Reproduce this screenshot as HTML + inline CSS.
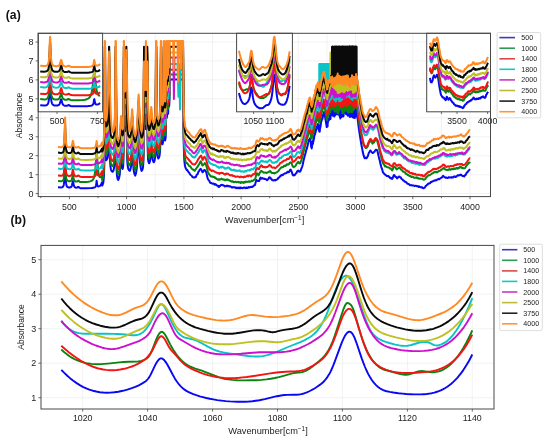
<!DOCTYPE html>
<html lang="en"><head><meta charset="utf-8"><title>Absorbance spectra</title>
<style>html,body{margin:0;padding:0;background:#fff}svg{display:block}</style></head>
<body>
<svg width="550" height="445" viewBox="0 0 550 445" font-family="'Liberation Sans', Arial, sans-serif">
<rect width="550" height="445" fill="#fff"/>
<defs>
<clipPath id="ca"><rect x="38.2" y="33.3" width="452.3" height="163.3"/></clipPath>
<clipPath id="ci1"><rect x="38.2" y="33.3" width="64.4" height="78.5"/></clipPath>
<clipPath id="ci2"><rect x="236.6" y="33.3" width="55.8" height="78.5"/></clipPath>
<clipPath id="ci3"><rect x="426.7" y="33.3" width="63.8" height="78.5"/></clipPath>
<clipPath id="cb"><rect x="41" y="245.4" width="453" height="163.6"/></clipPath>
</defs>
<path d="M40.8 33.3V196.6M69.4 33.3V196.6M98 33.3V196.6M126.6 33.3V196.6M155.2 33.3V196.6M183.9 33.3V196.6M212.5 33.3V196.6M241.1 33.3V196.6M269.7 33.3V196.6M298.3 33.3V196.6M326.9 33.3V196.6M355.6 33.3V196.6M384.2 33.3V196.6M412.8 33.3V196.6M441.4 33.3V196.6M470 33.3V196.6M38.2 193.6H490.5M38.2 174.7H490.5M38.2 155.7H490.5M38.2 136.8H490.5M38.2 117.8H490.5M38.2 98.8H490.5M38.2 79.9H490.5M38.2 60.9H490.5M38.2 42H490.5" stroke="#ececec" stroke-width="0.7" fill="none"/>
<g clip-path="url(#ca)" fill="none" stroke-linejoin="round" stroke-linecap="butt">
<polyline points="58,187.2 60.9,187.5 61.4,187.4 62.2,187.2 62.8,186.8 63.2,186.3 63.6,185.5 63.8,184.7 64.1,182.3 64.5,176.8 65.1,157.6 65.5,173.6 65.9,181 66.1,183.4 66.4,185.2 66.9,186.3 67.5,187 68.4,187.4 69.5,187.5 70.5,187.3 71.2,186.9 71.7,186.2 72,185.3 72.7,181.7 72.9,181.1 73.2,181.7 73.7,184.9 74.2,186.3 74.6,186.9 74.9,187.2 75.5,187.5 76,187.7 77.1,187.6 78.1,186.9 78.3,186.9 78.6,187 79.4,187.7 79.8,187.9 80.7,188.2 81.6,188.2 85.9,188.2 91.4,188.1 92.3,188 94.2,187.6 94.8,187.3 95.3,187 95.6,186.6 95.8,186.1 96.2,184.5 96.6,180.8 97.2,184.9 97.6,186 97.9,186.3 98.2,186.4 98.7,186.4 99.7,186.1 100.4,185.3 101.1,184.3 102,182.4 102.1,185.6 102.7,184.7 103.3,182.8 103.7,179 104,175.2 104.2,168 104.5,138 104.8,79.5 105,79.5 105.1,81.8 105.2,131.5 105.3,146.8 105.5,153 105.7,157.7 105.9,159.4 106.1,160.2 106.8,159.6 107.4,158.5 107.7,157.1 108,155.3 108.3,149.9 108.7,132.8 109,79.5 109.2,79.5 109.6,134.3 109.8,152 110,160.2 110.4,165.8 110.8,168.9 111.2,170.1 111.5,170.8 112,171.4 112.6,171.8 113,171.3 113.5,170.4 114,168.1 114.4,165.2 114.7,159.4 115,151.4 115.2,134.6 115.5,79.5 115.9,79.5 116,87.9 116.2,145.1 116.4,163.5 116.7,171 117,175.8 117.5,178.4 117.8,179.4 118.2,180 118.6,179.1 119.1,177.8 119.4,176.3 119.8,174 120.2,168.8 120.9,157.2 121.1,155.7 121.3,156.5 121.7,164.5 122.1,167.3 122.3,168.2 122.6,169 123,167.6 123.2,165.5 123.4,159.6 123.5,152 123.8,79.5 124,79.5 124.2,117.6 124.3,123.6 124.6,128.3 124.8,130 125.1,131.1 125.5,130.4 125.7,129.2 125.9,125 126.1,118 126.3,79.5 126.4,79.5 126.9,142.8 127.2,158.6 127.4,163 127.7,165.6 128.1,168.2 128.5,169.3 128.9,170.1 129.4,170.5 129.8,170.9 130.4,169.4 130.9,167.1 131.2,163.8 131.9,150.9 132.1,148.7 132.4,150.3 133,162.7 133.6,169.5 134,171.8 134.3,173.4 134.8,174.7 135.2,175.6 135.8,174 136.2,172.1 136.7,169 137,165.5 137.6,155.9 138.4,135.9 138.6,133.9 138.9,136.2 139.8,158.3 140.1,163.1 140.5,166.2 140.9,168.7 141.6,170.9 142.2,170.2 142.5,169.4 142.9,168 143.1,166.2 143.5,159.8 143.7,147.8 144,79.5 144.1,79.5 144.4,120.7 144.6,127.3 144.8,128.7 145.1,129.2 145.3,128 145.5,124.1 145.9,79.5 146.1,120.3 146.2,125.7 146.3,127.7 146.5,129.2 146.8,128.6 147,126.4 147.1,122.6 147.2,107.2 147.3,79.5 147.5,87.7 147.6,125.2 147.8,151 147.9,155.4 148.1,159.5 148.5,161.9 148.9,163 149.2,163.3 149.6,162.3 150,161.1 150.2,159.7 150.6,156.2 151,148.3 151.2,146.2 151.5,147.6 152.3,157.4 152.6,159.5 153,160.8 153.3,161.7 153.8,162.3 154.1,161.8 154.7,160.2 155.1,156.9 155.5,150.3 155.7,139.2 156,79.5 156.4,79.5 156.7,134.9 157,147.9 157.2,153 157.4,155.4 157.8,157.2 158,157.9 158.3,158.5 158.8,157.9 159.1,157.1 159.5,155.8 159.7,154.4 160.1,150.3 160.3,144.5 160.6,119.9 160.9,79.5 161.2,79.5 161.3,108.8 161.5,134.5 161.7,138.4 161.9,141.8 162.1,143.3 162.5,144.3 162.9,142.9 163.1,141.2 163.4,137.2 163.5,132.8 163.8,79.5 164.1,79.5 164.3,128.6 164.5,136.8 164.7,139.2 165.1,140.5 165.4,139.2 165.7,136.8 165.9,128.6 166.1,79.5 166.2,79.5 166.5,112.3 166.6,115.9 166.8,117.8 167,115.9 167.1,112.3 167.4,79.5 167.6,108.7 167.7,112.2 168,114 168.2,112.2 168.3,108.7 168.5,79.5 168.8,101.4 168.9,104.7 169.1,106.4 169.3,104.7 169.4,101.4 169.7,79.5 183.1,79.5 183.5,132 183.9,149.9 184.1,155.9 184.4,161.3 184.9,165.1 185.3,167.1 185.9,168.5 186.7,170 187,170.2 187.3,170 188.1,171.6 189.2,172.7 190.2,174.5 190.6,175 191.5,175.5 192.4,177 193.1,177.2 193.7,177.6 194.4,177.4 194.8,177.4 195.3,177 195.5,176.9 195.8,177 196,176.8 196.7,174.6 196.9,174.4 197.3,174.4 197.5,174.3 198.5,171.7 198.7,171.3 199.1,171.1 199.7,169.7 199.9,169.4 200.3,169.3 200.8,168.9 201,169.1 201.8,170.6 202.4,172.1 202.6,172.3 203,172 204.2,170.1 204.5,169.9 204.6,169.9 204.9,170.2 206,171.6 206.6,173.8 207.4,177.6 208,179.2 208.4,179.8 209.3,180.9 210.2,182.8 210.5,182.9 211.4,182.9 212,183.5 212.4,183.5 212.9,183.8 213.4,183.6 213.6,183.6 214.4,184.3 214.8,184.8 215,184.7 215.3,184.2 215.6,184.1 216.5,185.1 217.1,185.4 217.4,185.8 217.6,185.9 218,185.8 218.1,185.9 218.5,186.8 218.8,187 218.9,187 219.1,186.8 219.7,185.8 219.9,185.7 220.1,185.9 220.4,185.9 220.9,184.9 221.2,184.9 221.6,185 222.1,184.8 222.9,185.3 223.8,185.3 224.6,186.4 224.8,186.4 225.3,186.1 226.3,186.2 227,185.6 227.7,186.2 228.5,185.8 228.7,185.9 229.2,186.5 230.3,186.3 230.9,186.8 231.4,186.9 231.9,187.5 232.4,187.3 232.8,187.4 233.4,187.1 234.5,187.6 235,187.2 235.9,188.2 236.2,188.2 236.7,187.5 237.3,188.1 237.9,187.7 238.5,188.1 239,187.6 239.3,187.7 239.9,188.4 240.2,188.2 240.5,187.5 240.7,187.4 241.2,188 241.9,187.9 242.8,188.2 243.7,187.5 244.2,187.5 244.6,187.7 245.3,188.2 245.6,188.2 246.2,187.4 246.5,187.5 247,188.1 247.4,187.9 247.8,187.9 248.1,187.8 248.5,187.1 248.8,187 249.3,187.4 249.6,187.4 250.2,187.2 250.8,187.1 251.3,186.7 251.7,186.9 252.4,187 252.7,186.8 253.1,186.2 254.1,185.4 254.8,185.2 255.1,184.8 255.7,182.1 256.4,180.1 256.7,180.1 257.2,180.6 257.8,180.9 258.8,181.1 259.1,181.1 259.3,180.7 260,178.7 260.5,177.6 260.8,177.7 261.3,178.7 261.6,178.6 261.9,178.3 262.7,178.1 263.4,178.8 264,178.6 264.4,178.9 264.9,178.9 266,179.3 266.8,180.1 267.1,180.2 267.6,179.4 267.8,179.3 268.1,179.4 268.3,179.2 269,177.6 269.2,177.3 269.5,177.3 270.4,177.7 271,178.9 271.2,179 271.5,178.9 272.1,180 272.3,180.2 272.8,180.2 273.8,180.4 274.7,180 275.3,180.4 275.4,180.4 275.9,179.7 276.5,179.8 276.9,179.4 277.4,179.3 277.6,179.2 278.4,177.7 278.6,177.5 279,177.5 279.2,177.4 279.7,176.8 280.2,176.3 280.9,175.2 281.6,175.5 282.2,174.8 282.6,175.1 282.8,175.1 283.4,174.2 284.2,173.8 284.6,173.5 285.6,173.2 286.4,173 286.6,172.9 287.4,171.7 287.7,171.7 288.2,172.2 288.5,172.3 288.7,172.2 289.2,171.7 290.1,169.9 290.4,169.5 290.7,169.7 291.7,171.7 292.3,173.6 292.6,174.5 292.9,175.1 293.3,175.4 293.5,175.4 294,174.9 294.2,174.9 294.5,175.3 294.8,175.1 295.6,173.7 295.8,173.5 296.1,173.4 296.4,173.1 297.1,171.5 297.3,171.3 297.6,171.2 298.1,170.6 298.3,170.7 298.8,171.5 298.9,171.5 299.4,171.2 299.9,171.8 300.7,170.6 301.3,168.7 301.9,167.6 302.1,166.9 302.8,164.2 303.5,160.7 304.7,156 305.6,153 306,151.2 306.1,151.1 306.2,150.2 306.6,149.2 306.7,149.3 306.9,148.6 307.1,147.2 307.2,147.3 307.5,146 307.6,146.1 307.7,145.7 307.8,144.3 307.9,144.3 308.2,142.9 308.3,143.2 308.5,141 308.6,140.9 308.7,140.1 308.9,140.9 309,140.3 309.1,140.7 309.2,140.6 309.3,140.8 309.4,140.5 309.5,140.5 309.7,139.7 309.8,139.6 309.9,138.5 310,138.3 310.1,139 310.2,139 310.5,141.2 310.7,141.8 310.8,141.6 311,146 311.1,145 311.3,147.5 311.5,145.8 311.7,148.5 311.8,147.1 311.9,147.5 312.1,145.3 312.3,143.9 312.4,144.8 312.5,143.4 312.6,144.5 312.7,141.3 312.9,140.8 313,143.8 313.2,140 313.3,141.3 313.4,141.5 313.5,141.1 313.7,137.9 313.8,140 314,136 314.1,138.4 314.2,135.5 314.3,136.1 314.6,135.1 314.7,135.2 314.8,132.9 315.1,134.2 315.4,129.8 315.5,129.8 315.6,132.5 315.8,130.2 315.9,130 316.1,130.7 316.4,127.2 316.5,126.9 316.7,126.6 316.9,128.9 317.1,127.5 317.2,127.7 317.3,127 317.4,126.9 317.5,126.9 317.7,128 317.8,124.6 317.9,124.1 318.1,126.4 318.4,124.4 318.5,126.1 318.7,126.8 318.8,126.3 319,130.6 319.3,128.1 319.4,131.3 319.5,131.7 319.6,131.7 319.7,131.5 319.8,130.9 320,128.2 320.1,128.4 320.2,127.3 320.4,127.3 320.5,124.9 320.6,126.5 321.1,121.5 321.2,121.6 321.3,120.9 321.4,121.7 321.7,118.9 321.8,120.1 321.9,118.5 322,119 322.2,117.8 322.4,119.1 322.6,118 322.7,116.2 322.9,114.8 323,116.3 323.2,115.6 323.3,116 323.4,113.9 323.6,114.9 323.7,115 323.8,112.3 324,114.2 324.1,112.3 324.2,115 324.3,115.6 324.4,113.9 324.5,113.3 324.6,116.5 324.8,114.2 324.9,115.6 325,114.9 325.1,115.3 325.2,117.8 325.3,116.4 325.4,119.8 325.6,119.3 325.8,121.3 326,120.7 326.1,123.9 326.2,123.2 326.4,123.9 326.5,125.9 326.6,125 326.7,127.1 326.8,126.4 326.9,126.6 327.2,125.1 327.3,124.8 327.5,126.5 327.6,126 327.7,123.3 328.1,121.1 328.2,121.5 328.3,119.8 328.4,120.3 328.5,120.1 328.7,119.2 328.8,119.7 329,118.2 329.1,120 329.2,118.3 329.3,119.7 329.6,116.9 329.7,116.3 329.8,116.2 329.9,116.4 330.1,114.9 330.5,119.1 330.6,113.9 330.8,113.2 330.9,113.8 331.2,111.8 331.3,112.9 331.4,111.5 331.5,115.1 331.6,112 331.7,110.9 331.9,111.2 332.1,115.3 332.2,109.8 332.3,115.2 332.4,108.4 332.5,114.4 332.7,108.8 332.8,113 332.9,108.1 333,114.8 333.1,115.8 333.2,111.1 333.3,110.4 333.5,114.6 333.7,111.8 333.8,115.3 334,112.6 334.3,116.4 334.4,109 334.5,116.3 334.6,107.9 334.7,108.9 334.8,112.3 334.9,108 335.1,115.2 335.2,110.2 335.3,111.9 335.4,112.2 335.5,106.4 335.6,114.4 335.7,106.5 335.9,113.9 336,108.1 336.1,111.7 336.3,105.2 336.4,106.3 336.5,112.8 336.9,107.3 337,114.2 337.1,106.3 337.2,106.6 337.4,105.5 337.5,112.6 337.6,112.5 337.7,106.5 338,114.5 338.3,108.7 338.4,108.4 338.5,112.3 338.6,107.3 338.7,111.4 338.8,111.6 339,113.1 339.2,114 339.3,109.9 339.5,115.9 339.8,109.5 340,117.4 340.1,114.5 340.2,114.1 340.3,118.4 340.4,109.4 340.6,109.8 340.7,117.4 340.8,113.1 340.9,115.2 341,116 341.1,115.3 341.2,117.2 341.4,111 341.5,113.8 341.7,109 342,115 342.2,110.2 342.3,110.1 342.4,109.3 342.5,115.6 342.6,116.6 342.7,108.8 343,116.3 343.1,110.4 343.2,116.5 343.3,111 343.4,111.8 343.5,110.2 343.6,116 343.8,108.1 344,106.9 344.2,112.6 344.3,105.9 344.4,109 344.6,107.8 344.7,108.1 344.8,112.1 344.9,105.9 345.1,111.8 345.2,110.4 345.4,112.7 345.6,105 345.7,110.9 345.8,110.9 345.9,107.1 346,114 346.2,113.8 346.3,108 346.4,113.9 346.6,107.5 346.9,114.5 347,113.2 347.2,106.1 347.3,108.9 347.4,108.6 347.5,109.6 347.7,112.3 347.8,109.9 347.9,115.7 348.1,108.6 348.2,114.6 348.3,110.7 348.5,110.2 348.6,115.7 348.7,109.1 348.8,115 348.9,108.3 349,114.2 349.3,108.6 349.6,115.9 349.7,111.9 349.8,112.1 349.9,117 350.2,108.8 350.4,115.8 350.5,111.3 350.6,113 350.7,108.5 351,116.6 351.1,115.2 351.2,115.1 351.3,107.8 351.4,113.6 351.5,113.9 351.7,108.2 351.8,115.7 352,109.1 352.1,109.6 352.2,116.8 352.3,113.9 352.5,116.1 352.6,111.9 352.7,116.3 352.8,117.1 352.9,116.2 353,117.5 353.1,111.9 353.3,116 353.4,114.7 353.5,115.8 353.6,114.8 353.7,115.5 353.8,115.1 353.9,111.8 354.1,117 354.2,112.3 354.4,118 354.5,117.7 354.6,110.2 354.7,118.1 355,110.1 355.1,117.4 355.3,115.4 355.4,109.9 355.6,116.6 355.7,108.5 355.8,116.1 356,110 356.1,111.9 356.4,112.7 356.5,113.7 356.6,110.1 356.7,113.1 356.8,112.8 356.9,113.6 357,113.9 357.2,115.6 357.7,119.2 358.9,129.2 361.4,145 362.1,148.2 362.8,152.1 363.7,155.7 364.6,158.1 364.8,158.3 364.9,158.2 365.4,157.7 365.6,157.6 366.3,158.3 366.4,158.3 366.7,158.1 368,155.8 368.8,152.8 369.4,152 370.1,150.6 370.3,150.4 370.5,150.5 371,151.4 371.5,152.1 372.1,152.6 372.5,153 372.7,153.1 373.5,152.6 374.1,151.9 374.6,151.6 375.2,150.4 375.7,149.9 376,149.8 377,150 377.3,150.6 377.6,151.8 379.1,158.4 379.8,160.8 380.6,164.6 381.3,167.1 382.1,169.2 383,172.4 383.6,173 383.9,173.6 384.6,174 385.3,175 385.9,175 386.5,175.8 386.9,176.1 387.4,176.2 388.1,175.9 388.3,175.9 389,176.9 389.5,177 390.2,178.1 390.8,177.8 391,177.8 391.8,178.8 392.1,178.9 392.3,178.8 392.6,178.2 393.6,175.6 393.8,175.2 394,175 394.2,175.1 394.6,175.5 395.5,177 396.1,176.9 396.2,177 396.8,178.1 397.1,178.4 397.3,178.3 397.9,177.5 399,176.5 399.3,176.5 399.6,176.7 400.2,177.3 400.5,177.4 400.8,177.5 401.3,178.6 401.8,179.1 402.5,179.4 403.2,180.5 403.9,180.7 404.9,181.8 405.1,181.8 405.5,181.8 406,182.3 406.6,182.5 407.3,183.6 407.5,183.8 408.1,183.8 408.8,184.3 409.3,184.3 409.9,185.1 410.1,185.3 411.1,185.3 411.6,185.1 412.4,185.5 412.7,185.5 413.1,185.4 413.5,185.4 414,185.6 414.7,186.1 415.4,185.8 416.2,185.8 416.9,186.3 417.7,186.1 417.9,186.2 418.4,186.9 419.1,186.3 419.9,187 420.4,187.1 421,187.4 421.3,187.4 421.7,187.2 422.2,187.3 422.6,187.7 423.1,188.2 423.3,188.3 424.2,187.9 424.7,187.6 425.1,187 425.7,185.9 425.9,185.8 426.3,185.8 427,184.8 427.5,184.7 428.2,183.6 429.3,183.6 429.7,183.2 430.2,183.1 430.6,182.1 430.9,181.9 431.2,182 431.4,182 432,181.5 432.6,181.6 433.5,180.7 433.7,180.7 434.2,180.8 434.9,180.3 435.4,180.5 435.8,180.5 436,180.4 436.5,179.8 436.7,179.7 437,179.8 437.6,179.6 438.4,178.9 439,179.3 439.1,179.3 439.6,178.8 440.1,178.5 440.6,178.1 441.2,177.9 441.6,177.5 442.1,177.3 443.1,175.9 443.3,176 443.9,176.7 444.3,176.9 444.7,176.9 445.2,177.6 445.4,177.8 446.7,177.6 447.5,178.1 448,177.8 448.4,177.7 448.9,177.1 449.4,177.6 449.5,177.6 449.9,177.4 450.4,177.6 451,177.3 451.5,177.6 452,177.1 452.3,177.2 452.6,177.5 452.8,177.5 453.2,177.3 453.8,176.6 454,176.5 454.4,176.7 455.1,176.6 455.5,176.9 455.7,176.9 456.6,176.5 457.3,175.5 457.6,175.3 458.1,175.2 458.9,175.5 459.3,175.4 459.8,174.8 460.1,174.8 460.4,175 461,174.6 461.1,174.7 461.5,175.4 462,175.5 462.6,176 463,176.1 463.6,176 464.2,176.5 464.4,176.2 464.9,175.2 465.2,175 465.5,175 465.8,174.7 466.6,172.8 466.9,172.5 467.5,172.3 468.3,170.9 468.9,170.3 469.4,170 470,169.2" stroke="#0808f4" stroke-width="2.0" />
<polyline points="58,180.9 60.9,181.2 61.4,181.2 62.2,180.9 62.8,180.6 63.2,180 63.6,179.3 63.8,178.4 64.1,176.1 64.5,170.6 65.1,151.4 65.5,167.3 65.9,174.8 66.1,177.1 66.4,178.9 66.9,180.1 67.5,180.7 68.4,181.2 69.5,181.3 70.5,181.1 71.2,180.7 71.7,180 72,179.1 72.7,175.5 72.9,174.9 73.2,175.5 73.6,178.2 74.1,179.9 74.4,180.6 74.8,181 75.2,181.3 75.7,181.5 76.4,181.5 77,181.5 77.4,181.3 78.1,180.8 78.3,180.7 78.6,180.8 79.6,181.7 80.7,182 82.9,182.1 86.1,182 88.3,181.8 90,181.4 91.3,181 92.3,180.4 93.1,179.4 93.8,178.1 94.4,176.2 94.8,173.8 95.4,168.8 96.3,155.4 96.5,153.3 96.6,153 96.8,153.3 97,155.3 98,169.5 98.4,172.2 98.8,174.7 99.2,175.8 99.5,176.6 99.7,177 100.1,177.2 100.5,177.2 101.1,176.8 101.6,176.3 102,175.4 102.1,179.9 102.7,179 103.3,177 103.7,173.3 104,169.4 104.2,162.3 104.5,132.2 104.8,74.6 105,74.6 105.1,76.1 105.2,125.7 105.3,141.1 105.5,147.3 105.7,152 105.9,153.7 106.1,154.5 106.8,153.9 107.4,152.8 107.7,151.4 108,149.7 108.3,144.2 108.7,127.1 109,74.6 109.2,74.6 109.6,128.6 109.8,146.4 110,154.5 110.4,160.1 110.8,163.3 111.2,164.4 111.5,165.1 112,165.7 112.6,166.2 113,165.6 113.5,164.7 114,162.5 114.4,159.6 114.7,153.8 115,145.8 115.2,129 115.5,74.6 115.9,74.6 116,82.3 116.2,139.5 116.4,157.9 116.7,165.4 117,170.2 117.5,172.9 117.8,173.8 118.2,174.4 118.6,173.6 119.1,172.3 119.4,170.7 119.8,168.4 120.2,163.3 120.9,151.7 121.1,150.2 121.3,151 121.7,159 122.1,161.8 122.3,162.7 122.6,163.5 123,162.1 123.2,160 123.4,154.1 123.5,146.5 123.8,74.6 124,74.6 124.2,112.1 124.3,118.1 124.6,122.8 124.8,124.5 125.1,125.6 125.5,124.9 125.7,123.7 125.9,119.5 126.1,112.5 126.3,74.6 126.4,74.6 126.9,137.4 127.2,153.1 127.4,157.5 127.7,160.1 128.1,162.8 128.5,163.8 128.9,164.6 129.4,165.1 129.8,165.4 130.4,164 130.9,161.7 131.2,158.4 131.9,145.6 132.1,143.3 132.4,144.9 133,157.3 133.6,164.1 134,166.4 134.3,168 134.8,169.4 135.2,170.2 135.8,168.7 136.2,166.7 136.7,163.7 137,160.2 137.6,150.5 138.4,130.6 138.6,128.6 138.9,130.9 139.8,153 140.1,157.8 140.5,160.9 140.9,163.4 141.6,165.6 142.2,164.9 142.5,164.2 142.9,162.7 143.1,160.9 143.5,154.6 143.7,142.5 144,74.6 144.1,74.6 144.4,115.4 144.5,120.2 144.7,123 145.1,123.9 145.3,122.8 145.5,118.9 145.9,74.6 146.1,115.1 146.2,120.5 146.3,122.5 146.5,124 146.8,123.3 146.9,122.7 147.1,117.4 147.3,74.6 147.5,82.5 147.6,120 147.8,145.8 147.9,150.2 148.1,154.3 148.5,156.7 148.9,157.8 149.2,158.1 149.6,157.2 150,155.9 150.2,154.5 150.6,151 151,143.2 151.2,141.1 151.5,142.4 152.3,152.2 152.6,154.4 153,155.7 153.3,156.5 153.8,157.2 154.1,156.7 154.7,155.1 155.1,151.8 155.5,145.2 155.7,134.1 156,74.6 156.4,74.6 156.7,129.8 157,142.8 157.2,147.9 157.4,150.3 157.8,152.2 158,152.8 158.3,153.5 158.8,152.9 159.1,152.1 159.5,150.8 159.7,149.3 160.1,145.2 160.3,139.4 160.6,114.8 160.9,74.6 161.2,74.6 161.3,103.8 161.5,129.5 161.7,133.3 161.9,136.8 162.1,138.3 162.5,139.3 162.9,137.9 163.1,136.2 163.4,132.1 163.5,127.8 163.8,74.6 164.1,74.6 164.3,123.6 164.5,131.8 164.7,134.2 165.1,135.6 165.4,134.2 165.7,131.8 165.9,123.7 166.1,74.6 166.2,74.6 166.5,107.4 166.6,110.9 166.8,112.8 167,110.9 167.1,107.4 167.4,74.6 167.6,103.7 167.7,107.2 168,109.1 168.2,107.2 168.3,103.7 168.5,74.6 168.8,96.5 168.9,99.7 169.1,101.5 169.3,99.8 169.4,96.5 169.7,74.6 183.1,74.6 183.5,125.8 183.9,143.6 184.1,149.7 184.4,155 184.9,158.6 185.6,161.5 185.9,162.3 186.3,162.7 186.6,163.1 187.3,163.3 187.5,163.9 188.2,164.4 189.1,166.1 189.5,166.2 190,166.2 190.3,166.3 191,167.6 191.4,168.1 191.8,168.6 192.2,169 192.7,169.5 193.2,169.6 194.5,170.7 194.7,170.7 195,170.5 195.6,169.1 195.8,168.9 196.2,168.8 196.9,167.4 197.6,166.9 198.4,165.2 199.1,164.3 199.7,163 200.7,161.2 200.8,161.2 201,161.7 202.2,165.1 202.4,165.5 202.6,165.5 203.3,164.7 204,164.4 204.6,163.2 204.8,163.1 204.9,163.1 205.7,164.4 206.1,165.1 207,168.2 207.9,172.3 208.5,173 209,174.2 210.2,175.5 210.6,176.3 210.9,176.5 211.4,176.3 212,176.7 212.9,176.6 213.6,177.1 214.2,176.9 214.8,177.8 215,177.9 215.3,177.6 215.5,177.7 215.9,178.4 216,178.5 216.5,178.5 216.9,179.1 217.1,179.2 217.5,179.3 218,179.8 218.2,179.8 218.9,179.1 219.1,179.2 219.6,179.8 220,179.5 220.6,179.6 221.2,178.8 221.5,178.6 221.9,178.8 222.4,179.4 223.1,179.3 223.6,179.7 224.3,179.5 225,180.3 225.3,180.2 225.9,179.6 226.1,179.6 226.6,179.9 227,179.8 227.4,179.5 227.6,179.4 228.2,180.2 228.3,180.2 228.7,180 229,180 229.9,180.7 230.4,180.9 230.9,181.3 231.4,181.2 231.9,181.8 232.2,181.7 232.5,181.3 232.8,181.2 233.9,182.2 234.3,182.1 234.9,182.1 235.5,181.7 235.8,181.8 236.4,182.2 236.7,182.3 237.5,182.1 238,181.7 238.1,181.7 238.6,182.4 238.7,182.4 239,182.1 239.3,182.1 239.9,182.4 240.5,183 240.7,182.9 241.2,182 241.4,181.9 242.1,182.4 242.6,182.2 242.8,182.2 243.4,183 243.6,182.8 244.1,182 244.2,181.9 244.3,182 244.6,182.5 244.9,182.6 245.4,181.8 245.7,181.6 246.1,181.7 246.6,181.7 247,182 247.6,181.7 248.1,181.7 249.1,181.3 249.3,181.3 249.7,181.8 249.9,181.8 250.5,181.5 251,181.4 251.7,180.6 252.2,181 253.1,180.6 254.1,179.6 254.7,179.8 255.1,179.2 255.6,177.5 256.4,174 256.7,173.4 256.8,173.3 257,173.3 257.5,173.6 258.4,175.3 258.6,175.4 258.8,175 259.3,173.8 260.1,172.3 260.8,171.3 261.3,170.9 261.6,170.9 262.3,171.8 263.1,171.9 263.4,172.5 263.8,172.7 264,172.7 264.3,172.4 264.6,172.4 265.1,172.6 265.9,172.7 266.5,173.1 266.7,173 267.3,172.4 267.9,172.3 268.3,171.9 268.8,172 269.4,171.4 270.2,171 270.4,171.2 271,172.3 271.4,172.5 271.9,173 272.8,173 273.5,172.9 273.8,173 274.2,173.4 274.4,173.4 275,173 275.8,172.7 276.8,172.4 277.5,171.6 278.3,171.3 278.9,170.3 279.7,169.1 280.2,168.6 281.2,167.4 281.4,167.3 281.8,167.5 282.5,166.9 283.2,167.1 283.4,166.9 283.9,165.9 284.1,165.7 284.4,165.7 284.8,165.9 285.3,165.6 285.7,165.9 285.8,165.9 286.5,164.6 286.9,164.3 287.1,164.3 287.6,164.6 288,164.2 288.6,164.5 288.8,164.3 289.4,163.2 289.5,163 290,162.9 290.4,162.3 291,162.7 291.3,162.7 291.6,163 292.6,166.3 292.8,166.6 293.3,166.7 293.9,167.2 294.4,166.6 295,166.3 295.6,165.7 296.6,163.6 297.4,163 298,162.1 298.2,161.8 298.4,161.9 299,163.2 299.5,163.1 299.9,163.4 300,163.4 300.4,162.8 301.5,159.6 302.8,155.5 303.7,151.2 304.3,149.5 305.8,143.5 306,142.9 306.4,140.8 306.7,140.2 306.9,139.1 307,137.9 307.1,138.1 307.4,137.2 307.5,138 307.7,136.3 307.8,136.6 307.9,136.3 308,135.3 308.2,135.5 308.3,134.1 308.5,133 308.6,133.8 308.7,133.5 308.9,131.9 309,131.8 309.1,130.7 309.3,130.4 309.4,132.3 309.5,130.7 309.7,130.5 309.8,130.7 309.9,131.8 310,131.3 310.1,131.2 310.2,132.4 310.3,131.5 310.6,134 310.7,133.5 310.8,135.1 310.9,134.3 311,137.6 311.1,135.1 311.4,138.3 311.5,138.2 311.6,136.7 311.7,136.4 311.8,138.4 311.9,136.7 312.1,137 312.3,135.1 312.5,136.6 312.6,136.3 312.7,133.3 312.9,134.3 313,132.5 313.1,132.1 313.2,132 313.3,133.7 313.4,130.1 313.5,131.8 313.7,129.2 313.8,132.3 313.9,128.9 314,127.9 314.1,127.5 314.2,127.7 314.3,125.9 314.5,128.4 314.6,127.2 314.7,127.6 314.8,125 314.9,125.5 315,124.1 315.1,126.3 315.4,125.4 315.5,122 315.7,124.2 315.8,123.8 315.9,120.8 316.1,122.5 316.2,120.2 316.3,121.6 316.4,118.6 316.5,120.4 316.6,118.5 316.9,120.9 317,120.1 317.1,117.5 317.2,118.9 317.3,117.4 317.4,119.1 317.9,115.4 318,117.4 318.2,118.2 318.4,116.8 318.5,117.4 318.6,119.5 318.9,122 319,120.3 319.2,120.8 319.3,122.5 319.4,121.7 319.5,122.7 319.6,122.3 319.7,120.9 319.8,122 320.2,118.2 320.3,119 320.4,118.7 320.5,119.8 320.6,117.5 320.8,117.4 320.9,116.2 321,116.4 321.1,113 321.2,115.3 321.3,113.2 321.4,115 321.7,110.4 321.9,112.8 322.1,109.1 322.2,111.7 322.4,109.1 322.5,110.8 322.6,107.8 322.7,108.2 322.9,106.3 323,106.7 323.2,106.1 323.3,107 323.4,107.1 323.5,104.4 323.6,106.6 323.7,104.3 324,107.7 324.1,105.7 324.2,105.3 324.3,108.2 324.4,104.8 324.5,107.7 324.6,107.6 324.8,107 325,109 325.1,107.6 325.2,111.3 325.3,109.5 325.4,112.6 325.6,110.1 325.9,113.3 326,113.5 326.1,113 326.2,116.7 326.4,116.7 326.5,117.2 326.7,119.3 326.8,118.9 326.9,119.7 327,118.7 327.2,119.2 327.3,117.4 327.4,117 327.5,117.6 327.6,115.8 327.7,116.6 327.9,116.5 328.1,113.4 328.2,114 328.3,112.5 328.4,113.7 328.5,112.2 328.7,112.4 328.8,112 329,113.7 329.1,113.9 329.3,113.2 329.5,111.6 329.6,111.6 329.8,109 329.9,110.9 330,111.2 330.1,109.5 330.3,109.7 330.4,112.3 330.5,107.3 330.6,109.6 330.9,103.9 331.1,108.1 331.4,101.7 331.5,103.2 331.6,101.9 331.7,109.2 331.9,103.9 332,106.5 332.1,103.4 332.2,103.2 332.3,105.6 332.4,101.2 332.5,101.8 332.7,109.2 332.8,101.6 332.9,103.2 333,102.5 333.1,108 333.2,107.4 333.3,104.4 333.5,103.5 333.6,109.1 333.7,105.5 333.8,108.3 333.9,107.5 334,107.4 334.1,108.3 334.3,103.6 334.4,104.1 334.5,111.6 334.7,111.2 334.9,109.6 335.1,109.6 335.3,107.4 335.4,104.1 335.5,105.3 335.6,109.9 335.7,104.9 335.9,106 336,111.6 336.1,103.6 336.2,110 336.3,107.3 336.4,107.2 336.5,111.6 336.7,110.8 336.8,110.7 336.9,103.7 337.1,104.5 337.2,110.8 337.5,108.5 337.6,113.3 337.7,112.6 337.8,109.4 337.9,112.9 338,109.5 338.2,108.8 338.3,113.4 338.4,106.2 338.5,109.6 338.8,104.2 339,110.7 339.1,110.2 339.3,102.8 339.4,108.7 339.5,105.9 339.6,109.5 339.8,109.4 339.9,100.3 340,101.5 340.1,101.8 340.2,107.6 340.3,101.3 340.4,101.1 340.6,104.8 340.8,99 340.9,106.4 341,108.7 341.2,103.2 341.4,101.4 341.5,101.4 341.7,105.6 341.8,110 341.9,109.6 342,111.2 342.2,108.2 342.3,113.2 342.4,107 342.5,108.7 342.6,107.5 342.8,108.8 343,112 343.1,106.1 343.2,107.1 343.3,112.9 343.4,111.5 343.5,112.5 343.6,106.8 343.9,110.7 344,106.1 344.1,111.7 344.2,103.3 344.3,103.5 344.4,111.4 344.6,105.8 344.7,106.1 344.8,108.8 344.9,108.2 345,102.1 345.1,110.3 345.2,102.5 345.4,106.4 345.5,105.9 345.6,106.3 345.7,103.6 345.8,109.1 345.9,108.7 346,109.8 346.2,106.6 346.3,110.4 346.4,101.7 346.5,106.8 346.6,107.7 346.7,102.4 346.9,103.2 347,109.5 347.1,111 347.2,105.2 347.3,108.8 347.4,104.5 347.5,108.9 347.7,109.8 347.8,108.5 347.9,112.6 348,111.6 348.1,112.1 348.2,106.9 348.3,110.9 348.5,105.9 348.6,104.5 348.9,112.6 349,103.4 349.1,111.3 349.3,105.2 349.4,111.9 349.5,103.3 349.6,106.6 349.7,105.5 349.8,105.8 350.1,110.4 350.2,103.7 350.3,106.3 350.4,106.2 350.5,110.5 350.6,102.7 351,111.5 351.2,103 351.3,105.2 351.4,112.3 351.5,105.6 351.7,104.6 351.8,110.5 351.9,105.1 352,103.9 352.2,112.1 352.5,104.3 352.7,109.5 352.9,103.8 353.1,110 353.3,107.8 353.4,107.8 353.5,103 353.7,109.1 353.8,109.5 354.1,104.1 354.2,103.9 354.3,105.6 354.4,105.3 354.6,107.8 354.9,103.1 355,106.6 355.1,100.9 355.3,108 355.4,105.1 355.6,107.7 355.7,108 355.8,108 356,106.6 356.1,100.2 356.2,107.2 356.5,103.7 356.6,106.9 356.7,106 357,106.4 357.6,110.3 358.6,119.4 359.9,126.2 360.8,132.8 363.1,143.2 363.8,145.4 364,145.7 364.7,146.4 365.6,148 365.9,148.1 366.5,147.9 367.3,147.1 367.6,146.8 369.2,142.1 369.7,140.7 370,140.4 370.2,140.5 370.8,141.1 371.3,142 371.9,142.5 372.5,143.6 372.7,143.5 373.2,142.9 374.1,142.4 374.9,140.9 375.5,140.2 375.7,140.1 377,140.6 377.3,141.3 378.1,144.1 379.4,149.4 380.3,153.8 381.1,156.5 381.6,158.9 383.2,163.6 384.1,164.6 384.9,166.4 385.1,166.5 385.5,166.1 385.8,166.1 386.6,166.9 387,167.1 387.5,167.3 388.1,167.3 388.7,167.6 389.3,167.8 390,168.5 390.6,168.6 391.3,169.1 392.1,170.4 392.3,170.4 392.5,170 393.8,166.8 394,166.5 394.2,166.5 395.7,167.8 396.3,169 396.6,169.4 397.2,169.2 398.1,168.2 398.6,168.3 399.2,167.4 399.4,167.3 400,167.9 400.5,169 400.9,169.5 401.2,169.8 401.8,169.9 402.8,171.4 403.5,171.8 404.1,171.9 404.5,172.3 405,172.3 405.2,172.6 405.7,173.8 405.8,173.8 406.1,173.7 406.4,173.8 406.7,174.1 407.1,174.2 407.6,175.1 407.9,175.1 408.3,175 408.5,175.1 409.2,175.9 409.5,175.9 409.9,175.7 410.1,175.8 410.7,176.6 411.3,177.1 411.5,177.1 411.9,176.6 412.1,176.5 413,177 413.6,177.2 414.2,177.9 414.7,177.7 415.5,177.7 416.2,177.2 416.4,177.4 417,178.2 417.2,178.2 417.7,177.6 417.9,177.8 418.4,178.6 418.7,178.5 419.3,178.7 419.8,178.5 420.4,178.8 420.9,178.7 421.4,178.8 421.9,178.7 422.7,178.9 423.2,179.5 423.5,179.7 424.5,179.5 425.3,179.1 426.1,177.7 426.9,176.9 427.4,176.1 428,175.9 428.6,175.2 428.8,175.1 429.4,175.3 429.7,175.3 431.4,174 431.9,173.5 432.4,173.4 432.9,172.9 433.3,173 433.4,172.9 434,172.2 434.3,171.9 434.5,171.9 434.9,172.2 435.2,172.3 436.2,171.8 436.8,172.4 437.2,172.4 438.1,171.5 439.2,171 440.4,170.6 441.2,169.7 441.7,169.8 442.4,168.7 443.1,168.8 443.8,167.8 443.9,167.8 444,167.9 444.6,169.1 445.1,169.3 445.5,169.6 446.1,169.7 447.1,170.1 447.8,169.7 448.5,169.9 449.1,169.3 449.4,169.1 449.6,169.2 450.2,169.8 450.4,169.8 450.7,169.7 451.4,169 452.3,169.1 453.1,169.4 453.9,168.4 454.1,168.5 454.6,169 455,169.1 455.2,168.9 455.8,168.2 456.3,168.4 456.8,168 457.3,168.6 457.5,168.7 458.1,167.7 458.3,167.8 458.7,168 458.9,168.1 459.7,167.1 459.9,167.1 460.4,167.4 461,166.8 461.1,166.8 461.7,167.8 462,168.1 462.2,168.2 462.8,168 463.3,168.2 463.7,168.1 464.5,168.3 465.1,168 465.4,167.6 466.6,165.6 467.7,164.4 468.1,163.8 469,162.7 469.1,162.6 469.6,162.6 470,161.8" stroke="#0a8410" stroke-width="2.0" />
<polyline points="58,175.5 60.9,175.8 61.4,175.8 62.2,175.6 62.8,175.2 63.2,174.7 63.6,173.9 63.8,173.1 64.1,170.7 64.5,165.2 65.1,146 65.5,162 65.9,169.5 66.1,171.8 66.4,173.6 66.9,174.8 67.5,175.4 68.4,175.9 69.5,176 70.5,175.8 71.2,175.4 71.7,174.7 72,173.8 72.7,170.2 72.9,169.6 73.2,170.2 73.7,173.4 74.2,174.9 74.6,175.4 74.9,175.8 75.5,176.1 76,176.3 77.1,176.2 78.1,175.5 78.3,175.5 78.6,175.6 79.4,176.3 79.8,176.6 80.7,176.8 81.6,176.9 85.9,177 91.4,176.9 92.3,176.9 94.2,176.4 94.8,176.2 95.3,175.9 95.6,175.5 95.8,175 96.2,173.4 96.6,169.7 97.2,173.9 97.6,174.9 97.9,175.2 98.2,175.4 98.7,175.4 99.7,175.1 100.4,174.3 101.1,173.3 102,171.4 102.1,174.6 102.7,173.7 103.3,171.8 103.7,168 104,164.2 104.2,157 104.5,127 104.8,69.7 105,69.7 105.1,70.9 105.2,120.5 105.3,135.9 105.5,142.1 105.7,146.8 105.9,148.5 106.1,149.3 106.8,148.7 107.4,147.6 107.7,146.1 108,144.4 108.3,139 108.7,121.9 109,69.7 109.2,69.7 109.6,123.4 109.8,141.1 110,149.3 110.4,154.9 110.8,158.1 111.2,159.2 111.5,159.9 112,160.5 112.6,161 113,160.4 113.5,159.5 114,157.3 114.4,154.4 114.7,148.6 115,140.6 115.2,123.8 115.5,69.7 115.9,69.7 116,77.1 116.2,134.3 116.4,152.7 116.7,160.2 117,165.1 117.5,167.7 117.8,168.6 118.2,169.2 118.6,168.4 119.1,167.1 119.4,165.6 119.8,163.2 120.2,158.1 120.9,146.5 121.1,145 121.7,153.8 122.1,156.6 122.3,157.5 122.6,158.3 123,157 123.2,154.8 123.4,148.9 123.5,141.3 123.8,69.7 124,69.7 124.2,106.9 124.3,113 124.6,117.6 124.8,119.4 125.1,120.4 125.5,119.8 125.7,118.5 125.9,114.3 126.1,107.4 126.3,69.7 126.4,69.7 126.9,132.2 127.2,147.9 127.4,152.4 127.7,155 128.1,157.6 128.5,158.7 128.9,159.5 129.4,160 129.8,160.3 130.4,158.9 130.9,156.5 131.2,153.3 131.9,140.4 132.1,138.2 132.4,139.7 133,152.2 133.6,159 134,161.3 134.3,162.9 134.8,164.2 135.2,165.1 135.8,163.6 136.2,161.6 136.7,158.5 137,155 137.6,145.4 138.4,125.5 138.6,123.5 138.9,125.8 139.8,147.9 140.1,152.7 140.5,155.8 140.9,158.3 141.6,160.5 142.2,159.8 142.5,159.1 142.9,157.6 143.1,155.8 143.5,149.5 143.7,137.4 144,69.7 144.1,69.7 144.4,110.3 144.5,115.1 144.7,117.9 145.1,118.8 145.3,117.7 145.5,113.8 145.9,69.7 146.1,110 146.2,115.4 146.3,117.4 146.5,118.9 146.8,118.3 146.9,117.6 147.1,112.3 147.3,69.7 147.5,77.4 147.6,114.9 147.8,140.8 147.9,145.1 148.1,149.3 148.5,151.6 148.9,152.7 149.2,153 149.6,152.1 150,150.8 150.2,149.4 150.6,145.9 151,138.1 151.2,136 151.5,137.4 152.3,147.2 152.6,149.3 153,150.6 153.3,151.5 153.8,152.1 154.1,151.7 154.7,150 155.1,146.8 155.5,140.1 155.7,129 156,69.7 156.4,69.7 156.7,124.8 157,137.7 157.2,142.8 157.4,145.3 157.8,147.1 158,147.8 158.3,148.4 158.8,147.8 159.1,147 159.5,145.7 159.7,144.3 160.1,140.2 160.3,134.4 160.6,109.8 160.9,69.7 161.2,69.7 161.3,98.8 161.5,124.5 161.7,128.3 161.9,131.8 162.1,133.3 162.5,134.3 162.9,132.9 163.1,131.2 163.4,127.1 163.5,122.7 163.8,69.7 164.1,69.7 164.3,118.6 164.5,126.8 164.7,129.2 165.1,130.5 165.4,129.2 165.7,126.8 165.9,118.6 166.1,69.7 166.2,69.7 166.5,102.3 166.6,105.9 166.8,107.8 167,105.9 167.1,102.3 167.4,69.7 167.6,98.7 167.7,102.2 168,104 168.2,102.2 168.3,98.7 168.5,69.7 168.8,91.5 168.9,94.7 169.1,96.5 169.3,94.7 169.4,91.5 169.7,69.7 183.1,69.7 183.2,75.6 183.5,120.3 183.9,138.1 184.1,144.2 184.4,149.5 184.9,153.1 185.5,155.5 185.8,156.3 186.1,156.9 186.7,157.5 187.3,157.9 187.4,158.3 188.8,159.7 189.8,161.1 190.3,161.3 190.8,162.3 191.4,162.8 192.1,163.8 193,164.2 193.6,164.2 194.3,164.6 194.7,164.5 195,164.4 196.8,162 198.3,159 199,158.3 199.5,157.1 199.8,156.8 200.1,156.8 200.3,156.6 200.9,155.6 201.1,155.6 201.4,156 202.4,159.5 202.6,159.9 202.9,159.8 203.1,159.4 204.2,157 204.5,156.8 204.6,156.8 205.1,157.9 205.6,158.1 205.8,158.5 207.1,163 207.9,166.4 208.1,166.9 208.8,167.9 209.6,169.8 209.8,169.8 210.2,169.4 210.4,169.5 211,170.5 211.7,171.1 211.9,171.1 212.2,170.6 212.5,170.5 212.9,170.8 213.4,170.7 214.1,171.4 214.4,171.5 214.9,171.9 215.9,172.2 216.6,172.8 217.3,172.7 218,173.2 218.5,173 219.2,173.9 219.5,173.8 219.9,173.1 220.6,173.2 221.3,172.8 222.1,172.9 222.7,173.2 223.2,173.3 224.3,174.3 225.1,174.7 225.3,174.6 225.4,174.5 226,173.6 226.6,173.9 227,173.7 227.4,173.8 227.9,173.6 228.6,174.3 229.3,174.6 229.9,175.3 230.6,175.3 231.1,175.5 231.4,175.4 231.8,175.1 232,175.1 232.3,175.2 232.8,175.9 233.4,175.8 233.9,176.1 234.8,176.3 235.4,176.8 235.6,176.9 236.1,176.7 236.5,176.7 237.1,176.4 237.4,176.4 238.9,176.7 239.6,177.2 239.8,177.2 240.1,177.1 240.5,176.7 240.7,176.6 241.2,176.8 241.7,176.8 242,177.1 242.6,177 243.3,177.4 243.7,177.1 244.3,176.5 244.5,176.5 244.9,177 245.1,177.1 245.8,176.5 246.4,176.3 246.9,176.2 247.4,175.6 247.6,175.7 248,176.2 248.2,176.4 248.9,175.5 249.1,175.4 250.1,175.5 250.7,176.3 250.9,176.4 252.3,175.1 252.9,174.3 253.2,174.2 253.7,174.4 254.3,174 254.7,173.9 255.1,173.2 256.3,168.8 256.7,168.1 256.9,167.9 257,167.9 257.9,168.8 258.5,169.1 258.9,169.2 259.3,168.5 259.7,167 260,166.8 260.3,166.7 260.5,166.6 261.2,165.2 261.3,165.2 261.8,165.8 262.2,166 262.7,167.1 263,167.1 263.4,166.8 264,167.3 264.2,167.3 264.6,167 265,167 265.7,167.5 266.3,167 267.1,167.1 267.6,166.9 269.5,164.9 269.9,165.3 270.5,165.6 270.8,165.8 271.5,167 271.9,167.4 272.9,167.7 273.6,167.4 273.8,167.4 274.5,167.7 275,168.1 275.3,168.2 277.1,166.8 277.8,165.7 278.4,165.6 279.3,164.6 279.9,163.5 280.1,163.2 281.8,162.3 282.5,161.4 283.1,161.5 283.6,160.9 283.9,160.7 284.4,160.5 284.8,160.5 285.2,160.4 286.3,159.8 287.2,158.7 287.6,158.7 288.4,159 288.6,159 289.3,158.4 290,156.8 290.7,156.2 290.9,156.2 291,156.4 291.6,157.6 292.5,161.2 292.7,161.8 292.9,161.9 293.7,161.7 295.1,160.4 295.6,160.2 295.8,159.9 296.4,158.5 296.8,158.2 297.4,157.6 298.5,157 298.8,157.2 299.4,157.9 299.6,158 299.8,158 300.6,157.2 301.1,156.2 301.4,155.2 303.8,145.4 304.8,142.2 305.3,140.1 305.9,138.3 306.8,134.4 306.9,134.4 307,133.7 307.1,133.9 307.2,132.9 307.4,133 307.5,132.4 307.6,130.9 307.7,130.9 307.8,131.4 307.9,130.4 308,130.4 308.2,129.1 308.3,129.6 308.4,129 308.5,127.6 308.6,128.1 309,126.3 309.1,126.4 309.2,126.4 309.3,125 309.4,126 309.5,126 309.7,126.6 309.8,125.6 310.1,126.4 310.2,125.4 310.5,127.5 310.6,126.7 310.9,130 311,132.5 311.3,131 311.6,132.6 311.7,132.5 311.8,131.6 311.9,133.5 312.3,129.6 312.4,130.4 312.5,128.5 312.7,130.5 312.9,126.6 313,126.1 313.1,125.8 313.2,129 313.3,125.5 313.4,124.6 313.5,127.8 313.8,124.7 313.9,125.4 314.2,122.1 314.3,122.8 314.5,120.4 314.7,122.3 314.8,119.3 314.9,121.6 315,120.6 315.1,121 315.3,119.4 315.4,118.9 315.6,119.1 315.7,117 315.8,117.3 315.9,114.2 316.1,114.1 316.3,116.3 316.4,115.1 316.5,116.1 316.6,112.4 316.7,114.9 316.9,112.8 317,112.8 317.1,111.8 317.2,112.6 317.3,112.2 317.4,112.1 317.5,112.1 317.7,112.4 317.8,111.8 317.9,113.9 318,111.8 318.2,112.9 318.4,113.1 318.5,111.9 318.6,112 318.9,116.2 319,115 319.2,116.8 319.3,115.5 319.4,117.6 319.5,118.2 319.6,115.7 319.7,117.3 319.8,114.6 320,116.2 320.1,115.9 320.2,113.9 320.4,115 320.8,110.3 320.9,110.8 321,109.5 321.1,110.2 321.2,108.4 321.3,107.9 321.4,109.1 321.6,108.2 321.7,108.5 321.8,105 321.9,106.7 322,105 322.1,107.5 322.2,103.9 322.5,106.2 322.6,105.7 322.7,103 322.8,104.3 322.9,104.6 323,103.1 323.2,103 323.3,103.3 323.4,100.1 323.5,99.8 323.6,100.5 323.7,102.8 323.8,99.6 324.1,102.7 324.2,102.9 324.4,101.5 324.5,103.1 324.8,103.6 324.9,105.4 325,102.4 325.1,105.8 325.2,105.6 325.3,106.8 325.6,105 325.7,105.3 325.8,108.6 326,109.7 326.1,108.4 326.4,110.2 326.5,112.8 326.6,111.3 326.7,114.9 326.8,113.8 326.9,115 327.3,111.8 327.4,113.9 327.5,113 327.6,113.4 327.7,110.8 327.9,112.7 328.1,108.8 328.2,109.4 328.3,109.6 328.5,106.6 328.7,107.5 328.8,105.2 329,108.3 329.1,105.9 329.3,104.3 329.5,104.7 329.6,104.4 329.7,107 329.9,105 330,105 330.1,106.7 330.3,103.8 330.4,103.5 330.5,105.8 330.7,101.9 330.8,105.1 330.9,101 331.1,104.8 331.2,99.3 331.3,99.5 331.4,106.4 331.5,100.9 331.6,100 331.7,105.3 331.9,102.1 332,103.1 332.1,95.7 332.2,105.4 332.3,101.4 332.4,101.4 332.5,102.2 332.7,96.7 332.8,104.1 332.9,102.2 333,102.1 333.1,96.4 333.2,102.2 333.3,97 333.5,97.2 333.6,96.6 333.7,99.2 333.8,96.7 334,105.3 334.1,104.9 334.4,100.9 334.5,106.4 334.6,98.7 334.7,101.6 334.8,99.9 334.9,100 335.2,105.6 335.3,102.9 335.4,105 335.5,105.4 335.6,105 335.7,99.4 335.9,98.6 336.1,105.2 336.2,97.7 336.3,100.9 336.4,100.7 336.5,102.7 336.7,99.8 336.8,101.4 337,96.6 337.1,103.8 337.2,99.2 337.4,99.2 337.5,97.6 337.6,102.5 337.7,100.8 337.8,101.2 337.9,98.1 338,100 338.2,98.7 338.3,99.6 338.4,97.8 338.6,100.6 338.7,100.4 338.8,100.9 339,103.7 339.1,97.4 339.2,104.2 339.3,101.7 339.5,105.4 339.6,98.7 339.8,102.5 340,98.6 340.1,106.2 340.3,99.5 340.4,103.5 340.6,102.2 340.7,97.6 340.8,102.6 340.9,98.9 341,106.9 341.1,98.1 341.2,100.8 341.4,101.3 341.5,101.3 341.6,102.9 341.7,106.9 341.9,101.2 342,102.5 342.2,101.1 342.3,101.2 342.4,102.9 342.5,101.8 342.6,104.1 342.7,100.8 342.8,101.8 343,105.9 343.1,100.8 343.2,101.8 343.3,100.8 343.4,105 343.5,101.8 343.6,104.2 343.8,104.4 344,105.6 344.1,97.4 344.2,100.3 344.3,98.1 344.4,102.6 344.6,101 344.7,105.1 344.8,102.6 344.9,103.5 345,98.9 345.1,98.6 345.2,97.4 345.4,105.1 345.5,100.2 345.6,99.2 345.7,105.7 345.8,97.8 345.9,102.4 346,96.7 346.2,103.7 346.3,100 346.4,99.9 346.5,103.6 346.6,103.3 346.7,99.7 346.9,101.6 347,98.5 347.1,99 347.2,106 347.3,99.6 347.5,98.3 347.9,105 348,97.2 348.1,97.7 348.2,100.9 348.3,96.7 348.5,103.8 348.6,95.7 348.7,98.6 348.8,98.2 348.9,94.5 349,95 349.1,101.7 349.3,95.6 349.4,101.7 349.5,97.8 349.6,99.5 349.7,99.4 349.9,96.4 350.1,100.3 350.2,95.4 350.3,103.2 350.4,102.5 350.5,96 350.6,97.9 350.7,95.2 351,102.3 351.1,99.6 351.2,103.9 351.3,95 351.4,95.3 351.5,103.9 351.7,100.2 351.8,101.9 351.9,100.3 352,101.5 352.1,97.1 352.2,102.4 352.3,103.8 352.5,96.7 352.6,103.3 352.7,99.7 352.8,101.8 352.9,100.1 353,102.1 353.1,100 353.3,106.4 353.4,99.2 353.5,105.7 353.6,99.5 353.7,107.8 353.8,102.7 354.1,106.4 354.2,100.3 354.3,100.7 354.4,100.6 354.5,102.6 354.6,101.9 354.7,102.3 354.9,104.1 355.1,99 355.2,99.2 355.3,106.2 355.4,99.4 355.6,102.2 355.7,100.1 355.9,104 356,97.6 356.1,98 356.4,103.5 356.5,103.7 356.6,100.3 356.7,100.3 356.8,102.5 356.9,101.8 357,101.8 358.9,117.6 360.5,126.9 362,136.3 362.9,140.6 363.9,144.5 364.5,145.8 364.8,146.3 365.3,146.4 365.9,146.9 366.1,146.8 366.4,146.4 367.1,145.9 367.5,145.2 368,143.4 369.1,141.1 369.6,140.4 370.2,139.2 370.4,138.9 370.7,138.9 371,139.2 372,140.8 372.5,140.9 372.9,141.2 373.2,141.1 373.6,140.6 374,140.4 374.2,140.2 374.8,139.1 375.5,138.2 375.8,138.1 376.6,138.7 377,139.1 378,141.1 378.3,142.1 379.1,145.4 379.9,149.7 380.5,152.1 380.7,152.9 381.4,154.5 382.8,159.8 383.4,160.4 383.8,161.2 385.4,163.1 385.9,163.2 386.6,163.1 387.4,163.7 387.8,163.6 388.1,163.6 388.6,164.2 389.1,163.9 389.2,164 390.1,165.3 390.3,165.4 390.8,165.4 391.3,165.9 391.7,166 392.2,166.8 392.4,166.8 392.6,166.3 393.4,163.8 393.7,163.4 393.9,163.3 394.4,163.5 394.8,163.2 395,163.5 395.5,164.4 396.1,165 396.5,165.6 396.8,165.8 397.3,165.8 398,165 398.5,165 399,164.6 400.2,164.9 401,165.7 402.4,168.1 402.5,168.1 402.9,167.8 403.2,167.8 403.7,168.4 404.3,168.8 405,169 405.7,170.2 406.5,170.7 406.9,170.4 407.1,170.5 407.5,171.2 408.2,171.7 408.4,171.7 408.8,171.3 409,171.6 409.3,172.6 409.6,172.8 409.9,172.9 410.4,173.1 410.9,173 411.5,173.4 412.1,173 412.7,173.9 412.9,174 413.4,173.6 413.6,173.6 414.3,174.5 415.2,173.8 415.4,173.8 416.2,174.8 416.6,174.9 417.8,174.6 418.6,175 419.1,174.7 419.4,174.7 420,175 420.4,175.5 420.9,175.3 421.4,175.3 421.9,174.9 422.2,175.1 422.6,176 422.9,176.2 423.3,176.2 423.9,175.6 424.1,175.7 424.5,176.2 424.6,176.3 424.9,175.7 425.5,174.2 425.7,174.1 426.1,174.3 426.2,174.3 426.7,173.3 427.4,173.1 428.6,171.7 428.8,171.7 429.3,171.9 429.7,171.6 430.3,171.4 430.8,170.9 431.7,170.5 432.5,169.5 432.9,169.3 433.5,168.7 434.1,169.3 434.3,169.2 434.8,168.7 435,168.8 435.3,169.2 435.6,169.2 435.9,169 436.4,169.1 437,168.8 437.6,168.3 438.3,168.4 439.4,167.3 439.7,167.3 440,167.6 440.1,167.6 440.7,166.6 440.9,166.5 441.7,166.3 443,164.7 443.2,164.5 443.8,165 444.3,164.7 444.4,164.7 444.6,165 445.2,166.4 445.4,166.6 445.7,166.6 446.2,167 447,166.6 447.6,166.3 448,166.6 448.5,166.3 448.6,166.3 448.9,166.8 449.2,166.9 449.5,166.5 449.9,166.4 450.4,165.9 450.9,166.1 451.4,166 451.9,166.3 452.6,166 453.3,166.1 453.5,166 454,165.4 454.4,165.3 455,164.8 455.7,164.8 456.2,165.1 456.4,165.1 457.1,164.2 457.3,164.1 457.9,164.5 458.3,164.3 459.1,164.1 459.7,164.5 460.3,163.9 460.4,163.9 460.7,164.3 461,164.4 461.3,164.3 461.8,163.9 461.9,163.9 462.1,164.2 462.5,164.9 462.7,165.2 463.7,165.1 464.5,164.7 465.5,164 466.1,163 466.3,162.7 466.7,162.6 466.9,162.4 467.6,161 469.3,158.5 469.6,158.3 470,158.7" stroke="#f41414" stroke-width="2.0" />
<polyline points="58,168.6 60.9,168.9 61.4,168.9 62.2,168.7 62.8,168.4 63.2,167.8 63.6,167.1 63.8,166.2 64.1,163.9 64.5,158.4 65.1,139.2 65.5,155.2 65.9,162.7 66.1,165 66.4,166.8 66.9,168 67.5,168.6 68.4,169.1 69.5,169.2 70.5,169.1 71.2,168.7 71.7,168 72,167 72.7,163.5 72.9,162.9 73.2,163.5 73.7,166.7 74.2,168.1 74.6,168.7 74.9,169.1 75.5,169.4 76,169.6 77.1,169.5 78.1,168.9 78.3,168.8 78.6,168.9 79.4,169.7 79.8,169.9 80.7,170.2 81.6,170.3 85.9,170.4 91.4,170.4 92.3,170.3 94.2,170 94.8,169.7 95.3,169.4 95.6,169 95.8,168.5 96.2,166.9 96.6,163.3 97.2,167.4 97.6,168.4 97.9,168.8 98.2,168.9 98.7,168.9 99.7,168.6 100.4,167.9 101.1,166.9 102,165 102.1,168.2 102.7,167.3 103.3,165.4 103.7,161.7 104,157.8 104.2,150.7 104.5,120.6 104.8,64 105,64 105.1,64.5 105.2,114.1 105.3,129.5 105.5,135.7 105.7,140.4 105.9,142.1 106.1,143 106.8,142.4 107.4,141.2 107.7,139.8 108,138.1 108.3,132.7 108.7,115.5 109,64 109.2,64 109.6,117.1 109.8,134.8 110,143 110.4,148.6 110.8,151.8 111.2,152.9 111.5,153.6 112,154.2 112.6,154.7 113,154.1 113.5,153.3 114,151 114.4,148.2 114.7,142.3 115,134.3 115.2,117.6 115.5,64 115.9,64 116,70.9 116.2,128.1 116.4,146.5 116.7,154 117,158.8 117.5,161.4 117.8,162.4 118.2,163 118.6,162.2 119.1,160.9 119.4,159.3 119.8,157 120.2,151.9 120.9,140.3 121.1,138.8 121.7,147.6 122.1,150.4 122.3,151.3 122.6,152.1 123,150.8 123.2,148.6 123.4,142.8 123.5,135.1 123.8,64 124,64 124.2,100.8 124.3,106.8 124.6,111.5 124.8,113.2 125.1,114.3 125.5,113.6 125.7,112.4 125.9,108.2 126.1,101.2 126.3,64 126.4,64 126.9,126.1 127.2,141.8 127.4,146.3 127.7,148.8 128.1,151.5 128.5,152.6 128.9,153.4 129.4,153.9 129.8,154.2 130.4,152.8 130.9,150.5 131.2,147.2 131.9,134.4 132.1,132.1 132.4,133.7 133,146.1 133.6,152.9 134,155.3 134.3,156.8 134.8,158.2 135.2,159.1 135.8,157.5 136.2,155.6 136.7,152.5 137,149 137.6,139.4 138.4,119.5 138.6,117.5 138.9,119.8 139.8,142 140.1,146.7 140.5,149.8 140.9,152.4 141.6,154.5 142.2,153.9 142.5,153.1 142.9,151.7 143.1,149.9 143.5,143.5 143.7,131.5 144,64 144.1,64 144.4,104.4 144.5,109.2 144.7,111.9 145.1,112.9 145.3,111.8 145.5,107.9 145.9,64 146.1,104.1 146.2,109.5 146.3,111.5 146.5,113 146.8,112.4 146.9,111.7 147.1,106.4 147.3,64 147.5,71.5 147.6,109 147.8,134.9 147.9,139.2 148.1,143.4 148.5,145.7 148.9,146.9 149.2,147.2 149.6,146.2 150,145 150.2,143.6 150.6,140.1 151,132.2 151.2,130.2 151.5,131.5 152.3,141.3 152.6,143.5 153,144.8 153.3,145.6 153.8,146.3 154.1,145.8 154.4,145.1 154.7,144.2 155.1,141 155.5,134.4 155.7,123.2 156,64 156.4,64 156.7,119 157,132 157.2,137 157.4,139.5 157.8,141.4 158,142 158.3,142.7 158.8,142.1 159.1,141.3 159.5,140 159.7,138.5 160.1,134.4 160.3,128.7 160.6,104.1 160.9,64 161.2,64 161.3,93 161.5,118.7 161.7,122.6 161.9,126.1 162.1,127.5 162.5,128.6 162.9,127.2 163.1,125.4 163.4,121.4 163.5,117 163.8,64 164.1,64 164.3,112.9 164.5,121.1 164.7,123.5 165.1,124.8 165.4,123.5 165.7,121.1 165.9,113 166.1,64 166.2,64 166.5,96.7 166.6,100.2 166.8,102.1 167,100.2 167.1,96.7 167.4,64 167.6,93.1 167.7,96.5 168,98.4 168.2,96.5 168.3,93.1 168.5,64 168.8,85.8 168.9,89.1 169.1,90.8 169.3,89.1 169.4,85.8 169.7,64 177.6,64 178.4,96.7 179.2,64 180,109.6 180.8,64 183.1,64 183.2,69.2 183.5,113.9 183.9,131.7 184.1,137.7 184.4,142.9 184.9,146.6 185.3,148.6 185.7,149.3 186.3,150.2 187.3,151.2 187.4,151.6 188,151.9 188.9,153.2 190.3,154.1 191.3,155.2 191.9,156.3 192.7,157.1 193.4,157 193.9,157.5 194.6,157.4 195,157.2 195.5,156.4 196.3,155 197,154.5 197.6,153.2 197.8,153 198.2,152.9 198.4,152.7 198.7,152 199.5,149.9 199.9,149.4 200.3,148.9 200.8,148.1 201,148.2 201.3,148.7 202.2,151.9 202.5,152.7 202.9,152.7 203.1,152.6 204,150.3 204.2,150 204.3,150.1 204.8,150.6 205.3,150.6 205.5,151 206.4,153.6 207.6,158.6 208.1,159.8 208.7,161.5 209.2,162.3 209.4,162.5 209.8,162.5 210.5,163.7 211.6,163.8 212.4,164.7 213,164.4 213.6,164.9 214.1,164.8 214.8,165.2 215.6,165.3 216.9,166.6 217.3,166.7 217.6,166.6 217.9,166.6 218.4,167.3 219.2,168 220,167.4 220.6,166.8 220.8,166.8 221.5,167.5 221.7,167.3 222.1,166.7 222.3,166.6 223.5,167.5 223.9,167.4 224,167.4 224.5,168.4 224.7,168.6 225.2,168.3 225.4,168.3 225.9,168.6 226.1,168.7 226.8,167.9 227.2,168 227.8,167.5 228.2,167.7 228.8,167.6 229.1,167.7 229.9,169.1 230.1,169.1 230.4,168.8 230.6,168.9 231,169.9 231.2,170.2 232.2,169.9 232.5,170 233,170.2 233.5,169.7 233.8,169.6 234.1,169.8 234.7,170.8 234.8,170.8 235.3,170.3 235.8,170.7 236.3,170.5 236.5,170.5 237.3,171.2 237.5,171.1 238,170.6 238.8,170.7 239.5,170.3 239.7,170.4 240.3,171.3 240.5,171.5 241.5,171.5 242,171.2 242.2,171.2 243.6,172 244.3,171.3 244.5,171.2 244.9,171.4 245.4,171 246,171.5 246.1,171.5 246.9,170.6 247.5,170.5 248,170.2 248.3,170.2 249.3,170.5 249.7,170.3 250.1,169.5 250.4,169.5 250.7,169.8 250.9,169.9 251.5,169.1 251.7,169 252.2,169.3 253.2,169.5 253.5,169.2 253.9,168.2 254.1,167.9 254.7,167.8 255.2,168.1 255.3,168.1 255.5,167.4 256.1,164.2 256.4,163.5 257,163 257.6,162.8 258.8,164.1 258.9,164.1 259.5,163 260,162.5 260.8,161.2 261.8,160.6 261.9,160.6 262.4,161.4 262.5,161.4 263.1,161.1 263.8,161.8 264.8,161.8 265.2,161.4 265.8,161.7 266.3,161.5 266.4,161.5 266.8,162.2 267.1,162.4 268,161.6 268.6,160.8 268.9,160.6 269.5,160 269.7,159.9 270.7,160.5 271.4,161.3 272.1,162.5 272.5,162.6 272.9,162.8 273.5,162.6 273.9,162.8 274.5,162.6 275.1,162.7 275.8,161.8 276,161.9 276.5,162.3 276.7,162.2 277.1,161.6 277.8,160.2 277.9,160.2 278.3,160.5 278.4,160.5 278.6,160.1 279.2,158.5 279.5,158 279.7,157.9 280.1,158 281.2,158 282,156.5 282.6,156.5 283.7,155.5 284.7,154.9 285.3,155 285.8,154.9 286.2,155 287.1,154.3 287.9,154.5 288.7,153.4 289.2,153.2 289.4,153 290.5,151.5 290.9,151.5 291.2,152 292.8,156.4 293.1,156.8 293.5,157.1 294.1,157 294.5,156.3 295.1,156.3 297.3,152.2 298.2,152.2 298.5,152.4 299,152.3 299.2,152.5 299.6,153 299.7,153 299.9,152.8 300.3,152.3 300.8,150.7 301.4,149.7 301.8,148.6 302.7,144.7 303.4,142.6 304.8,136.4 305.5,134.5 306.1,132.5 306.3,131.1 306.6,130.8 307.2,127.7 307.4,127.3 307.5,127.9 307.9,125.3 308,125.8 308.2,124 308.3,125.1 308.6,122.4 309.1,120.9 309.2,120.7 309.3,121.6 309.5,119.9 309.7,121.3 309.8,119.6 309.9,119.5 310,120.6 310.1,119 310.2,119.5 310.6,122.6 310.7,123.1 310.8,123 310.9,125.1 311,125.5 311.4,129 311.5,129.3 311.6,126.8 311.7,127 311.9,128.4 312.2,124.1 312.3,126.9 312.4,124.5 312.5,125.4 312.6,125.1 312.9,121.1 313.1,123.2 313.2,121.2 313.3,122 313.4,121.7 313.5,118.8 313.7,118.8 313.8,119.2 313.9,119.1 314,119.8 314.1,118.6 314.2,119 314.6,117.2 314.7,113.9 314.8,114.9 314.9,114.9 315,115.9 315.4,112.1 315.5,113.8 315.7,109.6 315.9,110 316.1,111.4 316.2,107.6 316.3,107.5 316.4,106.9 316.5,110.1 316.7,107.3 316.9,109.4 317,107.7 317.1,109 317.2,107.1 317.3,108.9 317.4,106 317.5,108.2 317.7,105 317.8,104.9 317.9,105.9 318,105.4 318.2,108.1 318.4,107.6 318.5,109.3 318.6,108.1 318.7,107.8 318.8,109.7 318.9,109.2 319,111.6 319.2,111.3 319.3,64 319.7,64 319.8,109.8 320,64 320.2,64 320.3,109.1 320.4,64 321,64 321.1,103.2 321.2,64 321.6,64 321.7,102.7 321.8,64 321.9,98.4 322,64 322.1,99 322.2,98.3 322.4,64 322.5,64 322.6,96 322.7,64 322.8,64 322.9,97.2 323,64 323.2,64 323.3,95.5 323.4,64 323.8,64 324,93.5 324.1,64 324.9,64 325,95.9 325.1,96 325.2,64 326,64 326.1,102.1 326.2,64 326.4,104.1 326.5,64 326.7,64 326.8,109.3 326.9,64 327.7,64 327.9,106.1 328,64 328.1,103.5 328.2,64 328.5,64 328.7,102 328.8,64 329,64 329.1,99.1 329.2,64 329.3,102 329.5,99.3 329.6,64 329.7,100.9 329.8,64 330.4,64 330.5,97.7 330.6,64 330.7,96.1 330.8,64 330.9,93 331.2,96 331.3,91.1 331.4,98.9 331.5,90.5 331.7,97.7 331.9,89.3 332,88.7 332.2,95 332.3,95.9 332.4,90.9 332.5,91.5 332.7,91.4 332.8,97.2 332.9,93.3 333,95.1 333.2,92.5 333.3,95.9 333.5,90.3 333.6,95.3 333.7,92.8 333.9,92.5 334,99.4 334.3,95.6 334.4,100 334.5,96 334.6,96.7 334.7,96.6 334.8,99.6 335.1,94 335.2,93.6 335.3,97.6 335.4,98.8 335.6,92.6 335.9,101.6 336,96.2 336.1,96 336.2,99 336.4,92.4 336.7,99.5 336.9,97.4 337,93.8 337.1,94.1 337.2,93.8 337.5,91.2 337.7,95.2 337.9,93.4 338,99.1 338.3,94.3 338.4,93.9 338.5,98.7 338.7,95.2 338.8,96.1 339,92 339.2,101.2 339.4,96.4 339.5,96.8 339.6,99.3 339.8,93.1 339.9,92.9 340,92.2 340.1,92.3 340.2,98.6 340.3,94.9 340.4,96.5 340.6,93.6 340.7,101 340.8,101.1 340.9,99.8 341.1,95 341.2,96 341.4,94.4 341.5,95 341.6,99 341.7,99.1 341.8,94.7 341.9,99.8 342,93.6 342.2,98.7 342.4,90.6 342.5,92.3 342.6,92.1 342.7,89 342.8,92.4 343,89.5 343.1,92.2 343.2,89.4 343.4,94.4 343.5,94.6 343.6,88.5 343.8,89.3 343.9,88.7 344.1,96.3 344.3,92.7 344.4,96.1 344.6,90.4 344.7,97.9 344.8,90.6 344.9,94.3 345,92.9 345.1,93.1 345.2,94.9 345.4,91 345.5,96.7 345.7,90.4 345.8,97.4 346.2,94 346.3,91.5 346.4,91.2 346.5,93.6 346.6,88.6 346.7,93 346.9,91.1 347,96.4 347.1,93.7 347.2,96.2 347.3,91.5 347.5,95.8 347.7,88.1 347.8,94.3 347.9,95.6 348,92.5 348.1,92.5 348.3,93.6 348.5,90 348.6,89 348.7,95.1 348.8,96.8 348.9,96.6 349.1,89.6 349.3,88.8 349.4,89.8 349.5,93.4 349.6,93.9 349.7,90.7 350.1,96.8 350.2,96.4 350.5,98.4 350.6,92.3 350.7,90.6 350.9,98.4 351,94.5 351.1,98.1 351.3,90.9 351.4,95.9 351.5,93 351.7,93 351.8,90.7 352,99.4 352.1,94.3 352.2,98.5 352.3,98.6 352.5,99.9 352.7,91.7 352.8,98.8 353,92.3 353.3,96.1 353.4,93 353.5,94.4 353.6,93.6 353.7,94.9 353.9,90 354.1,94.6 354.2,92.5 354.3,92.9 354.4,97.2 354.5,91.2 354.6,94.2 354.7,89.8 354.9,90 355.1,97.1 355.2,97.5 355.3,91.4 355.4,91.7 355.6,98.2 355.8,90.5 355.9,95.3 356,94.5 356.2,94 356.4,97.3 356.5,92.5 356.8,95.2 356.9,95 357,94.4 358.8,107.6 361,121.5 362.5,128.6 363.6,132.4 364.5,134.6 364.9,135.3 365.2,135.4 366.1,135.1 366.5,134.8 366.9,134.7 367.1,134.5 368.4,131.5 369.2,129.3 370.2,127 370.3,126.9 370.5,127.1 371.2,128.6 371.8,128.9 372.4,129.5 372.8,129.8 373.1,129.7 374,128.8 374.7,127.9 375.2,127.3 375.8,126.4 376.2,126.3 376.4,126.4 377.3,127.6 378.3,130.7 379.9,138.7 381.4,143.7 382.1,146.4 382.8,148.1 383.5,148.9 384.2,150.8 385.9,152.3 386.5,152.2 387,152.7 387.3,152.5 387.6,152 387.8,152.1 388.4,153.1 388.5,153.2 389.1,153.1 389.8,153.5 390.8,154.6 391.4,155.5 391.8,155.2 392.3,155.1 392.5,154.9 393.4,152.8 393.9,152.1 394.5,152.6 395,152.8 395.5,153.3 395.8,153.7 396.4,154.8 396.6,154.9 396.9,154.8 397.6,154.2 398.1,154.2 398.6,153.8 399,154.1 399.3,154.1 399.8,153.3 400.1,153.2 400.3,153.5 400.8,154.4 401.3,154.9 401.8,155.9 401.9,156 402.2,155.9 402.5,156 402.9,157 403.5,157.4 404.1,158.4 404.3,158.5 404.9,158.1 405.1,158.2 406.3,159.3 406.7,159.7 407.2,160.3 407.6,160.3 407.9,160.5 408.2,161.1 408.4,161.3 409.5,161.6 409.8,161.5 410.3,161.1 410.6,161.1 410.9,161.5 411.6,162.7 412,163 412.4,162.9 412.9,163 413.4,162.8 413.9,163.5 414.5,163.4 415.1,163.7 415.8,163.8 416.4,163.5 417.2,163.7 418.3,164.1 418.8,164.7 419.6,164.9 420.2,164.6 420.9,164.7 421.7,164.4 423.1,165 423.5,164.9 424.1,165.1 425.1,164.9 426.1,163.7 426.6,162.8 427.2,162.6 427.5,162.3 428,162.3 429.4,160.9 429.8,160.7 430.5,160.6 431.7,159.4 432.8,158.9 433.3,158.5 433.8,158.4 434.1,158.4 434.5,158.7 435,158.6 435.4,158.7 436.1,158.3 437.2,158.2 437.7,157.8 438.3,157.8 439.2,156.8 439.9,156.6 440.4,156.6 440.5,156.6 441.1,155.5 441.2,155.4 441.5,155.5 441.7,155.4 442.2,154.7 442.4,154.5 442.9,154.6 443.2,154.6 443.7,154.9 444.3,154.6 444.9,155.7 445.7,156.3 446,156.3 446.4,156.2 447.1,156.7 447.3,156.6 447.9,155.9 448.4,155.6 449.1,156.3 449.9,156.4 450.3,156.3 450.9,155.8 451.5,156.1 451.9,156.1 452.8,155.6 453.5,155.6 454,155.3 454.3,155.3 454.9,155 455.5,155.4 455.7,155.2 456.2,154.6 456.8,155 457.1,155 457.9,154.2 458.7,154 459.3,153.7 460.5,154.1 460.7,154 461.2,153.2 461.4,153.2 461.8,153.8 462.2,154.3 464.1,154.6 464.6,154.2 465.1,154.2 465.2,154.1 465.9,152.6 466.5,152.4 467.1,151.4 467.7,151.1 468.4,149.9 469,149.5 469.7,148.5 470,148.4" stroke="#08c4c8" stroke-width="2.0" />
<polyline points="58,163.5 60.9,163.8 61.4,163.8 62.2,163.6 62.8,163.2 63.2,162.7 63.6,161.9 63.8,161.1 64.1,158.7 64.5,153.2 65.1,134 65.5,150 65.9,157.5 66.1,159.8 66.4,161.6 66.9,162.8 67.5,163.4 68.4,163.8 69.5,164 70.5,163.8 71.2,163.4 71.7,162.7 72,161.8 72.7,158.2 72.9,157.6 73.2,158.2 73.7,161.4 74.2,162.8 74.6,163.4 74.9,163.8 75.5,164.1 76,164.3 77.1,164.2 78.1,163.5 78.3,163.5 78.6,163.6 79.4,164.3 79.8,164.6 80.7,164.8 81.6,164.9 85.9,165 91.4,164.9 92.3,164.8 94.2,164.4 94.8,164.2 95.3,163.9 95.6,163.5 95.8,163 96.2,161.4 96.6,157.7 97.2,161.8 97.6,162.8 97.9,163.2 98.2,163.3 98.7,163.3 99.7,163 100.4,162.2 101.1,161.3 102,159.4 102.1,162.6 102.7,161.7 103.3,159.7 103.7,156 104,152.2 104.2,145 104.5,115 104.8,57.5 105,57.5 105.1,58.8 105.2,108.5 105.3,123.9 105.5,130 105.7,134.7 105.9,136.5 106.1,137.3 106.8,136.7 107.4,135.5 107.7,134.1 108,132.4 108.3,127 108.7,109.8 109,57.5 109.2,57.5 109.6,111.4 109.8,129.1 110,137.2 110.4,142.9 110.8,146 111.2,147.2 111.5,147.9 112,148.5 112.6,148.9 113,148.4 113.5,147.5 114,145.2 114.4,142.4 114.7,136.6 115,128.5 115.2,111.8 115.5,57.5 115.9,57.5 116,65.1 116.2,122.3 116.4,140.7 116.7,148.2 117,153 117.5,155.6 117.8,156.6 118.2,157.2 118.6,156.3 119.1,155 119.4,153.5 119.8,151.2 120.2,146 120.9,134.5 121.1,132.9 121.7,141.7 122.1,144.5 122.3,145.5 122.6,146.2 123,144.9 123.2,142.7 123.4,136.9 123.5,129.2 123.8,57.5 124,57.5 124.2,94.8 124.3,100.9 124.6,105.6 124.8,107.3 125.1,108.4 125.5,107.7 125.7,106.5 125.9,102.3 126.1,95.3 126.3,57.5 126.4,57.5 126.9,120.1 127.2,135.9 127.4,140.3 127.7,142.9 128.1,145.6 128.5,146.6 128.9,147.4 129.4,147.9 129.8,148.2 130.4,146.8 130.9,144.5 131.2,141.2 131.9,128.3 132.1,126.1 132.4,127.7 133,140.1 133.6,146.9 134,149.2 134.3,150.8 134.8,152.2 135.2,153 135.8,151.5 136.2,149.5 136.7,146.5 137,143 137.6,133.3 138.4,113.4 138.6,111.4 138.9,113.7 139.8,135.9 140.1,140.6 140.5,143.7 140.9,146.3 141.6,148.4 142.2,147.8 142.5,147 142.9,145.6 143.1,143.7 143.5,137.4 143.7,125.3 144,57.5 144.1,57.5 144.4,98.2 144.5,103 144.7,105.8 145.1,106.8 145.3,105.6 145.5,101.7 145.9,57.5 146.1,97.9 146.2,103.3 146.3,105.3 146.5,106.8 146.8,106.2 146.9,105.5 147.1,100.2 147.3,57.5 147.5,65.3 147.6,102.8 147.8,128.7 147.9,133 148.1,137.2 148.5,139.5 148.9,140.7 149.2,140.9 149.6,140 150,138.7 150.2,137.4 150.6,133.9 151,126 151.2,123.9 151.5,125.3 152.3,135.1 152.6,137.2 153,138.5 153.3,139.4 153.8,140.1 154.1,139.6 154.7,138 155.1,134.7 155.5,128.1 155.7,116.9 156,57.5 156.4,57.5 156.7,112.7 157,125.6 157.2,130.7 157.4,133.2 157.8,135 158,135.7 158.3,136.3 158.8,135.7 159.1,134.9 159.5,133.6 159.7,132.2 160.1,128.1 160.3,122.3 160.6,97.7 160.9,57.5 161.2,57.5 161.3,86.7 161.5,112.4 161.7,116.2 161.9,119.7 162.1,121.2 162.5,122.2 162.9,120.8 163.1,119.1 163.4,115 163.5,110.6 163.8,57.5 164.1,57.5 164.3,106.5 164.5,114.7 164.7,117.1 165.1,118.4 165.4,117.1 165.7,114.7 165.9,106.6 166.1,57.5 166.2,57.5 166.5,90.2 166.6,93.8 166.8,95.7 167,93.8 167.1,90.2 167.4,57.5 167.6,86.6 167.7,90.1 168,91.9 168.2,90.1 168.3,86.6 168.5,57.5 168.8,79.4 168.9,82.6 169.1,84.4 169.3,82.6 169.4,79.4 169.7,57.5 173.4,57.5 173.9,99 174.4,57.5 183.1,57.5 183.5,108.5 183.9,126.3 184.1,132.3 184.4,137.6 184.9,141.3 185.5,143.6 186,144.9 186.8,146 187.3,146.4 187.5,147 187.8,147.2 188.2,147.2 188.4,147.3 190.3,150.1 190.5,150.2 190.7,150.1 191,150.2 191.8,150.9 192.2,151.8 193.1,152.8 193.6,153.2 193.9,153.3 194.5,153.2 195.1,152.3 195.5,152.2 196.2,151.1 196.8,150.4 198.3,147.6 198.7,146.9 199.3,146.3 200,144.5 200.3,144 200.7,143.9 201.3,144.5 202.1,147 202.6,148.1 202.9,148.2 203.1,147.9 204,145.7 204.3,145.6 204.9,145.9 205.8,146.9 206.2,147.6 207.1,151.5 208.1,155 208.9,156.7 209.5,158.3 209.6,158.3 210.1,158 210.6,159 210.8,159.1 211.2,159.1 212.4,160 212.6,160 213.2,159.6 213.5,159.6 214.3,160.3 215.8,161.1 216.4,161.8 216.8,161.7 217.4,162.2 218,162 218.3,162 218.9,162.6 219.1,162.6 219.7,162.3 220.1,162.3 220.7,162.1 221.3,161.8 222.2,161.6 222.4,161.8 222.9,162.5 223.1,162.7 224.1,162.6 225.1,163.1 225.9,163.2 226.6,162.6 226.9,162.7 227.4,163.1 227.6,163.2 228,162.9 228.4,162.9 228.6,163 229.4,163.7 230,163.4 230.1,163.5 230.7,164.3 231.1,164.4 231.6,164.7 232.2,164.6 232.6,164.6 233.1,164.4 233.7,164.9 234,165 234.6,165.2 234.8,165.2 235.1,164.9 235.8,165.1 236.3,164.8 237,164.7 238.7,165.6 239.6,165.3 239.8,165.3 240.4,166.1 240.9,166.3 241.1,166.3 241.7,166 242.2,166.1 242.8,165.9 243.4,166.3 243.6,166.3 244.2,166 244.8,166 245.2,165.8 245.8,165.7 246.4,165.4 246.9,165.6 247.5,165.2 248.2,165.2 248.6,164.8 249.2,165.1 249.9,164.9 250.5,164.5 251.2,165.1 251.4,164.9 251.8,164.3 252.3,164.1 252.8,163.6 253.8,163.5 254.4,162.9 254.6,162.9 254.9,163.2 255.1,163.2 255.2,163 256.2,158.6 256.5,157.6 256.8,157.3 257.6,157.1 257.8,157.3 258.4,158.3 258.6,158.4 259.3,158.2 259.5,158 260.2,156.3 260.8,155.5 261.1,155.2 261.3,155.2 261.8,155.7 262.2,155.9 262.6,156 263.1,155.9 263.5,156.2 264.1,156 264.8,156.7 265.6,156.8 266.7,156.7 267.5,155.8 268.1,156.1 268.7,155.3 268.9,155.1 269.9,155 270.5,155.5 270.8,155.4 271.1,155.5 271.8,157 272.5,157.4 272.8,157.5 273.8,157.4 274.5,156.8 274.6,156.8 275.1,157.6 275.3,157.8 276,156.6 276.6,156.7 277.1,156.1 277.6,155.9 277.8,155.8 278.6,154.5 279.5,153.4 280.1,152.4 281.6,151.9 282.2,151.5 282.8,151.2 283.2,150.8 284,150.7 284.6,150 285.3,149.5 285.5,149.6 285.8,150 286.1,150.2 286.3,150 286.8,149.4 287.3,148.9 287.6,148.8 287.9,149.1 288.1,149 288.6,148.5 289.2,148 290.4,146.5 290.7,146.6 291.2,147.2 291.5,147.6 292.6,150.9 292.9,151.4 293.6,151 294,151.1 294.2,151.1 294.8,150.5 295.2,150.6 295.5,150.5 295.9,149.7 296.5,148.5 297.1,147.9 298.1,146.4 298.3,146.5 299.5,148.2 299.7,148.4 299.8,148.3 301.3,144.9 302.2,141.8 303,138.9 304.2,133.8 305.9,128.2 306.1,126.9 306.2,126.8 306.3,126.3 306.4,125.4 306.6,125.3 306.7,124.5 306.8,124.5 307.2,122.2 307.4,122.3 307.5,122.1 307.7,120.2 307.8,119.8 307.9,120 308.2,119.2 308.3,117.9 308.4,118.1 308.5,117.1 308.6,118.2 308.7,118 309,115.7 309.1,116.1 309.2,115.4 309.3,117.1 309.7,116.3 309.8,116.4 309.9,115 310,115 310.5,117.8 310.6,118.2 310.7,118.1 310.9,120.2 311,119.8 311.4,123.9 311.5,121.5 311.6,121.8 311.7,124 311.8,122.3 312.1,120.8 312.2,122.2 312.4,118.4 312.5,119.3 312.6,117.6 312.7,119.3 313.1,116.1 313.2,116.7 313.3,114.2 313.7,115.7 313.8,114.7 313.9,114.6 314,112.7 314.2,114 314.5,109.7 314.6,110 314.8,108.6 315,110.7 315.4,106.2 315.6,107.8 315.7,105.7 315.8,107.3 315.9,107.4 316.1,107 316.2,103.7 316.3,105.9 316.4,105.7 316.6,101.7 316.7,102.7 316.9,101.4 317,103.9 317.1,103.6 317.2,102.1 317.5,101.2 317.7,102.8 317.8,99.6 317.9,99.7 318,101.4 318.4,103.1 318.5,102 318.6,104.8 318.7,104.3 318.8,105.4 318.9,103 319,103.2 319.3,106.4 319.4,106.6 319.5,105.4 319.6,107.4 319.7,105.8 319.8,106.1 320,104.2 320.1,104.3 320.2,102.7 320.3,104.4 320.4,101.8 320.6,103.3 320.8,100.7 320.9,100.5 321.2,98.7 321.3,96 321.4,98.4 321.6,95.5 321.7,96.4 321.9,94.1 322,96.9 322.2,93.1 322.4,93.2 322.5,92.1 322.6,94 322.7,91.4 322.8,90.8 322.9,91.9 323,90.8 323.2,92.7 323.3,91.4 323.4,91.9 323.5,89 323.6,91.2 323.7,89.3 323.8,90.6 324.1,89.2 324.2,89.8 324.3,89.2 324.4,89.5 324.5,92.4 324.6,92.8 324.8,91.7 324.9,91.7 325.1,92.6 325.2,92.3 325.3,94.3 325.4,94.1 325.7,95.7 325.8,98.5 326,97.3 326.1,100.9 326.2,101.5 326.4,101.4 326.5,103.2 326.8,105.7 326.9,103.3 327,105.7 327.2,105.4 327.3,103.1 327.4,103 327.5,104.8 327.7,99.7 327.9,99.9 328,99 328.1,99.3 328.2,98.8 328.3,99.5 328.4,97.9 328.5,99.3 328.7,96 328.8,97.8 328.9,96.5 329,98.2 329.3,94.1 329.5,93.9 329.6,94 329.7,96.1 329.8,96.2 329.9,93.7 330,96.9 330.1,93.2 330.3,92.5 330.4,93.2 330.6,91.7 330.7,93.8 330.8,94.4 330.9,89.4 331.1,94 331.3,91.4 331.4,93.2 331.5,87.3 331.6,85.5 331.7,90.1 331.9,90.7 332,86.7 332.1,90.6 332.3,93.1 332.4,88 332.5,88.3 332.7,86.2 332.8,91.7 332.9,86.1 333,87.9 333.1,94.4 333.2,94.4 333.3,91.9 333.5,86.6 333.6,93.3 333.7,90.4 333.8,93.7 333.9,90.3 334,93.4 334.1,88.9 334.3,96.7 334.4,97.4 334.5,94 334.6,93.1 334.7,88.2 334.8,96.8 334.9,90.7 335.1,96.8 335.4,93.6 335.5,96.5 335.7,94 335.9,89 336,94 336.1,91.5 336.3,96.4 336.4,91.3 336.5,90.9 336.7,88.3 336.8,94.4 336.9,89.6 337,88.4 337.1,95.9 337.2,96.9 337.4,95.4 337.5,96.3 337.6,92.1 337.7,92.5 337.8,96.1 338,96.6 338.2,95.9 338.3,95.9 338.4,90.3 338.5,94 338.6,89.5 338.7,92.7 338.8,89.6 339,94 339.1,89.9 339.2,89.2 339.3,94.4 339.5,92.3 339.6,92.1 339.8,88.8 339.9,95.6 340,96.5 340.1,90 340.3,91.7 340.4,93.8 340.6,93.8 340.7,95.9 340.8,95 340.9,89.5 341,94.9 341.2,88.9 341.4,92.6 341.6,94.3 341.7,91.4 341.9,97.8 342.3,92.9 342.4,89.2 342.5,95.9 342.6,95.3 342.7,88.5 343.1,94.7 343.2,94.2 343.4,98 343.8,94.7 343.9,97.6 344,91.6 344.2,98.6 344.3,91.7 344.4,92 344.6,98.4 344.8,96.3 344.9,91.7 345,98.4 345.2,92.8 345.4,95.8 345.5,91.1 345.6,90.2 345.7,94.4 345.8,91.1 345.9,93.8 346.2,88.9 346.3,90.9 346.4,90.4 346.5,94.9 346.6,93.1 346.7,95.6 347,87.6 347.1,93 347.2,92.2 347.3,86.9 347.4,87.4 347.5,93.1 347.7,86.8 347.8,85.6 347.9,88.5 348,87.7 348.1,87.8 348.2,94.3 348.3,91.1 348.5,91 348.6,85.8 348.7,85.7 348.8,91.2 348.9,90 349,85.4 349.1,86.1 349.3,91.3 349.4,87.7 349.5,86 349.6,86 349.7,92 349.8,87.6 349.9,88 350.1,84.7 350.3,93.8 350.4,89.9 350.5,89.6 350.7,95.5 350.9,89.9 351,93.9 351.1,94.1 351.2,89.5 351.4,96.9 351.5,91.9 351.7,96 351.8,96.1 351.9,89 352,89.4 352.2,96.7 352.3,92.7 352.5,95.2 352.7,89.4 352.8,89 352.9,93.4 353,94.5 353.1,91.4 353.3,94.9 353.4,95.9 353.6,90.5 353.7,90.6 353.9,88.1 354.1,94.9 354.2,88.1 354.3,96.1 354.4,90.6 354.5,91.4 354.6,95.1 354.7,96 354.9,93 355,96.4 355.1,90.1 355.2,95.7 355.3,89.2 355.6,94.2 355.7,87.4 355.8,92.3 355.9,93.4 356,88 356.1,87.2 356.4,90.8 356.5,91.3 356.6,88.8 356.7,92.9 356.8,90.7 357,92.5 357.3,93.1 358.9,106.4 359.6,109.3 360.8,116.9 361.5,120.4 362.3,125.6 362.6,126.9 363.2,127.9 364.2,130.9 364.6,131.4 365.3,131.8 365.9,132.4 366.2,132.3 366.8,131.5 367.3,131.1 367.9,129.8 368.5,129 369.6,125.8 369.9,125.2 370.1,125 370.3,125.2 370.8,126.2 371,126.5 371.2,126.6 371.8,126.2 372.5,127.4 372.9,127.4 373.3,127.5 373.6,127.4 374.2,126.5 374.8,126.1 375.5,125.4 376,124.6 376.3,124.7 376.7,125.1 377.3,125.5 377.6,126.1 378,127.3 379.1,132.3 380.4,139.1 381.6,142.7 382.3,145 383.6,148.2 383.9,148.7 384.5,149.2 385,150.3 385.3,150.8 385.5,150.8 386.5,150.6 386.7,150.7 387,151.2 387.3,151.3 387.9,151 388.5,151.1 390,152.7 390.6,153 391,154.1 391.3,154.3 391.7,154.1 392.1,154.3 392.2,154.3 392.9,152.3 393.4,151.7 393.8,151.1 394,150.9 394.2,150.9 394.7,151.2 395.3,151.3 395.8,152.5 396.8,153.6 397.4,153.6 398,152.9 398.5,152.8 398.9,152.1 399.2,152 399.7,153 400.5,153.2 401.8,154.1 403.1,155.7 403.5,156.1 404.2,157.1 404.4,157.1 404.9,156.6 405.1,156.6 405.3,156.9 405.8,158.1 406,158.3 406.4,158 406.5,158 407.2,159.5 407.3,159.5 407.6,159.3 407.9,159.3 408.3,159.9 408.9,160.1 409.5,160.5 409.9,160.6 410.4,160.5 410.8,160.7 411.6,161.5 412.3,161.1 412.6,161.2 413.1,161.6 413.5,161.5 414.4,161.5 414.8,161.9 415.3,162.1 415.9,162.6 416.1,162.4 416.4,162 416.7,162 416.9,162.1 417.4,162.9 417.6,163.1 418.2,162.5 418.3,162.5 418.8,162.9 419.5,163 420.1,162.7 421,163.2 421.5,163.6 421.9,163.7 422.6,164.1 423,164 423.5,163.7 423.8,163.8 424.1,164.1 424.2,164.1 424.8,163.3 425.4,162.9 426.1,162.1 426.5,161.9 427,161.1 427.2,161 427.5,161.2 428.1,160.4 428.6,160.3 428.9,160.1 429.6,159.1 429.8,159.1 430.4,159.5 430.9,159.5 431.4,159.2 432.2,158.3 433.4,158.1 434.2,157.6 434.6,157.2 434.9,157.1 435.2,157.3 435.4,157.4 436.7,156.5 437.2,156.5 437.6,156.3 438.3,156.3 439,155.5 439.7,155.6 440,155.5 440.8,154.5 441.2,154.4 441.6,154.7 441.9,154.6 442.7,153.1 443.2,153.3 443.6,153 443.8,153 444.6,153.9 444.8,154 445.3,153.9 445.7,154.2 446.1,154.3 446.7,155.2 446.9,155.4 447.5,154.6 447.7,154.6 448.7,154.9 449.4,154.6 450,154.2 450.2,154.1 450.4,154.1 451.1,154.7 451.4,154.7 451.9,154.2 453.1,154.2 453.9,153.9 454.7,154.2 455.1,154.7 455.8,153.6 456.8,153.8 457.1,153.7 457.5,153.2 458.8,153.3 459.8,152.9 460.1,152.9 460.5,153.3 460.7,153.3 461.2,152.8 461.9,152.4 462.2,152.5 462.9,154 463.1,154.1 463.8,153.8 464.5,153 465.1,152.7 465.5,152.9 465.8,152.8 466.6,151 467.5,150.1 468.4,148.5 469,148.3 469.6,147.2 469.8,147.2 470,147.5" stroke="#cc10cc" stroke-width="2.0" />
<polyline points="58,158.4 60.9,158.7 61.4,158.7 62.2,158.5 62.8,158.1 63.2,157.6 63.6,156.8 63.8,156 64.1,153.6 64.5,148.1 65.1,128.9 65.5,144.9 65.9,152.4 66.1,154.7 66.4,156.5 66.9,157.7 67.5,158.3 68.4,158.8 69.5,158.9 70.5,158.7 71.2,158.3 71.7,157.6 72,156.7 72.7,153.1 72.9,152.5 73.2,153.1 73.7,156.3 74.2,157.8 74.6,158.3 74.9,158.7 75.5,159 76,159.2 77.1,159.1 78.1,158.4 78.3,158.4 78.6,158.5 79.4,159.2 79.8,159.5 80.7,159.7 81.6,159.8 85.9,159.9 91.4,159.8 92.3,159.8 94.2,159.3 94.8,159.1 95.3,158.8 95.6,158.4 95.8,157.9 96.2,156.3 96.6,152.6 97.2,156.8 97.6,157.8 97.9,158.1 98.2,158.3 98.7,158.3 99.7,158 100.4,157.2 101.1,156.2 102,154.3 102.1,157.5 102.7,156.6 103.3,154.7 103.7,150.9 104,147.1 104.2,139.9 104.5,109.9 104.8,52.6 105,52.6 105.1,53.8 105.2,103.4 105.3,118.8 105.5,125 105.7,129.7 105.9,131.4 106.1,132.2 106.8,131.6 107.4,130.5 107.7,129 108,127.3 108.3,121.9 108.7,104.8 109,52.6 109.2,52.6 109.6,106.3 109.8,124 110,132.2 110.4,137.8 110.8,141 111.2,142.1 111.5,142.8 112,143.4 112.6,143.9 113,143.3 113.5,142.4 114,140.2 114.4,137.3 114.7,131.5 115,123.5 115.2,106.7 115.5,52.6 115.9,52.6 116,60 116.2,117.2 116.4,135.6 116.7,143.1 117,148 117.5,150.6 117.8,151.5 118.2,152.1 118.6,151.3 119.1,150 119.4,148.5 119.8,146.1 120.2,141 120.9,129.4 121.1,127.9 121.7,136.7 122.1,139.5 122.3,140.4 122.6,141.2 123,139.9 123.2,137.7 123.4,131.8 123.5,124.2 123.8,52.6 124,52.6 124.2,89.8 124.3,95.9 124.6,100.5 124.8,102.3 125.1,103.3 125.5,102.7 125.7,101.4 125.9,97.2 126.1,90.3 126.3,52.6 126.4,52.6 126.9,115.1 127.2,130.8 127.4,135.3 127.7,137.9 128.1,140.5 128.5,141.6 128.9,142.4 129.4,142.9 129.8,143.2 130.4,141.8 130.9,139.4 131.2,136.2 131.9,123.3 132.1,121.1 132.4,122.6 133,135.1 133.6,141.9 134,144.2 134.3,145.8 134.8,147.1 135.2,148 135.8,146.5 136.2,144.5 136.7,141.4 137,137.9 137.6,128.3 138.4,108.4 138.6,106.4 138.9,108.7 139.8,130.8 140.1,135.6 140.5,138.7 140.9,141.2 141.6,143.4 142.2,142.7 142.5,142 142.9,140.5 143.1,138.7 143.5,132.4 143.7,120.3 144,52.6 144.1,52.6 144.4,93.2 144.5,98 144.7,100.8 145.1,101.7 145.3,100.6 145.5,96.7 145.9,52.6 146.1,92.9 146.2,98.3 146.3,100.3 146.5,101.8 146.8,101.2 146.9,100.5 147.1,95.2 147.3,52.6 147.5,60.3 147.6,97.8 147.8,123.7 147.9,128 148.1,132.2 148.5,134.5 148.9,135.6 149.2,135.9 149.6,135 150,133.7 150.2,132.3 150.6,128.8 151,121 151.2,118.9 151.5,120.3 152.3,130.1 152.6,132.2 153,133.5 153.3,134.4 153.8,135 154.1,134.6 154.7,132.9 155.1,129.7 155.5,123 155.7,111.9 156,52.6 156.4,52.6 156.7,107.7 157,120.6 157.2,125.7 157.4,128.2 157.8,130 158,130.7 158.3,131.3 158.8,130.7 159.1,129.9 159.5,128.6 159.7,127.2 160.1,123.1 160.3,117.3 160.6,92.7 160.9,52.6 161.2,52.6 161.3,81.7 161.5,107.4 161.7,111.2 161.9,114.7 162.1,116.2 162.5,117.2 162.9,115.8 163.1,114.1 163.4,110 163.5,105.6 163.8,52.6 164.1,52.6 164.3,101.5 164.5,109.7 164.7,112.1 165.1,113.4 165.4,112.1 165.7,109.7 165.9,101.5 166.1,52.6 166.2,52.6 166.5,85.2 166.6,88.8 166.8,90.7 167,88.8 167.1,85.2 167.4,52.6 167.6,81.6 167.7,85.1 168,86.9 168.2,85.1 168.3,81.6 168.5,52.6 168.8,74.4 168.9,77.6 169.1,79.4 169.3,77.6 169.4,74.4 169.7,52.6 183.1,52.6 183.5,103.5 183.9,121.3 184.1,127.3 184.4,132.5 184.9,136.3 185.5,138.6 185.9,139.7 186.3,140.3 186.8,141 187.3,141.1 187.4,141.5 187.8,141.8 188.4,142.9 189.7,143.6 191,145.9 191.4,146.4 191.6,146.6 192.2,146.6 192.7,146.8 193.1,146.9 194,147.6 194.5,147.8 195,147.7 195.3,147.5 196,146.3 196.5,145.9 198.4,142.7 199.3,140.7 199.7,140.2 200.2,139.8 200.9,138.8 201,138.8 201.3,139.2 201.9,141.8 202.3,142.7 202.5,143.1 202.7,143 202.9,142.9 204.3,140.5 204.6,140.5 205,140.6 205.4,141.2 206.2,143.2 207.1,146.1 207.9,149.2 208.8,151 210.2,153.2 210.6,154.2 210.9,154.3 211.1,154.3 211.7,153.5 211.9,153.4 212.5,154.3 212.7,154.5 213.2,154.7 213.8,154.5 214.5,155.1 215.1,155.2 215.5,155.4 216.1,156.2 216.4,156.2 216.9,156.1 217.2,156.1 218,156.8 218.2,156.9 219.7,157 220,156.7 220.4,156 220.6,155.9 221.2,156.7 221.3,156.7 222.7,156.3 223.1,156.3 223.5,156.6 224.1,157.9 224.6,157.7 225.1,157.2 225.3,157.3 225.8,157.9 226,157.8 226.4,157.1 226.9,157.2 227.6,157 228.2,157 229,157.3 229.6,157.8 230.2,158 230.8,158.7 231,158.9 231.9,158.8 232.6,158.7 233,158.9 233.4,159.4 233.7,159.5 234.1,159.4 234.7,159 235.3,159.6 235.7,159.4 236.6,159.1 236.9,159.2 237.2,159.6 237.4,159.7 238,159.3 238.5,159.7 239,159.6 239.5,159.9 239.9,159.6 240.4,159.5 241.1,159.9 241.7,159.6 242.5,160.5 243.3,159.9 243.7,159.8 244.3,159.5 244.8,159.7 245.2,159.7 245.8,160.2 246.1,160.2 246.4,160.1 247,159 247.3,159.1 247.7,159.5 248.3,158.8 248.4,158.8 249,159.5 249.1,159.6 249.7,159.1 250.1,159 250.6,158.8 250.7,158.8 251.3,159.4 251.5,159.2 251.8,158.4 252.5,158 253.1,157.2 253.7,157.4 254.1,157.1 254.5,157.2 254.7,157 254.9,156.6 255.4,155 256.5,151.8 256.8,151.6 257,151.6 257.8,152.3 258.5,152.1 258.9,152.2 259.4,151.6 260.2,149.9 260.9,149.2 261.5,149.3 262,149.1 263,149.9 263.2,149.9 263.5,149.7 264,150.3 264.3,150.6 265.6,150.6 266.3,150.1 266.5,150.3 266.8,151 267.1,151.2 267.5,150.7 268,150.7 268.2,150.6 268.9,149 269.1,148.7 269.8,148.7 270.6,149.2 271.3,150.3 272.8,151.7 273.1,151.6 273.5,151 273.7,150.8 274.2,151.3 274.3,151.3 274.7,151.2 275.2,151.6 276,150.5 276.2,150.4 276.7,150.4 276.9,150.2 277.8,148.9 278.1,148.8 278.6,148.6 279.3,147.7 280.6,147 281.2,145.8 281.4,145.5 282.6,145.4 283.2,144.8 284.2,144.3 284.8,143.8 285.4,143.8 285.8,143.4 286.3,143.8 286.5,143.8 287,143.3 287.9,143 288.7,142.2 289.4,141.9 289.7,141.9 290,141.6 290.3,140.5 290.5,140.2 290.8,140.4 291.5,141.5 292.3,144 293.2,145 294.2,145.4 294.5,145.3 295,144.8 295.5,144.6 296.6,142.2 296.7,142.1 297.1,142.1 297.2,142 297.5,141 297.7,140.7 298.2,140.9 298.5,140.9 299.2,142 299.9,141.9 300.4,141 301.4,138.3 302.7,134.2 303.6,130.2 304.4,127.6 305.1,124.4 305.9,121.9 306,121.9 306.6,119.2 306.7,119.5 306.8,118.3 306.9,118.5 307,117.5 307.1,118 307.2,117 307.4,117 307.7,114.4 307.8,114.9 307.9,113.5 308,113.1 308.2,113.5 308.4,111.7 308.6,110.7 308.7,110.5 308.9,110.6 309,110.5 309.1,110.5 309.3,109.1 309.4,109.3 309.5,108.9 309.7,109.9 309.8,109.4 309.9,110.6 310,109.4 310.1,109.4 310.2,110.9 310.3,109.9 310.5,109.7 310.6,112.8 310.7,111.8 310.8,112.5 310.9,112.2 311.1,114.5 311.3,114.1 311.5,115.8 311.6,118.3 311.7,116.6 311.9,116.6 312.1,115.4 312.2,116.5 312.3,113.9 312.4,113.9 312.5,111.9 312.6,114.9 312.7,112.3 312.9,113.1 313,110.3 313.1,110.7 313.2,110.2 313.3,110.8 313.4,109.5 313.5,110.2 313.7,107.8 313.8,109.9 313.9,109.1 314,109.1 314.2,107.4 314.3,104.2 314.5,103.9 314.6,106.9 314.7,103.2 314.8,105.1 314.9,102.3 315,104.9 315.1,101.6 315.3,101.1 315.4,103 315.5,100.3 315.6,100.7 315.7,99.2 315.9,101.1 316.1,100.6 316.3,97.3 316.4,97.1 316.5,97.9 316.6,96.5 316.7,98.2 316.9,95.9 317.1,97.8 317.2,95.9 317.3,98.7 317.5,95.3 317.7,95.6 317.8,96.9 317.9,96.3 318,97.1 318.1,94 318.2,97.4 318.4,96 318.5,98 318.6,97.8 318.7,97.9 318.8,97.5 318.9,96.6 319,99.1 319.2,99 319.3,98.5 319.5,100.2 319.6,99.4 319.8,101.1 320.1,98.2 320.2,100 320.3,97.3 320.4,98 320.5,98 320.6,95.8 320.8,95.8 320.9,95.4 321,93.4 321.1,94.1 321.2,94 321.3,91.6 321.4,92.2 321.6,90.5 321.7,90.7 321.8,88.7 321.9,88.3 322,88.7 322.2,86.6 322.5,88.3 322.7,84.8 322.9,87.6 323,83.9 323.2,84.7 323.3,84.3 323.4,85.7 323.5,85.5 323.7,82.6 323.8,83 324,85.3 324.1,83.4 324.2,82.9 324.3,85.1 324.4,83.6 324.6,86.9 324.8,85 324.9,87.8 325.1,85.8 325.2,87.9 325.3,87 325.4,90.5 325.6,87.6 325.7,89.8 325.8,89.4 325.9,93.2 326,93.2 326.1,93.9 326.2,96 326.4,95 326.5,95.4 326.6,98 326.7,97.7 326.8,98.4 326.9,98.3 327,97.2 327.3,99.2 327.4,97.4 327.5,96.8 327.6,96.9 327.9,95.1 328,94.9 328.1,93.4 328.2,95.1 328.4,90.4 328.5,92.5 328.8,91.2 328.9,92.1 329,91.7 329.1,92.1 329.2,89.3 329.3,89.4 329.5,88.7 329.6,87 329.7,89 329.9,86.8 330.1,82.9 330.4,68.8 330.5,52.6 330.9,52.6 331.2,71.9 331.4,74.9 331.5,83 331.6,79.8 331.7,80.9 331.9,76.6 332,82.1 332.1,83.1 332.2,82.1 332.3,86.5 332.4,78.9 332.5,85.9 332.7,86.8 332.9,78.3 333.1,87.2 333.2,79.6 333.3,78.6 333.6,86.8 333.7,85 333.8,78.3 333.9,84.5 334,86.3 334.1,86.3 334.3,86.4 334.4,81.1 334.5,88.4 334.6,79.7 334.7,83.3 334.8,80.6 334.9,88 335.2,86.2 335.4,82.1 335.5,86.6 335.6,80.6 335.7,82.5 335.9,89.1 336,84.2 336.1,90.1 336.3,84.8 336.4,89.6 336.5,81.7 336.7,89 336.8,84.5 337,90.5 337.1,84.8 337.2,86.4 337.4,83.4 337.5,83.5 337.6,92.1 337.7,91.9 337.8,93 337.9,85.8 338,85.8 338.2,86.2 338.3,85.5 338.4,91.2 338.5,84.1 338.6,90.5 338.7,86.7 338.8,91.9 339.1,90 339.3,92.7 339.5,88.4 339.6,83.8 339.8,84.6 339.9,89.5 340.1,91.4 340.2,86.7 340.4,92.1 340.6,83.3 340.8,89.8 341,86.1 341.2,84.8 341.4,88.5 341.6,88 341.7,89.8 341.8,82.5 341.9,86.3 342,84.7 342.2,91.5 342.3,90.3 342.4,82.9 342.5,82.4 342.6,85.7 342.7,86.9 342.8,85.7 343,87.9 343.1,81.6 343.2,84.4 343.3,83.7 343.4,87.4 343.5,83.2 343.6,89.4 343.8,90.1 343.9,89.8 344,92.2 344.1,84.9 344.2,89.6 344.4,83.2 344.6,91.2 344.7,88.8 344.8,91.2 344.9,91.6 345,86.9 345.1,89 345.2,86.9 345.5,88.7 345.7,82.6 345.8,89.5 345.9,84.1 346.2,81.8 346.4,84.5 346.5,84.2 346.7,90.1 347.1,83 347.2,87.9 347.4,86.4 347.5,90.3 347.7,91 347.8,84.6 347.9,82.8 348.1,89.9 348.2,85.7 348.3,90.2 348.5,89.2 348.6,83.3 348.7,83.8 348.8,89 349,87.2 349.1,90 349.4,89 349.6,84.1 349.7,85.7 349.8,83.4 350.1,85.8 350.2,88.9 350.3,83.4 350.4,82.9 350.5,83.3 350.6,88.9 350.7,87.7 350.9,89.7 351.1,82.4 351.2,85.5 351.3,86.1 351.4,83.7 351.7,82.2 351.8,86.5 351.9,87.6 352,87.6 352.1,89.3 352.2,84.3 352.3,84.6 352.6,90.2 352.7,84.3 352.8,89.8 352.9,87.3 353,92.7 353.1,87.6 353.4,84.4 353.5,89.5 353.6,87.4 353.7,92.8 354.1,85.5 354.2,86.8 354.3,83.5 354.5,91 354.6,89.1 354.7,91.9 354.9,85.7 355,89.5 355.1,84.8 355.2,83.6 355.3,88.9 355.4,85.7 355.6,85.8 355.7,89.5 355.8,90.6 355.9,87.8 356,89.9 356.2,87.3 356.4,87.3 356.5,85.3 356.6,85.3 356.7,86.7 356.8,85.7 356.9,85.7 357,87.4 358.3,96.2 359,102.1 360.1,108.8 361.3,114.9 362.1,118.2 362.9,122.7 363.1,123.5 363.7,124.4 364.4,126.1 365.2,127.1 365.4,127.2 365.7,127.1 366.1,127.5 366.3,127.5 366.9,126.6 367.5,125.9 368.1,124.6 368.9,122 369.9,120.2 370.1,120 371.3,120.5 371.7,121.1 372.1,122.1 372.4,122.3 372.9,122 373.7,121.6 374.6,120.3 374.8,120.2 375.1,120.3 375.8,119.5 376,119.5 376.6,119.8 377.2,119.6 377.4,120 377.6,120.8 379.7,130.1 380.5,133.1 381.1,135.9 381.5,137.3 382.2,140 382.7,140.9 383.2,142.4 383.8,143.1 384.4,144.4 384.6,144.6 385.2,144.7 386.5,146.1 386.8,146.3 387,146.3 387.5,145.9 387.7,145.9 388.3,146 388.7,146.3 389.2,146.4 389.7,146.7 390,146.8 390.3,147.2 391.1,148.5 392.1,149.3 392.2,149.3 392.4,148.9 393.4,145.9 393.8,145.3 394.1,145 394.4,145.1 394.9,146.2 395.3,146.4 395.5,146.6 396.1,147.8 396.9,148.5 397.1,148.4 397.7,147.8 398.4,147.8 399.2,146.8 399.6,146.6 399.8,146.7 402,149.5 402.5,149.8 403.5,150.9 404.3,151.3 404.8,151.4 405,151.6 405.6,152.8 406,152.6 406.6,153.2 407.4,153.4 408.2,154.1 408.7,154.8 409.3,155.3 410.1,155.5 410.7,155.2 410.8,155.2 411.9,156.5 412.1,156.6 412.6,156.5 413.1,155.9 413.7,156.4 414.2,156.3 414.6,156.7 415,156.8 415.5,157.5 415.8,157.4 416.2,156.8 416.4,156.8 417,157.2 417.7,157.1 417.9,157.2 418.4,157.7 419,157.6 420.2,157.9 421.1,157.9 422.1,158.4 422.6,158.6 423.2,158.5 423.9,159.1 424.1,159 424.6,158.2 425.1,158.1 425.8,157.2 427.1,156.1 427.3,156.1 427.9,156.3 428.7,155.8 429.1,155.3 429.6,155.1 430.2,154.3 431,153.7 431.8,153.3 432.4,153.3 432.8,153 433.3,152.8 434,151.9 434.6,151.9 435.2,152.1 435.7,151.8 436.1,152 437,151.9 437.7,151.5 438.1,151.2 438.6,151.2 439.1,151 439.8,150.1 440.5,149.5 440.7,149.5 441.1,149.6 441.9,149.4 442.8,148.7 443.3,148.1 443.9,148.4 444.4,148.1 445.3,149.4 445.7,150.3 446.1,150.5 446.7,150.5 447.3,150.2 448,150.2 448.9,149.6 449.3,149.4 449.5,149.6 450.1,150.5 450.3,150.3 450.7,149.5 450.9,149.3 451.7,149.6 451.9,149.6 452.5,149.1 453.1,149.6 453.3,149.6 454.3,148.8 454.9,148.6 455.4,148.3 455.8,148.6 456.5,148 457.1,148.5 457.3,148.6 457.8,148.3 458.3,148.2 458.9,147.6 459.5,147.7 460.2,147.5 460.9,147.7 461.3,147.6 461.8,147.8 462.2,147.7 462.8,148.4 463.5,149 464.2,148.3 464.6,148.2 465.4,147.4 465.9,147.3 466.5,146.6 466.9,146.2 467.7,144.7 468.3,144 469,143.4 469.4,142.7 470,142.1" stroke="#c0c020" stroke-width="2.0" />
<polyline points="58,152.6 60.9,152.9 61.4,152.9 62.2,152.7 62.8,152.3 63.2,151.8 63.6,151 63.8,150.2 64.1,147.8 64.5,142.3 65.1,123.1 65.5,139.1 65.9,146.6 66.1,148.9 66.4,150.7 66.9,151.9 67.5,152.5 68.4,153 69.5,153.1 70.5,152.9 71.2,152.5 71.7,151.8 72,150.9 72.7,147.3 72.9,146.7 73.2,147.3 73.7,150.5 74.2,152 74.6,152.5 74.9,152.9 75.5,153.2 76,153.4 77.1,153.3 78.1,152.6 78.3,152.6 78.6,152.7 79.4,153.4 79.8,153.7 80.7,153.9 81.6,154 85.9,154.1 91.4,154 92.3,154 94.2,153.5 94.8,153.3 95.3,153 95.6,152.6 95.8,152.1 96.2,150.5 96.6,146.8 97.2,151 97.6,152 97.9,152.3 98.2,152.5 98.7,152.5 99.7,152.2 100.4,151.4 101.1,150.4 102,148.5 102.1,151.7 102.7,150.8 103.3,148.9 103.7,145.1 104,141.3 104.2,134.1 104.5,104.1 104.8,46.7 105,46.7 105.1,48 105.2,97.6 105.3,113 105.5,119.2 105.7,123.9 105.9,125.6 106.1,126.4 106.8,125.8 107.4,124.7 107.7,123.2 108,121.5 108.3,116.1 108.7,99 109,46.7 109.2,46.7 109.6,100.5 109.8,118.2 110,126.4 110.4,132 110.8,135.2 111.2,136.3 111.5,137 112,137.6 112.6,138.1 113,137.5 113.5,136.6 114,134.4 114.4,131.5 114.7,125.7 115,117.7 115.2,100.9 115.5,46.7 115.9,46.7 116,54.2 116.2,111.4 116.4,129.8 116.7,137.3 117,142.2 117.5,144.8 117.8,145.7 118.2,146.3 118.6,145.5 119.1,144.2 119.4,142.7 119.8,140.3 120.2,135.2 120.9,123.6 121.1,122.1 121.7,130.9 122.1,133.7 122.3,134.6 122.6,135.4 123,134.1 123.2,131.9 123.4,126 123.5,118.4 123.8,46.7 124,46.7 124.2,84 124.3,90.1 124.6,94.7 124.8,96.5 125.1,97.5 125.5,96.9 125.7,95.6 125.9,91.4 126.1,84.5 126.3,46.7 126.4,46.7 126.9,109.3 127.2,125 127.4,129.5 127.7,132.1 128.1,134.7 128.5,135.8 128.9,136.6 129.4,137.1 129.8,137.4 130.4,136 130.9,133.6 131.2,130.4 131.9,117.5 132.1,115.3 132.4,116.8 133,129.3 133.6,136.1 134,138.4 134.3,140 134.8,141.3 135.2,142.2 135.8,140.7 136.2,138.7 136.7,135.6 137,132.1 137.6,122.5 138.4,102.6 138.6,100.6 138.9,102.9 139.8,125 140.1,129.8 140.5,132.9 140.9,135.4 141.6,137.6 142.2,136.9 142.5,136.2 142.9,134.7 143.1,132.9 143.5,126.6 143.7,114.5 144,46.7 144.1,46.7 144.4,87.4 144.5,92.2 144.7,95 145.1,95.9 145.3,94.8 145.5,90.9 145.9,46.7 146.1,87.1 146.2,92.5 146.3,94.5 146.5,96 146.8,95.4 146.9,94.7 147.1,89.4 147.3,46.7 147.5,54.5 147.6,92 147.8,117.9 147.9,122.2 148.1,126.4 148.5,128.7 148.9,129.8 149.2,130.1 149.6,129.2 150,127.9 150.2,126.5 150.6,123 151,115.2 151.2,113.1 151.5,114.5 152.3,124.3 152.6,126.4 153,127.7 153.3,128.6 153.8,129.2 154.1,128.8 154.7,127.1 155.1,123.9 155.5,117.2 155.7,106.1 156,46.7 156.4,46.7 156.7,101.9 157,114.8 157.2,119.9 157.4,122.4 157.8,124.2 158,124.9 158.3,125.5 158.8,124.9 159.1,124.1 159.5,122.8 159.7,121.4 160.1,117.3 160.3,111.5 160.6,86.9 160.9,46.7 161.2,46.7 161.3,75.9 161.5,101.6 161.7,105.4 161.9,108.9 162.1,110.4 162.5,111.4 162.9,110 163.1,108.3 163.4,104.2 163.5,99.8 163.8,46.7 164.1,46.7 164.3,95.7 164.5,103.9 164.7,106.3 165.1,107.6 165.4,106.3 165.7,103.9 165.9,95.7 166.1,46.7 166.2,46.7 166.5,79.4 166.6,83 166.8,84.9 167,83 167.1,79.4 167.4,46.7 167.6,75.8 167.7,79.3 168,81.1 168.2,79.3 168.3,75.8 168.5,46.7 168.8,68.6 168.9,71.8 169.1,73.6 169.3,71.8 169.4,68.6 169.7,46.7 183.1,46.7 183.5,97.9 183.9,115.7 184.1,121.8 184.4,127 184.9,130.8 185.3,132.8 185.8,133.9 186.1,134.6 186.7,135.1 187.3,135.4 187.4,135.8 187.9,136.6 188.4,136.9 189.1,138 190.4,139 191.1,140.3 191.3,140.4 191.9,140.5 192.2,140.7 192.8,141.8 192.9,141.9 193.4,141.8 193.5,141.9 193.8,142.6 194,142.8 194.4,142.5 194.8,141.7 195.4,141.5 195.8,141.2 196.7,139.6 197.3,138.9 198.2,137.5 198.9,136.1 199.1,135.8 199.4,135.7 199.9,134.7 200,134.5 200.3,134.3 200.8,133.1 200.9,133 201,133.2 201.5,134.9 201.8,135.6 202.3,137.1 202.5,137.4 203,137.1 203.2,136.8 203.9,135.3 204.6,134.8 204.8,134.8 205.6,136.2 206.6,139.3 207.8,143.8 208.7,144.7 209.5,146.9 209.7,147.2 210,147.3 210.2,147.2 210.4,147.3 211,148.2 211.3,148.6 211.6,148.6 212.1,148.3 212.4,148.3 212.6,148.5 212.9,149.2 213.2,149.3 213.4,149.2 213.8,148.5 214.1,148.5 215.2,150 216,150.1 216.6,150 216.9,150.3 217.5,151.1 217.7,151.1 218.2,150.7 218.4,150.9 218.8,151.5 219,151.6 220,151.5 220.3,151.3 220.8,150.2 221.1,150.1 221.4,150.1 221.7,150.1 222.7,150.5 223.2,150.5 223.8,151.4 224.1,151.6 225.5,151.2 226,151.8 226.2,151.9 226.8,151 227,150.8 227.5,151.1 227.9,151.1 228.4,151.6 228.7,151.7 229.5,151.8 230.1,152.2 230.7,152.8 231.2,152.5 231.8,153.1 232.3,153 232.7,152.5 233,152.4 233.2,152.7 233.5,153.3 233.8,153.5 234.2,153.2 234.7,153.3 235,153.4 235.5,153.8 235.6,153.8 235.9,153.3 236.2,153.2 236.7,153.7 237.1,153.8 237.3,153.8 237.8,153 238,152.9 238.8,153.5 239.4,153.4 240.1,153.4 241,153.8 241.4,154.3 241.7,154.4 242.1,154.3 242.8,153.6 243,153.5 243.8,154.5 244.6,153.8 245.3,153.9 245.9,153.5 246.4,153.8 246.6,153.8 247.5,153.1 248.9,153.3 249.4,153 250,153.3 250.6,153.1 251.2,152.4 251.8,152.4 252.3,152 253,151.6 253.7,151.5 254.4,150.9 255.1,151 255.5,149.8 256.3,146 256.5,145.4 256.9,145.4 257.5,145.1 258.4,146.1 258.7,146.3 259.1,145.9 260.4,143.6 260.7,143.4 261.1,143.5 261.6,143.3 262.2,143.8 262.5,143.8 263.1,144 263.5,143.9 264,144.1 264.6,144.1 265,144.4 265.5,144.2 266,144.3 266.6,144.2 267,144.4 267.4,144.9 267.6,144.8 268.1,143.8 268.2,143.7 268.6,143.7 269.2,143 270.3,143.2 271.1,143.5 271.9,145 272.2,145 272.7,145.3 273.1,145.3 273.6,146.1 273.8,146.3 274.7,145.3 275.8,145 276.3,144.5 276.9,144.6 277.7,144.1 278.3,142.9 278.7,142.6 279.3,141.2 279.5,140.9 280.1,140.9 280.7,140.3 281.2,140.5 281.4,140.5 282.5,139.5 283,139.3 283.6,138.5 283.8,138.5 284.1,138.9 284.2,138.9 284.9,138.1 287.7,136.9 288.5,135.7 288.7,135.8 289,136.3 289.2,136.4 289.3,136.4 290,135.1 290.9,134.5 291.1,134.6 291.3,135 292.4,138.2 292.8,139.3 293.1,139.5 293.6,139.6 294,139.8 294.2,139.8 294.9,138.9 295.5,138.5 296.1,137.1 296.7,136.6 297.4,135.1 298,134.4 298.2,134.5 298.8,135.4 299.5,136 299.7,136.1 299.9,136 300.4,135.2 301.1,133 301.9,131.2 302.4,129.4 303.4,124.9 305.1,119 305.8,115.4 306.1,114.4 306.2,114.3 306.3,114.4 306.4,113.7 306.6,114 306.8,113.6 306.9,112.8 307,113 307.2,111.4 307.5,110.5 307.6,109.2 307.7,109.1 307.8,108.7 307.9,107.6 308,107.8 308.4,105.8 308.5,107.1 308.7,105.9 308.9,104.5 309,104.1 309.1,105.1 309.2,104 309.3,104.1 309.4,103.2 309.7,104.2 309.9,102.6 310,103.6 310.1,102.9 310.3,105.1 310.5,104.9 310.7,106.9 310.8,105.8 310.9,107.5 311.1,108.2 311.3,108.1 311.6,111.7 311.7,111.7 311.9,108.3 312.1,109 312.2,108.7 312.3,107.3 312.5,106.7 312.6,108.9 312.7,105.1 312.9,106.5 313,105.5 313.1,107.1 313.2,105.4 313.3,105.5 313.8,102.5 313.9,99.6 314,101.8 314.2,100.6 314.3,101.1 314.5,100.2 314.6,97.4 314.7,99.3 314.9,96.1 315,97.7 315.1,97.4 315.5,93.5 315.6,95.3 315.7,95.1 316.1,93 316.2,91.5 316.3,92.7 316.5,90.6 316.6,92.5 316.7,90 316.9,90.2 317,89.2 317.1,92.2 317.2,89.5 317.3,89.4 317.4,91.2 317.5,90.7 317.8,90.9 317.9,89.8 318,90.5 318.1,88.6 318.2,88.1 318.6,90.8 318.7,89.8 318.8,93.2 318.9,92.9 319,93.7 319.2,92.1 319.4,94.2 319.5,94.1 319.6,96.1 319.8,92.5 320,92.3 320.1,93.5 320.2,92.4 320.3,92.4 320.5,88.1 320.6,87.6 320.8,89.4 320.9,89.6 321,89.2 321.2,86 321.4,84.4 321.7,85.8 321.8,85.1 321.9,82.6 322,83.2 322.2,83.5 322.5,80.2 322.6,81.6 322.7,79.5 322.8,81.8 323,79 323.2,81.1 323.3,77.6 323.4,77 323.5,76.9 323.6,79.5 323.7,77 323.8,78.9 324,79.2 324.1,80.2 324.2,79.9 324.3,77.2 324.4,77.3 324.5,79.3 324.6,77.8 325.1,83.3 325.2,82.9 325.3,80.8 325.4,83.5 325.7,84.9 325.8,85.1 326,86.2 326.1,89.1 326.2,88.3 326.4,90.1 326.5,89.6 326.6,92.3 326.7,89.3 327,92.4 327.2,91.1 327.3,93 327.4,89.8 327.6,91.5 328,86.8 328.1,88.3 328.2,85.3 328.3,85.1 328.4,85.3 328.5,84.5 328.7,85.9 328.8,82.9 329,84.3 329.1,82.6 329.2,82.3 329.3,84.5 329.5,83.3 329.6,83.4 329.7,81.3 329.9,81.2 330,79.9 330.1,82.8 330.3,81 330.4,81.2 330.5,79.2 330.7,77.9 330.8,81.8 330.9,79.9 331.1,80 331.2,75.4 331.3,79.1 331.4,78.7 331.5,79 331.6,75.5 331.7,78.5 331.9,77.4 332,46.7 332.3,46.7 332.4,81.1 332.5,46.7 332.7,77.3 332.8,75 332.9,46.7 334.6,46.7 334.7,79.3 334.8,46.7 335.4,46.7 335.5,76.9 335.6,81.2 335.7,46.7 335.9,77.6 336,46.7 336.4,46.7 336.5,79.8 336.7,46.7 336.8,46.7 336.9,76.8 337,74.9 337.1,46.7 337.2,46.7 337.4,77.7 337.5,46.7 338.6,46.7 338.7,76.8 338.8,46.7 339,46.7 339.1,81 339.2,46.7 339.3,74.8 339.4,46.7 339.9,46.7 340,81.8 340.1,79.7 340.2,46.7 341.6,46.7 341.7,79.8 341.8,46.7 342,46.7 342.2,80.6 342.3,46.7 342.4,75.5 342.5,46.7 342.6,46.7 342.7,78.9 342.8,74.4 343,46.7 343.1,75.7 343.2,81.6 343.3,46.7 343.6,46.7 343.8,77.6 343.9,46.7 344.4,46.7 344.6,80.1 344.7,46.7 345.4,46.7 345.5,79 345.6,46.7 346.4,46.7 346.5,77.1 346.6,77 346.7,46.7 347.2,46.7 347.3,80.3 347.4,46.7 347.8,46.7 347.9,76.7 348,77.6 348.1,46.7 348.9,46.7 349,80.9 349.1,46.7 349.3,76.4 349.4,46.7 349.5,78.4 349.6,46.7 349.7,79.3 349.8,46.7 349.9,46.7 350.1,78.8 350.2,46.7 350.3,46.7 350.4,74.8 350.5,46.7 351.1,46.7 351.2,79.6 351.3,46.7 351.5,46.7 351.7,80.6 351.8,78.9 351.9,46.7 352,76 352.1,46.7 352.2,80.8 352.3,46.7 352.5,79.6 352.6,46.7 352.7,46.7 352.8,76.5 352.9,46.7 353.4,46.7 353.5,79.7 353.6,77.7 353.7,46.7 353.8,77.4 353.9,46.7 354.4,46.7 354.5,74.9 354.6,46.7 355.3,46.7 355.4,79.2 355.6,46.7 355.7,78 355.8,80.4 355.9,46.7 356.2,46.7 356.4,77.3 356.5,46.7 356.6,46.7 356.7,77.1 356.8,77.8 356.9,74.3 357,79.5 357.5,82.5 358.1,87.5 359.7,98.7 361.7,111.1 362.3,113.9 363.2,117.3 364,119.7 364.6,121 365.4,122 365.7,122 366.3,121.5 366.5,121.5 366.9,121.8 367,121.7 367.2,121.4 368,119 368.9,116 370.1,114 370.2,114 370.4,114.1 371.5,115.7 371.8,115.8 372.1,116.1 372.6,116.2 373.2,116.7 373.4,116.5 374,115.3 374.2,115 374.6,114.8 375.2,113.7 375.5,113.6 376.3,113.6 376.6,113.7 377,114.2 377.4,115.2 378.4,118.2 380.2,126.1 380.8,128.3 382.1,133.5 382.8,135.5 384.3,137.7 385,138.2 385.7,139 386.3,139.4 386.6,139.5 387,138.8 387.1,138.7 387.3,138.7 387.8,139.8 388.3,140.1 388.6,140.6 388.9,140.5 389.2,140.2 389.5,140.2 390,140.6 390.7,141.7 391.1,141.9 391.3,142.1 391.8,143.2 392.1,143.2 392.4,142.8 393.3,140.1 393.7,139.7 394.2,140.1 394.6,140.1 394.9,140.3 395.5,140.4 396.3,141.2 396.9,142 397.1,142.1 397.8,141.8 398.9,141.2 399.4,140.7 399.8,140.7 400.3,141.2 401.3,142.7 402,143.4 402.7,144.4 402.9,144.6 403.4,144.6 403.5,144.8 404.1,145.8 404.7,145.5 404.9,145.7 405.3,146.6 405.6,146.7 405.9,146.4 406,146.5 406.7,147.9 406.8,147.9 407.2,147.7 407.4,147.8 408.1,148.5 408.4,148.6 408.9,148.6 409.3,148.7 410.7,149.9 410.8,149.9 411.4,149.3 412,149.7 412.6,149.8 413.4,150.4 414,150.5 414.6,150.8 415.3,151.6 415.5,151.8 416,151.7 416.8,150.9 417.1,150.8 418,151.6 418.6,151.4 418.7,151.5 419.2,152.2 419.5,152.5 419.9,152.5 420.3,152.2 420.8,152.3 421.3,152.2 421.7,152.6 422.3,152.4 422.7,152.8 423.7,153.2 424.2,152.7 424.5,152.6 424.7,152.6 424.9,152.4 425.4,151.8 426.3,150.1 426.5,150 427,150.1 427.5,149.5 428.1,149.9 428.3,149.9 429.1,148.6 429.7,148.2 430.2,147.7 430.8,147.8 431.2,147.5 431.7,147.5 432.2,146.7 432.7,146.5 433.3,146 434.1,146.1 434.6,145.7 435.3,145.7 435.9,146.1 436.1,146 436.6,145.3 436.9,145 437.5,145.4 438.1,145.2 438.4,145.4 438.6,145.4 439.4,144.8 439.9,144.2 441.2,143.4 441.5,143.1 441.7,143 442.1,143.3 442.3,143.3 442.5,143 443,142.1 443.2,141.8 443.6,141.9 444.1,142.7 444.6,142.8 445.3,143.7 446.1,144.2 446.3,144.1 446.8,143.4 447,143.2 447.6,144 447.7,144 448.1,143.7 448.6,143.9 449.1,143.8 449.6,144.1 450.8,143.5 451.4,143.4 451.9,143.5 452.7,142.9 453.2,143 453.9,143.5 454.7,143 455.5,142.9 455.9,142.6 456.6,143 457,142.9 457.6,142.3 458.1,142.4 458.7,142.2 459.3,142.6 459.5,142.4 459.9,141.5 460.1,141.6 460.4,142.1 460.5,142.1 460.9,141.5 461.1,141.3 461.5,141.6 462,141.6 463.3,142.8 463.6,143 463.8,142.9 464.2,142.6 464.4,142.4 465.1,142.5 465.3,142.3 466,140.8 467.1,140 467.8,138.8 468.5,137.7 469.4,136.7 470,136.2" stroke="#0a0a0a" stroke-width="2.0" />
<polyline points="58,146.9 60.9,147.2 61.4,147.2 62.2,146.9 62.8,146.6 63.2,146 63.6,145.3 63.8,144.4 64.1,142.1 64.5,136.6 65.1,117.4 65.5,133.3 65.9,140.8 66.1,143.1 66.4,145 66.9,146.1 67.5,146.8 68.4,147.2 69.5,147.3 70.5,147.2 71.2,146.7 71.7,146.1 72,145.1 72.7,141.5 72.9,140.9 73.2,141.6 73.7,144.7 74.2,146.2 74.6,146.8 74.9,147.1 75.5,147.4 76,147.6 77.1,147.5 78.1,146.9 78.3,146.8 78.6,146.9 79.4,147.6 79.8,147.9 80.7,148.1 81.6,148.2 85.9,148.3 91.4,148.2 92.3,148.1 94.2,147.7 94.8,147.5 95.3,147.2 95.6,146.7 95.8,146.2 96.2,144.6 96.6,141 97.2,145.1 97.6,146.1 97.9,146.5 98.2,146.6 98.7,146.6 99.7,146.3 100.4,145.5 101.1,144.5 102,142.6 102.1,145.8 102.7,144.9 103.3,143 103.7,139.2 104,135.4 104.2,128.2 104.5,98.2 104.8,41.1 105,41.1 105.1,42 105.2,91.7 105.3,107.1 105.5,113.3 105.7,118 105.9,119.7 106.1,120.5 106.6,118.1 107.2,113.2 107.6,106 108.2,88.8 108.9,55.9 109.1,51.6 109.3,55.4 110.1,94 110.7,112.6 111.1,119.4 111.5,125.3 112,129.1 112.6,132.1 113,131.6 113.5,130.7 114,128.4 114.4,125.6 114.7,119.8 115,111.7 115.2,95 115.5,41.1 115.9,41.1 116,48.3 116.2,105.5 116.4,123.9 116.7,131.4 117,136.2 117.5,138.8 117.8,139.8 118.2,140.3 118.6,139.5 119.1,138.2 119.4,136.7 119.8,134.4 120.2,129.2 120.9,117.6 121.1,116.1 121.3,117 121.7,124.9 122.1,127.7 122.3,128.6 122.6,129.4 123,128.1 123.2,125.9 123.4,120 123.5,112.4 123.8,41.1 124,41.1 124.2,78 124.5,87.1 124.7,89.8 124.9,90.9 125.1,91.5 125.5,88 125.8,78.3 126.2,54.1 126.3,49.9 126.4,50.8 126.6,57.7 127.3,91.3 127.7,104 128.2,117.4 128.9,125.8 129.4,129.1 129.8,131.4 130.3,130.3 130.6,129 131,126.7 131.2,124.3 131.9,111.5 132.1,109.2 132.4,110.8 133,123.2 133.6,130 134,132.4 134.3,133.9 134.8,135.3 135.2,136.2 135.8,134.6 136.2,132.7 136.7,129.6 137,126.1 137.6,116.5 138.4,96.5 138.6,94.5 138.9,96.8 139.7,116.9 140.3,124.9 140.8,128.8 141.2,130.2 141.6,131.5 142.2,127.5 142.7,121.5 143.1,110 143.9,67.4 144.1,61.4 144.5,79.8 144.7,86.4 145.1,89.9 145.3,88.7 145.5,84.8 145.9,41.1 146.1,81 146.2,86.4 146.3,88.4 146.5,89.9 146.9,85.5 147.3,61.5 147.5,64.1 148.1,106.9 148.6,118.4 148.8,121.3 149.2,124 149.5,123.4 149.9,122.3 150.3,119.5 150.7,115.2 151,109.1 151.2,107 151.5,108.4 152.3,118.2 152.6,120.3 153,121.6 153.3,122.4 153.8,123.1 154.1,122.6 154.7,121 155.1,117.7 155.5,111.1 155.7,100 156,41.1 156.4,41.1 156.7,95.7 157,108.7 157.2,113.8 157.4,116.2 157.8,118.1 158,118.8 158.3,119.4 158.8,118.8 159.1,118 159.5,116.7 159.7,115.2 160.1,111.1 160.3,105.4 160.6,80.8 160.9,41.1 161.2,41.1 161.3,69.7 161.5,95.4 161.7,99.2 161.9,102.7 162.1,104.2 162.5,105.2 162.9,103.8 163.1,102.1 163.4,98.1 163.5,93.7 163.8,41.1 164.1,41.1 164.3,89.6 164.5,97.7 164.7,100.1 165.1,101.5 165.4,100.1 165.7,97.7 165.9,89.6 166.1,41.1 166.2,41.1 166.5,73.3 166.6,76.8 166.8,78.7 167,76.8 167.1,73.3 167.4,41.1 167.6,69.6 167.7,73.1 168,75 168.2,73.1 168.3,69.6 168.5,41.1 168.8,62.4 168.9,65.6 169.1,67.4 169.3,65.7 169.4,62.4 169.7,41.1 173.1,41.1 173.7,70.8 174.2,41.1 177.5,41.1 178,82 178.6,41.1 180.2,41.1 180.8,68.6 181.3,41.1 183.1,41.1 183.5,92.5 183.9,110.3 184.1,116.4 184.4,121.7 184.9,125.4 185.5,127.7 186.4,129.7 187,130.3 187.3,130.6 187.4,131 187.8,131.3 188.2,132.2 188.4,132.4 188.8,132.3 189,132.5 190.7,135.2 191.8,136 192.6,137.2 192.8,137.2 193.2,137.1 194,137.6 194.5,137.4 195.1,137.3 195.6,136.7 196.5,135.1 196.9,134.5 197.7,133.8 198.4,132.6 198.9,131.5 199.4,130.8 199.9,129.9 200.8,129.2 201.1,129.2 201.4,129.5 202.3,132.5 202.5,132.9 202.7,133.1 203,132.9 203.8,131.2 204.9,129.7 205.1,130 205.3,130.4 205.8,132.6 206.1,133.1 206.4,133.4 206.6,133.9 207.4,137.6 207.8,138.7 210.5,143.6 210.8,143.8 211.3,143.6 212.1,144.1 212.6,143.9 213.2,144.5 213.7,144.4 214.3,144.4 214.9,144.6 215.3,144.6 215.6,144.8 216.3,145.7 216.7,145.8 217.3,145.5 217.5,145.5 218.5,146.4 218.8,146.4 219.3,146 219.6,146 219.9,146.3 220.1,146.3 220.7,146 221.3,145.6 221.7,146 222.2,145.8 222.3,145.8 222.7,146.3 222.9,146.5 223.6,146.2 223.8,146.4 224.4,147.2 225.2,147.3 225.9,147 226.7,146 227.4,146.2 227.7,145.9 227.9,145.8 228.2,145.9 229,146.9 229.6,147.1 230.2,147.6 230.7,147.6 231.7,148.4 232.4,148.1 232.8,148.4 233.5,148.6 233.8,148.5 234.1,148 234.3,148 234.9,148.3 235.5,148.1 236.2,148.7 236.7,148.6 237.3,148.7 237.9,148.3 238.2,148.3 239.7,149.1 239.9,148.9 240.3,148.2 240.5,148 240.7,148.1 241.2,148.6 241.8,148.7 242.3,148.9 243.4,149 243.8,148.8 244.4,149.1 244.9,148.7 245.1,148.8 245.6,149 246.1,148.7 246.6,148.9 246.7,148.8 247.3,148.4 247.7,148.6 248.4,147.8 248.9,147.6 249.4,148 249.9,147.9 250.2,148.2 250.4,148.2 250.8,147.7 251.5,148.1 252.4,147.2 253,147 253.2,146.8 253.9,145.9 254.1,145.8 254.6,146 254.9,145.7 255.4,144.6 256.3,141.3 256.7,140.5 256.8,140.5 257.2,140.6 257.6,140.5 258.3,141.6 258.5,141.6 258.9,141.5 259.2,141.3 259.6,140.6 260.4,138.3 260.7,138.1 261.3,138.7 261.7,138.7 261.9,138.7 262.3,138.2 262.5,138.1 263,138.8 263.6,139.4 264.2,139.5 264.7,139.7 265.2,139.4 266.2,139.1 266.8,139.9 267.1,139.8 267.5,139.4 268,139.2 268.6,138.5 268.9,138.2 269.5,137.9 269.8,137.9 270.2,138 270.6,138.6 271.1,138.7 271.7,139.9 271.9,140.1 272.3,140.2 272.9,140.2 273.4,140.5 274.4,140.5 274.9,140 275.1,139.9 275.5,140.4 275.7,140.5 276.1,139.7 276.3,139.5 276.9,139.6 277.4,139.5 278.2,138 278.9,137.4 279.3,136.4 279.5,136.1 280.1,136.2 280.9,135.6 281.5,135 282.1,134.9 282.6,134.1 283,134.1 283.6,133.7 284,133.7 284.5,133.2 285.2,132.8 285.4,132.8 285.7,133.1 286,133.1 287.2,132.2 287.9,132.1 288.6,131.3 288.8,131.3 289.2,131.5 289.4,131.2 290,129.4 290.5,129 290.8,129.1 290.9,129.3 291.9,131.4 292.6,133.9 292.9,134.4 293.5,134.4 294.2,134 294.4,134 294.8,134.3 294.9,134.3 295.5,133.3 295.8,133.1 296.1,132.6 297.1,130.3 297.3,130.2 297.6,130.5 298.2,129.6 298.4,129.7 298.9,130.8 299.1,131.1 299.4,131.2 299.7,131.1 300.7,129.7 301.1,128.8 303,121.4 304.5,115.2 305.6,111.9 306.3,109 306.4,108.9 306.8,107.5 306.9,107.4 307.1,105.6 307.2,105.3 307.4,105.5 307.6,103.8 307.7,104.1 307.9,103.4 308.5,100.5 308.6,101.7 308.7,101.6 309,100.6 309.2,98.6 309.3,100.1 309.4,98 309.5,98 309.7,99.2 309.9,97.4 310.1,99.4 310.2,98.2 310.5,100.8 310.6,100 310.8,103 310.9,102.9 311,104.6 311.1,105.2 311.3,105.1 311.4,105.8 311.5,104.1 311.7,106.8 311.8,105.7 311.9,106.6 312.2,104.8 312.3,102.8 312.4,104.7 312.5,101.8 312.6,103.8 312.7,102.6 312.9,102.5 313.1,99.6 313.2,99.1 313.3,99.9 313.4,97.5 313.5,99 313.7,98.7 314,95 314.1,96.8 314.2,97.4 314.3,96.2 314.5,96.6 314.7,95.3 314.8,93.9 315,93.3 315.1,90 315.4,92.3 315.6,89.9 315.8,89.4 315.9,87.5 316.1,89.7 316.2,86.4 316.3,85.7 316.4,85.5 316.5,88 316.6,85.1 316.7,87.1 316.9,84.9 317,87.2 317.1,84.6 317.3,85.8 317.7,83.1 317.9,85.6 318,82.2 318.1,85.4 318.2,82.5 318.4,85.7 318.5,86.3 318.6,85.5 318.7,87.1 318.9,85.7 319,88.7 319.2,89.1 319.3,88.9 319.4,90.4 319.6,91 319.7,89.5 319.8,89.3 320,89.4 320.2,88.2 320.4,84.5 320.5,86.9 320.6,85.3 320.8,85.2 321,81.5 321.1,82.4 321.2,80.7 321.4,79.3 321.6,79.9 321.7,79.8 321.8,80.2 321.9,78.5 322,78.3 322.2,75.9 322.4,77.7 322.5,75 322.6,77.6 322.7,75.3 322.8,75.8 322.9,75.2 323.2,72 323.3,71.9 323.4,73.6 323.5,72.5 323.6,73.2 323.7,73.3 323.8,74.4 324,73.8 324.1,74.5 324.3,71.9 324.8,76.4 324.9,76.1 325,74.8 325.1,78.1 325.2,77.4 325.3,78.8 325.4,77.5 325.6,80.5 325.8,81.6 325.9,80.2 326,83.6 326.1,81.3 326.2,84.8 326.5,85.7 326.7,87.8 326.8,87 326.9,89.5 327,86.3 327.2,88.9 327.3,89.1 327.4,86.4 327.5,88.3 327.7,84.4 327.9,86.8 328,86.5 328.2,83.5 328.3,84.4 328.4,81.5 328.5,80.7 328.8,83.4 328.9,80.9 329,80.8 329.1,83 329.3,79.8 329.5,80.9 329.6,80.4 329.7,81.7 329.8,81 329.9,82.3 330.1,78.4 330.4,81.7 330.6,77.3 330.7,80.3 330.8,80.3 330.9,78 331.1,80.9 331.2,78.6 331.3,83.2 331.4,77.1 331.5,83.6 331.7,78.9 331.9,82 332.2,76.6 332.3,86.1 332.4,86.2 332.5,85.3 332.7,86.2 332.8,80 333,86.5 333.1,80 333.3,86.7 333.5,82.6 333.6,81 333.7,82.5 333.8,78.5 334,83.2 334.1,80.3 334.4,78 334.5,84.8 334.6,80.3 334.7,79.3 334.8,84.6 334.9,80.1 335.1,83.7 335.2,77.7 335.3,84.9 335.4,79.3 335.5,82.3 335.6,80.9 335.7,81 335.9,84.5 336,78.7 336.1,82.1 336.3,77 336.4,83.6 336.5,83.5 336.7,76.1 336.8,82.7 337,79.9 337.1,76.4 337.5,82.8 337.6,74.9 337.7,73.6 337.9,78.7 338,77.8 338.2,82.4 338.3,77.1 338.4,80.3 338.5,75.6 338.6,75.8 338.8,83 339,78.9 339.2,78.2 339.3,77.4 339.4,82.5 339.5,75.9 339.6,76.8 339.8,82.2 339.9,82.5 340,81.1 340.1,76.6 340.2,84 340.3,77.3 340.4,81.8 340.6,83 340.8,77.2 340.9,77.1 341.2,78.4 341.4,82.6 341.5,82.6 341.6,81.2 341.7,77.3 341.8,76.9 341.9,78.4 342,77.4 342.2,83.3 342.3,76.9 342.4,80.8 342.5,76.4 342.7,84.9 342.8,78.9 343.2,83.4 343.3,78.2 343.4,76.9 343.6,83.3 343.8,76.5 343.9,82.9 344,76.5 344.1,82.2 344.2,76.3 344.3,83 344.4,83.1 344.6,78.6 344.7,81.2 344.8,76.9 345.1,80 345.2,78.5 345.4,85.2 345.6,76.1 345.7,82.8 345.8,77 345.9,76.2 346,83.4 346.2,77 346.4,80.9 346.5,79.7 346.6,83.6 346.9,75.6 347,76.3 347.1,81.5 347.2,81.5 347.3,80.7 347.4,78 347.5,82.4 347.7,83.1 347.8,75.4 347.9,81.7 348,76.2 348.2,82.4 348.5,81.1 348.6,79.7 348.8,85.9 348.9,81.5 349,81.1 349.1,81.6 349.3,84.4 349.4,85.2 349.7,78.7 349.8,84.9 349.9,86.8 350.2,80.3 350.3,83 350.4,81.5 350.5,81.1 350.6,86.5 350.7,78.4 350.9,83 351.1,77.7 351.2,80 351.4,77.8 351.5,82.4 351.7,77.9 351.8,79.9 351.9,79.7 352,75.3 352.1,80.3 352.5,76.2 352.6,76.2 352.8,84.5 352.9,84.5 353.1,76.8 353.3,83.5 353.4,84.1 353.5,78.3 353.7,83.6 353.8,80.1 353.9,84.3 354.1,84.4 354.2,80.2 354.3,82.1 354.4,80.4 354.5,83.9 354.6,77 354.7,80.5 355,77.5 355.1,84.6 355.2,78.3 355.3,82.5 355.4,83.2 355.6,79 355.7,83.9 355.9,77.8 356,80.5 356.1,73.9 356.2,74.1 356.4,77.3 356.6,75 356.7,77.8 356.8,76.2 358,83.8 359.1,93.1 360,97.7 360.7,102 361.4,104.9 362.3,110.6 362.5,111.5 363.4,114 363.7,114.5 364.4,115.4 364.9,117.1 365.1,117.2 365.3,117.3 365.7,116.9 366.2,116.7 366.8,116.3 367,116.1 367.3,115.2 368,112.9 368.6,112.1 369.4,110 370,109.2 370.5,108.9 370.8,109 371.2,109.5 371.7,109.8 372.1,110.9 372.5,111 373.2,110.4 373.7,110.4 374.7,109.4 375.7,107.3 376,107 376.3,107.1 376.8,108.1 377.3,108.6 377.5,109.1 378.6,112.9 379.7,118.2 380.7,121.3 382,126.5 383,129.1 383.9,130.7 384.6,131.4 385.3,132.5 385.8,132.6 386.3,133.2 386.9,132.9 387.4,133.3 387.8,133.3 388.4,133.9 389,133.9 389.8,134.2 390.2,134.6 390.8,135.7 391.4,136 391.8,136.5 392.1,136.4 392.7,135.8 393.4,133.4 393.7,133 394,132.9 394.4,132.8 394.6,132.9 395.6,134 396.2,134.2 396.9,135.3 397.1,135.5 397.3,135.5 398.1,135 398.6,134.6 399.5,134.2 400.1,134.8 400.5,134.7 400.6,134.8 401.4,136.5 401.9,136.8 402.4,137.4 403.1,137.7 403.9,138.7 404.7,139.4 405.1,139.5 405.6,140 406,140.2 406.6,140.8 407.3,141 408.2,141.7 408.9,141.9 409.6,142.9 409.9,142.8 410.4,142.9 410.9,142.8 412.2,143.4 412.8,143.4 413.5,143.8 413.9,143.5 414.2,143.5 414.4,143.6 415,144.5 415.3,144.8 415.8,144.9 416.3,144.6 417,145.1 417.5,145.4 417.7,145.3 418,144.9 418.5,145 419.1,144.8 419.5,145.2 420,146 420.2,146.2 420.8,145.9 421.6,145.7 421.9,145.9 422.5,146.4 422.7,146.4 423.2,145.9 423.4,145.8 424.1,146.4 425,146.1 425.6,145.3 426.2,144.9 427.1,143.2 427.3,143.1 427.9,143.3 428.5,142.9 428.8,142.9 429.1,142.8 429.6,142.4 430.1,141.8 430.8,141.6 431.3,141.1 431.9,140.3 432.6,140.3 433.2,140.2 433.8,138.8 434,138.8 434.5,139.4 434.8,139.5 435.3,139.2 435.8,139.2 436.2,139 436.9,139 437.5,138.6 437.7,138.7 438.2,139 438.4,139 438.9,138.6 439.4,138.4 440.1,137.7 440.5,137.6 440.9,137.6 441.2,137.5 441.5,137 442.1,135.8 442.3,135.6 442.8,135.8 443.3,135.5 444,135.9 445.5,137.9 445.7,138 446.8,137.5 447.3,137.5 448.4,137 448.8,136.6 449.1,136.7 449.6,137.6 450.2,137.1 450.8,136.9 451,136.9 451.5,137.4 451.6,137.4 452.3,136.8 452.8,136.6 453.4,136.7 454.1,136.4 455,136.7 455.7,136.2 456.4,136.4 457.1,136 457.6,135.7 458.3,135.9 458.9,135.6 459.4,135.6 459.9,135.1 460.6,134.8 461.1,134.3 461.2,134.3 461.8,135.4 462.2,135.5 462.7,136.1 463,136.2 463.5,136.1 464.1,136.7 464.2,136.7 464.9,135.7 465.8,135.1 466.3,134.1 466.8,133.7 467.4,132.7 468.1,132.2 469,130.4 469.2,130.3 469.7,130.2 470,130.5" stroke="#ff8a24" stroke-width="2.0" />
</g>
<rect x="38.2" y="33.3" width="64.4" height="78.5" fill="#fff"/>
<g clip-path="url(#ci1)" fill="none" stroke-linejoin="round" stroke-linecap="butt">
<polyline points="40.2,105.3 44.3,105.6 45,105.6 46.1,105.3 46.9,105 47.5,104.4 48,103.7 48.3,102.8 48.8,100.5 49.1,97.5 49.3,95.1 49.9,78.2 50.1,76.3 50.3,78.2 50.7,91.9 50.9,95.1 51.2,99.3 51.5,101.5 52,103.3 52.3,104 52.7,104.5 53.5,105.1 54.1,105.4 54.7,105.5 56.3,105.6 57.8,105.4 58.7,105 59.4,104.4 59.9,103.4 60.2,102.4 60.8,99.9 61,99.5 61.1,99.3 61.3,99.5 61.5,99.9 62.3,103 62.6,103.9 62.9,104.4 63.4,105 63.9,105.3 64.7,105.7 65.5,105.8 66.3,105.8 66.9,105.7 67.6,105.5 68.4,105.1 68.7,105 69,105.1 70.1,105.8 70.8,106 72,106.3 73.3,106.3 79.2,106.3 86.9,106.2 88.2,106.1 90.9,105.7 91.7,105.5 92.4,105.2 92.8,104.7 93.2,104.2 93.6,102.7 94.1,99.5 94.3,99.1 94.4,99.5 95.1,103.1 95.4,103.9 95.9,104.4 96.4,104.5 97,104.6 98.6,104.2 100.1,103" stroke="#0808f4" stroke-width="2.0" />
<polyline points="40.2,99.1 44.3,99.4 45,99.4 46.1,99.2 46.9,98.8 47.5,98.3 48,97.5 48.3,96.7 48.8,94.4 49.1,91.4 49.3,89 49.9,72.1 50.1,70.1 50.3,72.1 50.7,85.8 50.9,89 51.2,93.1 51.5,95.4 52,97.2 52.3,97.9 52.7,98.3 53.5,99 54.1,99.2 54.7,99.4 56.3,99.5 57.8,99.4 58.7,98.9 59.4,98.3 59.9,97.3 60.2,96.4 60.8,93.8 61,93.4 61.1,93.2 61.3,93.4 61.5,93.8 62.1,96.4 62.4,97.4 62.7,98.1 63.2,98.8 63.7,99.2 64.3,99.5 65,99.7 65.9,99.8 66.8,99.7 67.4,99.5 68.4,99 68.7,99 69,99 70,99.7 70.4,99.9 72,100.2 75.1,100.3 79.6,100.2 82.6,100 85,99.7 86.8,99.2 88.2,98.6 89.3,97.7 90.3,96.3 91.1,94.5 91.7,92.2 92.2,89.6 92.5,87.3 93.8,74.1 94.1,72.1 94.3,71.8 94.4,72 94.8,74 96,86.7 96.4,88.9 96.8,91.4 97.5,93.4 97.8,94.2 98.3,94.9 98.6,95.3 99.1,95.5 99.6,95.5 100.1,95.4" stroke="#0a8410" stroke-width="2.0" />
<polyline points="40.2,93.8 44.3,94.1 45,94.1 46.1,93.9 46.9,93.6 47.5,93 48,92.3 48.3,91.5 48.8,89.2 49.1,86.1 49.3,83.8 49.9,66.8 50.1,64.9 50.3,66.8 50.7,80.6 50.9,83.8 51.2,87.9 51.5,90.2 52,92 52.3,92.7 52.7,93.1 53.5,93.8 54.1,94 54.7,94.2 56.3,94.3 57.8,94.2 58.7,93.7 59.4,93.1 59.9,92.1 60.2,91.2 60.8,88.6 61,88.2 61.1,88.1 61.3,88.2 61.5,88.7 62.3,91.8 62.6,92.6 62.9,93.2 63.4,93.8 63.9,94.1 64.7,94.4 65.5,94.6 66.3,94.6 66.9,94.5 67.6,94.3 68.4,93.9 68.7,93.8 69,93.9 70.1,94.6 70.8,94.9 72,95.1 73.3,95.2 79.2,95.3 86.9,95.2 88.2,95.2 90.9,94.8 91.7,94.5 92.4,94.2 92.8,93.8 93.2,93.3 93.6,91.8 94.1,88.7 94.3,88.2 94.4,88.6 95.1,92.2 95.4,93 95.9,93.5 96.4,93.7 97,93.7 98.6,93.4 100.1,92.2" stroke="#f41414" stroke-width="2.0" />
<polyline points="40.2,87.1 44.3,87.4 45,87.4 46.1,87.2 46.9,86.8 47.5,86.3 48,85.6 48.3,84.7 48.8,82.5 49.1,79.4 49.3,77.1 49.9,60.1 50.1,58.2 50.3,60.1 50.7,73.9 50.9,77.1 51.2,81.2 51.5,83.5 52,85.3 52.3,86 52.7,86.4 53.5,87.1 54.1,87.4 54.7,87.5 56.3,87.7 57.8,87.5 58.7,87.1 59.4,86.5 59.9,85.5 60.2,84.6 60.8,82 61,81.6 61.1,81.5 61.3,81.6 61.5,82.1 62.3,85.2 62.6,86 62.9,86.6 63.4,87.2 63.9,87.5 64.7,87.9 65.5,88 66.3,88.1 66.9,88 67.6,87.8 68.4,87.3 68.7,87.3 69,87.4 70.1,88.1 70.8,88.4 72,88.6 73.3,88.7 79.2,88.8 86.9,88.8 88.2,88.8 90.9,88.4 91.7,88.2 92.4,87.9 92.8,87.5 93.2,87 93.6,85.4 94.1,82.3 94.3,81.8 94.4,82.3 95.1,85.9 95.4,86.7 95.9,87.2 96.4,87.4 97,87.4 98.6,87.1 100.1,85.9" stroke="#08c4c8" stroke-width="2.0" />
<polyline points="40.2,82.1 44.3,82.4 45,82.3 46.1,82.1 46.9,81.8 47.5,81.2 48,80.5 48.3,79.7 48.8,77.4 49.1,74.3 49.3,72 49.9,55 50.1,53.1 50.3,55 50.7,68.8 50.9,72 51.2,76.1 51.5,78.4 52,80.2 52.3,80.9 52.7,81.3 53.5,82 54.1,82.2 54.7,82.4 56.3,82.5 57.8,82.4 58.7,81.9 59.4,81.3 59.9,80.4 60.2,79.4 60.8,76.9 61,76.4 61.1,76.3 61.3,76.4 61.5,76.9 62.3,80 62.6,80.8 62.9,81.4 63.4,82 63.9,82.3 64.7,82.7 65.5,82.8 66.3,82.8 66.9,82.7 67.6,82.5 68.4,82.1 68.7,82 69,82.1 70.1,82.8 70.8,83.1 72,83.3 73.3,83.4 79.2,83.5 86.9,83.4 88.2,83.4 90.9,82.9 91.7,82.7 92.4,82.4 92.8,82 93.2,81.5 93.6,80 94.1,76.8 94.3,76.4 94.4,76.8 95.1,80.4 95.4,81.2 95.9,81.7 96.4,81.9 97,81.9 98.6,81.6 100.1,80.4" stroke="#cc10cc" stroke-width="2.0" />
<polyline points="40.2,77 44.3,77.3 45,77.3 46.1,77.1 46.9,76.8 47.5,76.2 48,75.5 48.3,74.7 48.8,72.4 49.1,69.3 49.3,67 49.9,50 50.1,48.1 50.3,50 50.7,63.8 50.9,67 51.2,71.1 51.5,73.4 52,75.2 52.3,75.9 52.7,76.3 53.5,77 54.1,77.2 54.7,77.4 56.3,77.5 57.8,77.4 58.7,77 59.4,76.3 59.9,75.4 60.2,74.4 60.8,71.9 61,71.4 61.1,71.3 61.3,71.4 61.5,71.9 62.3,75 62.6,75.8 62.9,76.4 63.4,77 63.9,77.3 64.7,77.7 65.5,77.8 66.3,77.8 66.9,77.7 67.6,77.5 68.4,77.1 68.7,77 69,77.1 70.1,77.9 70.8,78.1 72,78.4 73.3,78.4 79.2,78.5 86.9,78.4 88.2,78.4 90.9,78 91.7,77.8 92.4,77.5 92.8,77.1 93.2,76.6 93.6,75 94.1,71.9 94.3,71.4 94.4,71.8 95.1,75.4 95.4,76.2 95.9,76.7 96.4,76.9 97,76.9 98.6,76.6 100.1,75.4" stroke="#c0c020" stroke-width="2.0" />
<polyline points="40.2,71.4 44.3,71.7 45,71.6 46.1,71.4 46.9,71.1 47.5,70.5 48,69.8 48.3,69 48.8,66.7 49.1,63.6 49.3,61.3 49.9,44.4 50.1,42.4 50.3,44.4 50.7,58.1 50.9,61.3 51.2,65.4 51.5,67.7 52,69.5 52.3,70.2 52.7,70.6 53.5,71.3 54.1,71.5 54.7,71.7 56.3,71.8 57.8,71.7 58.7,71.3 59.4,70.6 59.9,69.7 60.2,68.7 60.8,66.2 61,65.7 61.1,65.6 61.3,65.7 61.5,66.2 62.3,69.3 62.6,70.1 62.9,70.7 63.4,71.3 63.9,71.6 64.7,72 65.5,72.1 66.3,72.1 66.9,72.1 67.6,71.8 68.4,71.4 68.7,71.3 69,71.4 70.1,72.2 70.8,72.4 72,72.7 73.3,72.7 79.2,72.8 86.9,72.7 88.2,72.7 90.9,72.3 91.7,72.1 92.4,71.8 92.8,71.4 93.2,70.9 93.6,69.3 94.1,66.2 94.3,65.7 94.4,66.1 95.1,69.7 95.4,70.5 95.9,71 96.4,71.2 97,71.2 98.6,70.9 100.1,69.7" stroke="#0a0a0a" stroke-width="2.0" />
<polyline points="40.2,65.8 44.3,66 45,66 46.1,65.8 46.9,65.5 47.5,64.9 48,64.2 48.3,63.4 48.8,61.1 49.1,58 49.3,55.7 49.9,38.7 50.1,36.8 50.3,38.7 50.7,52.5 50.9,55.7 51.2,59.8 51.5,62.1 52,63.9 52.3,64.5 52.7,65 53.5,65.6 54.1,65.9 54.7,66.1 56.3,66.2 57.8,66 58.7,65.6 59.4,65 59.9,64 60.2,63.1 60.8,60.5 61,60.1 61.1,59.9 61.3,60.1 61.5,60.5 62.3,63.7 62.6,64.5 62.9,65.1 63.4,65.6 63.9,66 64.7,66.3 65.5,66.4 66.3,66.5 66.9,66.4 67.6,66.2 68.4,65.7 68.7,65.7 69,65.8 70.1,66.5 70.8,66.7 72,67 73.3,67 79.2,67.1 86.9,67 88.2,66.9 90.9,66.5 91.7,66.3 92.4,66 92.8,65.6 93.2,65.1 93.6,63.5 94.1,60.4 94.3,59.9 94.4,60.4 95.1,64 95.4,64.8 95.9,65.3 96.4,65.4 97,65.5 98.6,65.2 100.1,63.9" stroke="#ff8a24" stroke-width="2.0" />
</g>
<rect x="38.2" y="33.3" width="64.4" height="78.5" fill="none" stroke="#484848" stroke-width="1"/>
<path d="M57 111.8v2.2M97.4 111.8v2.2" stroke="#484848" stroke-width="0.8" fill="none"/>
<text x="57" y="124.0" font-size="8.8" text-anchor="middle" fill="#1c1c1c">500</text>
<text x="97.4" y="124.0" font-size="8.8" text-anchor="middle" fill="#1c1c1c">750</text>
<rect x="426.7" y="33.3" width="63.8" height="78.5" fill="#fff"/>
<g clip-path="url(#ci3)" fill="none" stroke-linejoin="round" stroke-linecap="butt">
<polyline points="430,77.8 430.3,79.9 430.8,82 430.9,82.2 431,82.1 431.2,81.6 431.4,81.5 431.7,82.1 431.8,82.2 432.7,80 433.1,77.3 433.4,76.7 433.9,75.3 434,75.3 434,75.3 434.5,76.8 435.2,77.6 435.7,77.2 436,76.6 436.2,76.4 436.6,75.3 436.8,74.8 437,74.8 437.5,75 437.7,75.5 437.9,76.5 439.5,87.3 440.8,94.2 441.3,95.5 441.7,95.8 442,96.6 442.1,96.7 442.4,96.7 442.7,97.4 442.9,97.6 443.2,97.7 443.6,97.5 443.7,97.5 444.1,98.3 444.4,98.4 444.7,99.3 444.8,99.4 445.1,99.1 445.2,99.1 445.5,99.8 445.7,100.1 445.9,100 446,99.7 446.5,97.4 446.7,96.7 446.9,96.7 447,97 447.6,98.4 447.9,98.4 448,98.5 448.3,99.4 448.5,99.7 448.6,99.6 448.9,98.9 449.5,98.1 449.6,98 449.7,98 450.2,98.7 450.3,98.8 450.5,98.9 450.8,99.8 451,100.3 451.4,100.6 451.8,101.5 452.1,101.7 452.7,102.6 452.8,102.7 453,102.6 453.3,103 453.6,103.2 454.1,104.4 454.4,104.4 454.8,104.8 455.1,104.8 455.6,105.7 456.1,105.6 456.4,105.5 456.8,105.9 456.9,105.9 457.2,105.7 457.4,105.7 457.7,105.9 458.1,106.4 458.4,106.1 458.9,106.1 459.2,106.6 459.7,106.3 460,107 460.4,106.6 460.9,107.1 461.2,107.2 461.5,107.5 461.6,107.5 461.9,107.3 462.1,107.5 462.7,108.2 463.2,107.9 463.5,107.6 463.7,107.2 464,106.2 464.2,106.1 464.3,106.1 464.7,105.2 465,105.1 465.4,104.2 466,104.2 466.2,103.9 466.5,103.7 466.8,102.7 467,102.8 467.1,102.8 467.4,102.3 467.8,102.4 468.3,101.7 468.4,101.7 468.6,101.8 469,101.3 469.3,101.5 469.5,101.5 469.9,100.9 470,100.8 470.2,100.9 470.5,100.7 470.9,100.1 471.2,100.5 471.3,100.5 472.1,99.4 472.4,99.2 472.7,98.9 472.9,98.7 473.5,97.5 473.6,97.5 473.9,98.2 474.1,98.3 474.4,98.3 474.7,99.2 475.4,98.9 475.8,99.4 476.2,99.1 476.3,99.1 476.7,98.6 476.9,99 477.2,98.8 477.5,99 477.8,98.7 478,99 478.3,98.6 478.5,98.6 478.6,98.9 478.8,98.9 479,98.7 479.3,98.1 479.4,98 479.6,98.2 480,98.1 480.2,98.4 480.3,98.4 480.8,98 481.2,97.2 481.4,96.9 481.6,96.9 482.1,97.2 482.3,97 482.6,96.6 482.7,96.6 482.9,96.7 483.2,96.4 483.5,97 483.7,97.2 484.1,97.6 484.3,97.7 484.6,97.6 484.9,98 485.3,96.9 485.5,96.7 485.7,96.7 485.8,96.5 486.2,94.8 486.4,94.6 486.7,94.3 487.2,93.1 487.5,92.6 487.8,92.3 488.1,91.7" stroke="#0808f4" stroke-width="2.0" />
<polyline points="430,69 430.4,71.1 430.9,71.8 431.3,73 431.4,73.2 431.6,73.3 431.9,73 432.4,72.1 433.3,68 433.7,66.6 433.9,66.6 434.2,67.2 434.5,67.9 434.8,68.4 435,69.2 435.2,69.3 435.4,68.8 436,68.3 436.4,67 436.7,66.4 436.8,66.3 437.5,66.7 437.7,67.3 438.2,69.8 439.3,78.3 440.2,83.4 440.9,86.6 441.4,87.9 441.8,89.2 441.9,89.3 442.2,88.9 442.3,88.9 442.8,89.6 443,89.9 443.3,90 443.6,90 443.9,90.3 444.2,90.4 444.6,91 444.9,91.2 445.3,91.6 445.7,92.6 445.8,92.7 446,92.3 446.7,89.5 446.8,89.3 446.9,89.3 447.7,90.4 448,91.5 448.2,91.8 448.5,91.7 449,90.8 449.3,90.8 449.6,90.1 449.7,90 450,90.5 450.5,91.9 450.7,92.1 451,92.2 451.6,93.6 452,93.9 452.3,94 452.5,94.3 452.8,94.3 453.1,95.6 453.2,95.7 453.4,95.6 453.5,95.7 453.7,95.9 453.9,96 454.2,96.8 454.3,96.8 454.6,96.7 454.7,96.8 455.1,97.5 455.2,97.5 455.4,97.3 455.6,97.4 455.9,98.1 456.2,98.5 456.3,98.5 456.5,98.1 456.6,98 457.1,98.5 457.4,98.6 457.7,99.2 458.1,99 458.5,99 458.9,98.6 459.3,99.5 459.4,99.5 459.7,99 460,99.8 460.2,99.8 460.5,99.9 460.8,99.8 461.2,100 461.4,99.9 461.7,100 462,99.9 462.4,100.1 462.8,100.8 463.3,100.6 463.8,100.3 464.2,99.1 464.7,98.4 465,97.6 465.3,97.5 465.6,96.9 465.7,96.8 466,97 466.2,97 467.1,95.8 467.4,95.4 467.6,95.3 467.9,94.9 468.1,94.9 468.2,94.9 468.5,94.2 468.7,94 468.8,94 469,94.3 469.2,94.3 469.8,93.9 470.1,94.4 470.2,94.4 470.7,93.7 471.4,93.2 472,92.9 472.4,92.1 472.7,92.2 473.1,91.2 473.5,91.3 473.9,90.4 474,90.5 474.3,91.6 474.5,91.7 474.8,92 475.1,92.1 475.7,92.4 476,92.1 476.4,92.3 476.7,91.8 476.9,91.6 477.5,92.2 477.6,92.1 478,91.5 478.5,91.6 478.9,91.9 479.3,91 479.7,91.5 480,91.6 480.4,90.8 480.6,90.9 480.9,90.6 481.2,91.2 481.3,91.2 481.6,90.4 481.8,90.4 481.9,90.6 482.1,90.7 482.5,89.9 482.6,89.9 482.9,90.1 483.2,89.6 483.6,90.4 483.7,90.7 483.9,90.8 484.2,90.6 484.4,90.8 484.7,90.7 485.1,90.8 485.4,90.6 485.6,90.3 486.2,88.6 487.5,86 487.6,85.9 487.9,85.9 488.1,85.2" stroke="#0a8410" stroke-width="2.0" />
<polyline points="430,67.5 430.4,70.2 430.7,71.1 430.9,71.7 431.2,71.8 431.4,72.2 431.6,72.3 432.2,71.2 432.7,68.9 433.2,67.2 433.6,66.6 434,65.3 434.1,65.3 434.3,65.5 434.9,66.9 435.1,67 435.4,67.3 435.7,66.7 436,66.4 436.7,64.7 436.8,64.6 436.9,64.6 437.5,65.3 438.2,67.7 439.5,76.7 440,78.9 440.7,83.5 442.1,86.3 442.4,86.4 442.8,86.3 443.2,86.8 443.4,86.7 443.6,86.8 443.9,87.3 444.1,87.1 444.2,87.1 444.7,88.3 444.8,88.4 445.1,88.3 445.3,88.8 445.6,88.9 445.9,89.6 446.1,89.2 446.5,86.9 446.7,86.5 446.9,86.7 447.2,86.5 447.3,86.5 447.6,87.5 448.3,88.7 448.6,88.7 449,88 449.2,88 449.5,87.7 450.1,87.9 450.6,88.6 451.3,90.7 451.4,90.7 451.7,90.4 451.8,90.4 452.1,91 452.4,91.3 452.8,91.5 453.1,92.5 453.6,93 453.8,92.7 453.9,92.8 454.1,93.4 454.5,93.9 454.6,93.8 454.8,93.5 455.3,94.8 455.4,94.9 455.7,95.1 456,95 456.3,95.3 456.6,95 456.9,95.7 457.1,95.8 457.3,95.5 457.4,95.5 457.8,96.2 458.3,95.7 458.4,95.7 458.9,96.5 459.1,96.7 459.7,96.3 460.2,96.7 460.4,96.5 460.6,96.5 460.9,96.7 461.2,97.1 461.4,97 461.7,97 462,96.6 462.3,97.6 462.5,97.8 462.7,97.7 463,97.2 463.4,97.8 464,95.9 464.3,96.1 464.6,95.3 465,95.1 465.6,93.9 465.7,93.8 466,94 466.2,93.7 466.5,93.6 466.8,93.2 467.3,92.8 467.7,91.9 467.9,91.7 468.2,91.3 468.3,91.3 468.6,91.7 468.7,91.6 468.9,91.3 469,91.2 469.3,91.7 469.6,91.5 469.8,91.5 470.2,91.3 470.5,90.9 470.9,90.9 471.5,90 471.6,90 471.8,90.3 471.9,90.2 472.2,89.4 472.3,89.3 472.7,89.1 473.5,87.6 473.9,88 474.1,87.7 474.2,87.7 474.6,89.2 474.7,89.4 474.9,89.4 475.2,89.7 475.6,89.4 475.9,89.1 476.2,89.4 476.4,89.1 476.5,89.2 476.7,89.6 476.8,89.6 477,89.3 477.2,89.2 477.5,88.8 477.7,88.9 478,88.9 478.3,89.1 478.6,88.8 479,89 479.4,88.3 479.6,88.3 480,87.8 480.3,87.8 480.6,88.1 480.7,88.1 481.2,87.2 481.5,87.5 481.8,87.3 482.2,87.2 482.5,87.6 482.8,87 483.2,87.5 483.7,87.1 484.1,88.2 484.7,88.1 485.1,87.7 485.7,87.2 486,86.2 486.1,86 486.3,85.9 486.4,85.7 486.8,84.5 487.7,82.3 487.9,82.2 488.1,82.6" stroke="#f41414" stroke-width="2.0" />
<polyline points="430,58.1 430.3,59.6 430.7,61.3 431.1,62.2 431.2,62.2 431.4,62 431.6,62 431.9,61.7 432.1,61.6 432.2,61.4 433.9,54.9 433.9,54.8 434,55 434.4,56.3 434.7,56.6 435,57.1 435.3,57.4 435.9,56.5 436.3,55.7 436.6,55.2 436.9,54.4 437,54.3 437.2,54.3 437.7,55.4 438.3,58.1 439.1,65.1 440.3,71.8 440.7,73.3 441.1,74 441.4,75.4 441.6,75.9 442.3,76.9 442.4,77 442.7,76.8 443,77.3 443.4,76.7 443.8,77.7 443.8,77.7 444.1,77.6 444.6,78 445.4,79.7 445.6,79.4 445.9,79.4 446,79.2 446.5,77.3 446.7,76.8 447,77.2 447.4,77.4 447.6,77.8 448.1,79.1 448.2,79.2 448.7,78.6 449,78.6 449.3,78.3 449.5,78.5 449.7,78.5 450,77.8 450.1,77.7 450.5,78.8 450.8,79.2 451,80.1 451.1,80.2 451.3,80.1 451.4,80.2 451.7,81 452,81.4 452.3,82.2 452.4,82.3 452.7,82 452.8,82 453.7,83.4 454,83.9 454.2,83.9 454.3,84 454.6,84.8 455.2,85.1 455.4,85 455.6,84.6 455.8,84.6 456,84.9 456.4,86 456.6,86.2 456.8,86.2 457.1,86.3 457.3,86.1 457.6,86.7 457.9,86.6 458.2,86.9 458.6,86.9 459,86.7 459.4,86.8 460,87.2 460.3,87.8 460.6,87.9 460.8,87.8 461,87.6 461.5,87.7 461.7,87.6 461.9,87.5 462.6,88 462.8,87.9 463.2,88.1 463.7,87.9 464.2,86.9 464.5,86.1 464.8,85.9 465,85.7 465.3,85.6 466,84.5 466.2,84.3 466.6,84.2 467.2,83.2 467.9,82.7 468.1,82.4 468.5,82.2 468.8,82.5 469.1,82.4 469.3,82.5 469.7,82.1 470.2,82.1 470.6,81.8 470.9,81.7 471.4,80.9 471.7,80.7 472,80.7 472.1,80.7 472.4,79.7 472.4,79.6 472.6,79.7 472.7,79.6 473.1,78.9 473.4,79 473.5,78.9 473.8,79.2 474.1,78.9 474.5,79.9 474.9,80.4 475,80.5 475.3,80.3 475.7,80.8 475.8,80.7 476.1,80.1 476.3,79.8 476.7,80.4 477.2,80.5 477.4,80.4 477.7,80 478,80.2 478.3,80.3 478.8,79.8 479.1,79.8 479.4,79.5 479.6,79.6 479.9,79.3 480.2,79.6 480.6,79 480.9,79.3 481.1,79.3 481.5,78.6 481.9,78.4 482.3,78.2 482.9,78.5 483.1,78.4 483.3,77.7 483.4,77.8 483.9,78.7 484.9,78.9 485.2,78.6 485.4,78.6 485.5,78.5 485.9,77.2 486.2,77 486.5,76.2 486.9,75.9 487.2,74.8 487.5,74.5 487.9,73.6 488.1,73.5" stroke="#08c4c8" stroke-width="2.0" />
<polyline points="430,55.5 430.7,58.5 430.8,58.8 431.5,59.6 431.6,59.6 432,58.8 432.3,58.5 432.6,57.4 432.9,56.6 433.7,53.2 433.8,53.1 433.9,53.3 434.3,54.5 434.4,54.5 434.7,54.2 435.1,55.2 435.6,55.4 435.8,55.1 436,54.5 436.3,54.1 436.7,53.5 437,52.9 437.1,52.8 437.7,53.6 438,54.4 438.7,59.1 439.5,65.8 440.4,70.3 441.1,73.2 441.3,73.7 441.6,74.2 442,75.5 442.1,75.7 442.6,75.5 442.8,75.5 443.1,76.1 443.5,75.8 443.8,75.9 444.6,77.2 444.9,77.5 445.3,78.7 445.6,78.5 445.7,78.7 445.8,78.7 446.2,76.9 446.5,76.4 446.7,75.9 446.8,75.7 447.2,76 447.5,76.1 447.8,77.2 448.3,78.1 448.7,78.1 449,77.5 449.2,77.4 449.5,76.7 449.6,76.6 449.9,77.5 450.3,77.7 451,78.5 451.7,79.9 452,80.2 452.3,81.2 452.5,81.1 452.7,80.7 452.8,80.7 453.2,82 453.3,82.2 453.6,81.9 454,83.2 454.2,83 454.3,83 454.6,83.6 454.9,83.7 455.2,84.1 455.4,84.2 455.7,84.1 455.9,84.2 456.4,85 456.8,84.6 456.9,84.7 457.2,85.1 457.4,85 457.9,85 458.1,85.3 458.4,85.5 458.7,85.9 459,85.4 459.1,85.3 459.6,86.4 459.9,85.8 460.3,86.2 460.7,86.2 461,86 461.5,86.4 461.7,86.8 462,86.8 462.3,87.2 462.5,87.2 462.8,86.9 463.2,87.2 463.5,86.5 463.8,86.1 464.2,85.5 464.5,85.3 464.7,84.6 464.8,84.5 465,84.7 465.3,84 465.6,83.9 465.8,83.8 466.1,82.9 466.3,82.9 466.6,83.2 466.8,83.2 467.1,82.9 467.6,82.1 468.2,81.9 468.6,81.6 468.9,81.2 469,81.1 469.3,81.4 470,80.6 470.2,80.6 470.5,80.4 470.9,80.5 471.2,79.7 471.6,79.8 471.8,79.7 472.2,78.9 472.4,78.8 472.7,79 472.8,79 473.2,77.7 473.5,77.8 473.7,77.6 473.9,77.5 474.3,78.3 474.4,78.4 474.7,78.3 475.1,78.7 475.5,79.6 475.8,78.9 476,78.9 476.5,79.2 477.3,78.5 477.5,78.5 477.8,79.1 478.3,78.6 478.9,78.6 479.3,78.3 479.8,78.6 480,79 480.4,78.1 480.9,78.2 481.3,77.7 482,77.8 482.6,77.4 482.7,77.4 482.9,77.8 483.1,77.8 483.3,77.4 483.7,77 483.9,77.1 484.2,78.4 484.4,78.5 484.7,78.2 485.1,77.5 485.4,77.3 485.7,77.5 485.8,77.4 486.2,75.8 486.7,75 487.2,73.6 487.5,73.5 487.9,72.5 487.9,72.5 488,72.5 488.1,72.8" stroke="#cc10cc" stroke-width="2.0" />
<polyline points="430,51.8 430.3,52.7 430.8,54.3 431.1,55 431.2,55.1 431.4,55 431.6,55.3 431.7,55.4 432.1,54.5 432.4,54 432.7,52.8 433.2,50.5 433.7,48.9 433.9,48.8 434.5,49.3 434.9,50.7 435,50.8 435.8,50.3 436.2,49.1 436.3,49 436.5,49.1 436.9,48.3 437,48.3 437.3,48.6 437.7,48.5 437.9,49.5 439.8,62.7 440.3,65.9 441,68.3 441.3,68.9 441.6,70.1 442,70.3 442.6,71.5 442.9,71.7 443,71.7 443.3,71.4 443.4,71.3 443.7,71.5 443.9,71.7 444.2,71.8 444.6,72.2 445.2,73.7 445.7,74.3 445.9,74 446.5,71.4 446.7,70.9 446.9,70.6 447,70.7 447.3,71.6 447.6,72 447.9,73 448.4,73.6 448.5,73.6 448.8,73 449.2,73 449.6,72.2 449.8,72 450,72 451.2,74.5 451.4,74.8 452,75.7 452.4,76.1 452.6,76.1 453.1,77.3 453.3,77.2 453.6,77.8 454.1,77.9 454.5,78.5 454.8,79.1 455.1,79.6 455.6,79.7 455.9,79.5 455.9,79.5 456.6,80.7 456.9,80.6 457.2,80.1 457.5,80.5 457.7,80.4 458,80.7 458.2,80.8 458.5,81.5 458.9,80.9 459,80.9 459.3,81.2 459.7,81.1 460,81.6 460.4,81.5 461,81.9 461.5,81.8 462,82.3 462.3,82.4 462.7,82.3 463,82.9 463.4,82.1 463.7,82 464.1,81.2 464.8,80.3 464.9,80.2 465.2,80.4 465.6,80 465.9,79.5 466.1,79.4 466.5,78.7 466.9,78.1 467.3,77.8 467.6,77.8 467.9,77.5 468.1,77.3 468.5,76.6 468.9,76.6 469.2,76.8 469.4,76.5 469.7,76.7 470.2,76.6 470.7,76 471.1,76 471.3,75.8 471.7,75 472.1,74.5 472.2,74.5 472.4,74.6 472.8,74.4 473.6,73.3 473.9,73.5 474.2,73.3 474.7,74.4 474.9,75.2 475.1,75.4 475.4,75.4 475.8,75.1 476.2,75.1 476.8,74.5 477,74.6 477.3,75.3 477.4,75.2 477.7,74.3 478.1,74.6 478.6,74.1 478.9,74.6 479,74.6 479.6,73.9 479.9,73.7 480.1,73.5 480.4,73.7 480.8,73.2 481.2,73.7 481.4,73.4 481.8,73.4 482.1,72.9 482.4,72.9 482.8,72.8 483.1,73 483.4,72.9 483.6,73 483.9,72.9 484.2,73.6 484.6,74.1 484.9,73.5 485.2,73.4 485.6,72.7 485.9,72.6 486.4,71.7 486.9,70.3 487.2,69.7 487.5,69.2 487.8,68.6 488.1,68" stroke="#c0c020" stroke-width="2.0" />
<polyline points="430,46.1 430.8,49.5 431.2,50.5 431.4,50.6 431.7,50.1 431.9,50.1 432.1,50.3 432.2,50.2 433.1,45.6 433.8,43.6 433.9,43.6 434,43.7 434.5,45.1 434.9,45.4 435.2,45.5 435.5,45.9 435.6,45.8 435.9,44.7 436.2,44.3 436.6,43.4 436.7,43.3 437.2,43.2 437.3,43.3 437.8,44.7 438.3,47.3 439.3,54.2 439.6,56 440.5,61.6 440.7,62.3 441.6,64.3 441.9,64.6 442.2,65.3 442.7,65.8 442.8,65.7 443,65.2 443.1,65.1 443.1,65.1 443.4,66.1 443.7,66.4 443.9,66.7 444,66.7 444.2,66.4 444.4,66.4 444.6,66.8 445,67.7 445.3,68 445.6,68.9 445.7,69.1 445.8,68.9 446,68.4 446.4,66.4 446.6,66 446.9,66.3 447.1,66.3 447.3,66.5 447.6,66.6 448.4,67.9 448.5,68 448.9,67.8 449.5,67.2 449.7,66.9 450,66.8 450.2,67.2 450.8,68.6 451.2,69.2 451.5,70.1 451.7,70.2 451.9,70.3 452,70.4 452.3,71.3 452.6,71 453,72 453.1,72 453.3,71.8 453.3,71.9 453.7,73.1 454,72.9 454.4,73.7 454.6,73.8 454.9,73.7 455.1,73.8 455.9,74.9 456.3,74.3 456.6,74.6 456.9,74.8 457.3,75.3 457.7,75.4 458,75.6 458.4,76.3 458.6,76.5 458.7,76.4 459.2,75.7 459.4,75.6 459.9,76.3 460.2,76.1 460.2,76.2 460.5,76.8 460.7,77.1 460.9,77.1 461.1,76.8 461.4,76.9 461.6,76.9 461.9,77.2 462.2,77 462.4,77.3 462.9,77.8 463.2,77.3 463.3,77.2 463.5,77.2 463.6,77 464.3,75 464.5,74.9 464.7,75 465,74.5 465.3,74.9 465.5,74.8 465.9,73.7 466.2,73.4 466.5,73 466.8,73.1 467,72.8 467.3,72.8 467.6,72 467.8,71.9 468.1,71.5 468.6,71.6 468.9,71.2 469.3,71.2 469.6,71.6 469.7,71.5 469.9,70.8 470.1,70.6 470.4,70.9 470.7,70.8 470.9,70.9 471.1,70.9 471.5,70.4 471.7,69.9 472.4,69.2 472.6,68.9 472.7,68.9 473,69.1 473.4,68 473.6,67.8 473.7,67.9 474,68.5 474.4,68.8 474.6,69.4 475.1,69.9 475.2,69.8 475.5,69.2 475.6,69 475.9,69.7 476,69.7 476.2,69.5 476.5,69.7 476.7,69.6 477,69.8 477.7,69.3 478,69.2 478.3,69.3 478.7,68.8 479,68.8 479.3,69.2 479.8,68.8 480.2,68.8 480.4,68.5 480.8,68.8 481,68.7 481.4,68.2 481.6,68.3 481.9,68.2 482.3,68.5 482.4,68.3 482.6,67.6 482.9,68.1 483.2,67.4 483.5,67.6 483.7,67.6 484.4,68.7 484.7,68.8 485,68.4 485.1,68.3 485.4,68.4 485.5,68.4 485.9,66.9 486.5,66.2 487.3,64.3 487.8,63.3 488.1,62.9" stroke="#0a0a0a" stroke-width="2.0" />
<polyline points="430,42.7 430.3,44 430.7,44.8 431,46.3 431.1,46.4 431.2,46.4 431.4,46.1 431.7,45.9 432,45.6 432.1,45.4 432.7,42.7 433,41.9 433.4,40.1 433.7,39.4 434,39.2 434.2,39.3 434.7,40 434.9,40.9 435.1,41 435.5,40.5 435.8,40.5 436.3,39.6 436.8,37.7 437,37.5 437.2,37.5 437.8,39.3 438.4,42.6 439,46.9 439.6,49.9 440.3,54.5 440.8,56.7 441.3,58 441.7,58.7 442.1,59.7 442.3,59.8 442.6,60.4 442.9,60.1 443.2,60.4 443.4,60.4 443.8,60.9 444.1,60.9 444.5,61.1 444.7,61.6 445.1,62.5 445.4,62.8 445.6,63.1 446.1,62.6 446.5,60.5 446.6,60.2 446.8,60 447,60 447.1,60.1 447.7,61 448,61.2 448.5,62.3 448.6,62.3 449,61.9 449.3,61.5 449.8,61.2 450.1,61.7 450.3,61.6 450.4,61.7 450.8,63.2 451.1,63.4 451.3,64 451.7,64.2 452.1,65.1 452.6,65.7 452.8,65.8 453.1,66.3 453.3,66.4 453.6,66.9 454,67.1 454.5,67.7 454.9,67.9 455.3,68.8 455.4,68.7 455.7,68.8 456,68.7 456.7,69.2 457,69.2 457.4,69.5 457.6,69.3 457.7,69.2 458.4,70.4 458.6,70.5 458.9,70.2 459.3,70.7 459.6,70.9 459.9,70.5 460.1,70.6 460.4,70.4 460.7,70.8 461,71.6 461.4,71.4 461.7,71.2 461.9,71.3 462.3,71.8 462.5,71.8 462.7,71.4 462.8,71.3 463.2,71.8 463.6,71.6 464,70.9 464.3,70.4 464.8,69 464.9,68.9 465.2,69.1 465.5,68.8 465.7,68.8 465.9,68.7 466.1,68.4 466.4,67.8 466.8,67.6 467.4,66.5 467.8,66.5 468.1,66.4 468.4,65.2 468.5,65.2 468.8,65.7 468.9,65.8 469.3,65.5 469.5,65.5 469.8,65.4 470.1,65.3 470.4,65 470.8,65.4 470.9,65.4 471.2,65 471.5,64.8 471.9,64.2 472.1,64.1 472.3,64.2 472.4,64 473,62.4 473.3,62.6 473.6,62.3 474,62.6 474.8,64.4 474.9,64.5 475.5,64.1 475.8,64.1 476.3,63.6 476.6,63.3 476.7,63.3 477,64.2 477.3,63.7 477.7,63.5 477.8,63.6 478,64 478.5,63.5 478.8,63.3 479.1,63.4 479.5,63.1 480,63.4 480.3,63 480.7,63.1 481.4,62.5 481.8,62.7 482.1,62.4 482.3,62.4 482.6,62 483,61.7 483.2,61.2 483.3,61.2 483.6,62.2 483.9,62.3 484.1,62.9 484.3,62.9 484.6,62.8 484.9,63.3 485.3,62.5 485.8,62 486.1,61.1 486.4,60.7 486.7,59.9 487,59.5 487.5,57.8 487.7,57.7 487.9,57.7 488.1,58" stroke="#ff8a24" stroke-width="2.0" />
</g>
<rect x="426.7" y="33.3" width="63.8" height="78.5" fill="none" stroke="#484848" stroke-width="1"/>
<path d="M441.4 111.8v2.2M457 111.8v2.2M487.6 111.8v2.2" stroke="#484848" stroke-width="0.8" fill="none"/>
<text x="457" y="124.0" font-size="8.8" text-anchor="middle" fill="#1c1c1c">3500</text>
<text x="487.6" y="124.0" font-size="8.8" text-anchor="middle" fill="#1c1c1c">4000</text>
<rect x="236.6" y="33.3" width="55.8" height="78.5" fill="#fff"/>
<g clip-path="url(#ci2)" fill="none" stroke-linejoin="round" stroke-linecap="butt">
<polyline points="239,93 239.7,95.9 240.4,98.3 241.2,100.4 242,102 242.8,103.1 243.7,103.8 244.1,103.9 244.6,104 245,104 245.5,103.8 246,103.5 246.5,103.1 247.7,101.9 248.5,100.5 249.3,98.6 249.8,96.5 250.9,88.8 251.1,87.8 251.2,87.6 251.3,87.6 251.6,88.3 251.9,89.8 252.9,97.2 253.4,99.6 253.9,101.9 254.6,103.6 255.2,104.7 256,105.7 256.8,106.6 257.7,107.2 258.7,107.8 259.7,108.2 260.6,108.3 261.6,108.3 262.5,108.1 263.4,107.6 265.5,105.7 266.2,105.3 266.7,105.1 267.9,105 268.5,104.7 269,104.2 269.5,103.4 270.6,101 271.4,98.4 272,95 272.5,91 273.7,78.4 274.1,75.9 274.4,74.9 274.5,74.9 274.6,74.9 274.7,75.2 275,77 276.4,91.5 276.8,95.1 277.2,97.9 277.7,100.3 278.2,101.9 278.8,103 279.4,103.7 280.5,104.2 281.5,104.6 282.4,104.8 283.3,104.8 284,104.6 284.6,104.3 285.2,103.7 285.7,102.9 286.3,101.8 286.8,100.5 287.8,96.9 288.7,92.1 289.6,85.8" stroke="#0808f4" stroke-width="2.0" />
<polyline points="239,83.3 239.7,85.8 240.5,87.8 241.4,89.2 241.8,89.7 242.3,90 243,90.3 243.9,90.3 244.7,90.1 246.7,89.3 247.3,89.2 248.2,89.2 248.6,89 249,88.6 249.3,88 249.7,86.6 250.1,84.5 250.9,76.9 251.1,75.4 251.2,75 251.3,74.9 251.5,75.2 251.7,76.1 252.7,83.1 253.4,87.2 254.2,89.9 254.6,91 255,91.8 256.6,93.9 258.4,96.6 258.9,97.2 259.5,97.7 260,97.9 260.6,98 262.3,98.1 263.6,97.9 264.8,97.3 265.8,96.6 267.4,94.8 267.9,94.5 268.5,94.3 268.9,93.8 269.3,93.2 269.7,92.1 271.1,87.5 271.7,85 272.2,81.6 272.7,76.6 273.8,63.7 274,61.7 274.1,61.2 274.3,61.1 274.6,62 274.9,63.6 276.3,80.9 276.9,85.6 277.5,89.3 278,91.4 278.3,92.2 278.7,92.9 279.1,93.5 280.7,95.1 281.1,95.3 281.5,95.4 281.9,95.1 282.8,94 283.2,93.7 283.6,93.7 284.6,94.2 284.9,94.2 285.2,94.1 285.8,93.4 286.4,92.1 287.3,89.2 288.1,85.3 288.9,80.1 289.6,74.2" stroke="#0a8410" stroke-width="2.0" />
<polyline points="239,81.6 239.9,84.6 240.8,87.3 241.7,89.4 242.5,91.1 243.3,92.2 244.1,92.9 244.9,93.2 245.4,93.2 245.8,93.1 246.2,92.9 246.7,92.6 247.7,91.5 248.5,90.1 249.2,88.3 249.6,86.8 250,85 251,77.9 251.2,77.2 251.3,77 251.3,77 251.7,78.1 252.3,82.4 252.6,84.3 253.9,89.5 254.7,91.8 255.3,93 256,94.3 256.7,95.2 257.4,96 258.1,96.5 258.7,96.9 259.4,97 260.1,97 260.9,96.9 261.8,96.5 264.7,94.8 265.8,94.3 266.6,94 267.9,93.8 268.3,93.6 268.7,93.3 269.1,92.8 270,91.1 270.6,89.4 271.1,87.9 271.9,84.4 272.5,79.6 273.7,66.9 274.1,64.7 274.4,63.9 274.6,64 274.8,64.6 275.1,66.8 276.4,81.9 276.7,85.2 277.1,87.6 277.6,89.8 278.2,91.6 278.9,93 279.7,93.9 280.5,94.4 281.3,94.6 282.2,94.6 283.3,94.3 284.1,94 284.8,93.6 285.4,93 286,92.1 286.5,91.1 287,89.8 287.9,86.5 288.7,82.1 289.6,76.2" stroke="#f41414" stroke-width="2.0" />
<polyline points="239,69.7 239.5,72 240,73.6 240.5,74.8 241.1,75.5 241.5,75.7 241.9,75.8 245.4,75.9 246.5,76.1 247.7,76.5 248,76.5 248.3,76.4 248.6,76.1 248.9,75.4 249.4,73.4 250,70.2 250.9,62.9 251.2,61.8 251.3,61.7 251.3,61.7 251.5,62.2 251.8,63.6 252.6,70.4 253.1,73.8 253.5,75.9 253.9,77.2 254.3,77.7 255.1,78.4 255.5,79 257.5,83 258,83.7 258.5,84.3 259.4,85.1 260.8,85.9 262.4,86.6 262.9,86.7 263.3,86.7 263.8,86.5 264.3,86 264.9,85.4 265.6,84.4 268.9,78.9 269.6,77.5 270.1,75.8 270.8,72.7 271.4,69 272.7,55.8 273.2,51.6 273.6,49.1 273.8,48.4 274,48.1 274.1,48.1 274.2,48.2 274.4,48.7 274.8,51.3 276.5,69.8 277,73.6 277.3,75.9 277.8,77.6 278.6,79.2 279.4,80.2 280.6,81.4 281.2,81.6 281.7,81.5 282.1,81.2 283.2,79.9 283.5,79.7 283.7,79.7 284,79.8 284.2,80 284.9,81.3 285.1,81.4 285.3,81.4 285.7,81 286.2,80.1 286.6,78.8 287.1,77.1 287.9,72.8 288.7,66.5 289.6,58.8" stroke="#08c4c8" stroke-width="2.0" />
<polyline points="239,69.7 240.2,74.6 240.8,76.4 241.5,78.2 242.3,79.9 243.2,81.4 244,82.5 244.7,83 245.1,83.2 245.4,83.1 245.8,82.9 246.2,82.5 248.3,79.7 249.1,78.1 249.6,76.6 249.9,75.2 250.9,67.4 251.2,66.4 251.4,66 251.5,66.1 251.7,66.4 251.9,67.5 252.9,75.4 253.3,77.6 253.6,78.5 255.2,82.1 255.9,83.3 256.6,84.2 257.2,84.9 257.9,85.3 258.6,85.6 259.3,85.7 260.5,85.6 263.4,84.7 265.7,84.6 266.7,84.4 267.3,83.9 267.9,83.3 268.4,82.5 269,81.5 269.8,79.9 270.5,78.1 271.4,75.3 271.9,72.8 272.3,69.7 273.9,54 274.2,52.2 274.4,51.6 274.5,51.5 274.6,51.7 274.8,52.1 275.1,54.3 276,66 276.7,71.9 277.3,76.1 277.9,79 278.3,80.3 278.7,81.3 279.1,82.1 279.6,82.7 280.4,83.4 281.3,83.8 282.1,84.1 283,84.1 283.6,84 284.1,83.8 284.6,83.5 285,83.1 285.9,81.9 286.7,80.1 287.4,77.8 288.2,74.6 288.9,70.6 289.6,66" stroke="#cc10cc" stroke-width="2.0" />
<polyline points="239,64.4 239.7,67.4 240.5,70.1 241.3,72.5 242.2,74.5 243.1,76.2 244,77.4 244.9,78.1 245.2,78.2 245.6,78.2 246.1,77.9 246.7,77.2 248.8,73.5 249.2,72.7 249.5,71.6 249.8,70.1 250.9,62.7 251.1,61.8 251.2,61.7 251.3,61.7 251.7,62.4 252,63.9 253.1,72.5 253.5,74 253.9,75.2 255.2,77.8 255.8,78.7 256.5,79.6 257.1,80.2 257.8,80.6 258.5,80.8 259.2,80.9 260.3,80.7 262.3,79.7 263.2,79.4 264,79.4 265.4,79.9 265.9,79.8 266.4,79.5 268.2,77.8 268.7,77.2 269.2,76.2 270,74.2 270.9,71.4 271.4,69.4 271.9,67.3 272.3,64.7 272.7,61.4 273.8,50.3 274.1,48.8 274.3,48.3 274.4,48.3 274.6,48.8 275,51 276.5,66.4 276.9,69.7 277.3,72 277.9,74 278.6,75.7 279.4,76.7 280.9,78.2 281.7,78.8 282.3,79.1 282.9,79.3 283.6,79.2 284.2,79 284.7,78.5 285.3,77.8 285.8,77 286.8,74.6 287.8,71.2 288.7,66.9 289.6,61.4" stroke="#c0c020" stroke-width="2.0" />
<polyline points="239,59 239.6,62.1 240.4,64.9 241.1,67.2 241.9,69.2 242.8,70.7 243.8,71.9 244.8,72.7 245.2,72.9 245.6,72.9 246,72.7 246.4,72.2 247.8,69.7 248.2,69.2 248.9,68.6 249.3,67.8 249.6,66.6 249.8,65.2 250.8,57.5 251,56.4 251.2,56.2 251.3,56.1 251.5,56.5 251.8,57.6 252.6,63.2 253.2,66.5 253.8,69 254.5,70.9 255,71.9 255.5,72.7 256.1,73.5 257,74.4 257.8,75.1 258.4,75.5 259,75.8 259.7,75.8 260.5,75.6 262.3,74.5 263.1,74.1 263.7,74.2 264.8,75 265,75.1 265.2,75 266.3,74.1 267.8,73.1 268.2,72.6 268.7,71.8 270.3,67.1 271.3,64.7 271.9,62.6 272.5,58.2 273.8,45.5 274.1,43.1 274.4,42.2 274.6,42.3 274.8,42.7 275,44.2 276.4,60.4 276.9,63.9 277.3,66.3 277.9,68.6 278.7,70.5 279.6,71.9 281,73.4 281.7,73.9 282.3,74.3 283,74.4 283.6,74.3 284.2,73.9 284.8,73.4 285.4,72.7 285.9,71.7 287,69 288,65.3 288.9,60.9 289.6,55.9" stroke="#0a0a0a" stroke-width="2.0" />
<polyline points="239,50.8 239.7,54 240.5,57.1 241.3,59.7 242.2,62 243.1,64.1 244.1,65.7 244.9,66.7 245.3,67 245.6,67 246.1,66.8 246.5,66.3 248,63.7 248.9,62.4 249.3,61.6 249.6,60.5 249.8,59.2 250.8,52.1 251.1,51 251.2,50.8 251.4,50.8 251.7,51.4 251.9,52.7 253.1,61.6 253.5,63.2 254,64.6 254.9,66.3 255.8,67.5 257.7,69.1 258.4,69.4 259,69.5 259.5,69.4 260,69.1 261.6,67.3 262.3,66.9 262.6,66.9 262.9,66.9 264.1,67.6 264.7,67.8 265.5,67.8 266.3,67.6 267.1,67.1 267.7,66.6 268.2,66 268.7,65.1 271.2,58.5 271.9,56.1 272.5,51.2 273.7,39.2 274,37.2 274.3,36.7 274.4,36.8 274.5,37.1 274.8,38.9 276.4,55 276.9,59.1 277.5,62 278,63.9 278.6,65.2 279.1,65.7 281.7,68.7 282.3,69.1 282.8,69.3 283.2,69.3 283.6,69 284.2,68.4 285.2,67.1 285.9,65.9 286.5,64.7 287.4,62.4 288.2,59.5 288.9,55.8 289.6,51.4" stroke="#ff8a24" stroke-width="2.0" />
</g>
<rect x="236.6" y="33.3" width="55.8" height="78.5" fill="none" stroke="#484848" stroke-width="1"/>
<path d="M253.6 111.8v2.2M273.6 111.8v2.2" stroke="#484848" stroke-width="0.8" fill="none"/>
<text x="253.2" y="124.0" font-size="8.8" text-anchor="middle" fill="#1c1c1c">1050</text>
<text x="274.6" y="124.0" font-size="8.8" text-anchor="middle" fill="#1c1c1c">1100</text>
<rect x="38.2" y="33.3" width="452.3" height="163.3" fill="none" stroke="#484848" stroke-width="1"/>
<path d="M69.4 196.6v2.6M126.6 196.6v2.6M183.9 196.6v2.6M241.1 196.6v2.6M298.3 196.6v2.6M355.6 196.6v2.6M412.8 196.6v2.6M470 196.6v2.6M40.8 196.6v1.6M98 196.6v1.6M155.2 196.6v1.6M212.5 196.6v1.6M269.7 196.6v1.6M326.9 196.6v1.6M384.2 196.6v1.6M441.4 196.6v1.6M38.2 193.6h-2.6M38.2 174.7h-2.6M38.2 155.7h-2.6M38.2 136.8h-2.6M38.2 117.8h-2.6M38.2 98.8h-2.6M38.2 79.9h-2.6M38.2 60.9h-2.6M38.2 42h-2.6" stroke="#484848" stroke-width="0.8" fill="none"/>
<text x="69.4" y="209.8" font-size="8.8" text-anchor="middle" fill="#1c1c1c">500</text>
<text x="126.6" y="209.8" font-size="8.8" text-anchor="middle" fill="#1c1c1c">1000</text>
<text x="183.9" y="209.8" font-size="8.8" text-anchor="middle" fill="#1c1c1c">1500</text>
<text x="241.1" y="209.8" font-size="8.8" text-anchor="middle" fill="#1c1c1c">2000</text>
<text x="298.3" y="209.8" font-size="8.8" text-anchor="middle" fill="#1c1c1c">2500</text>
<text x="355.6" y="209.8" font-size="8.8" text-anchor="middle" fill="#1c1c1c">3000</text>
<text x="412.8" y="209.8" font-size="8.8" text-anchor="middle" fill="#1c1c1c">3500</text>
<text x="470" y="209.8" font-size="8.8" text-anchor="middle" fill="#1c1c1c">4000</text>
<text x="33.4" y="196.8" font-size="9" text-anchor="end" fill="#1c1c1c">0</text>
<text x="33.4" y="177.8" font-size="9" text-anchor="end" fill="#1c1c1c">1</text>
<text x="33.4" y="158.9" font-size="9" text-anchor="end" fill="#1c1c1c">2</text>
<text x="33.4" y="139.9" font-size="9" text-anchor="end" fill="#1c1c1c">3</text>
<text x="33.4" y="121" font-size="9" text-anchor="end" fill="#1c1c1c">4</text>
<text x="33.4" y="102" font-size="9" text-anchor="end" fill="#1c1c1c">5</text>
<text x="33.4" y="83.1" font-size="9" text-anchor="end" fill="#1c1c1c">6</text>
<text x="33.4" y="64.1" font-size="9" text-anchor="end" fill="#1c1c1c">7</text>
<text x="33.4" y="45.2" font-size="9" text-anchor="end" fill="#1c1c1c">8</text>
<text transform="translate(21.6 115.5) rotate(-90)" font-size="8.5" text-anchor="middle" fill="#1c1c1c">Absorbance</text>
<text x="264.5" y="223.4" font-size="9.25" text-anchor="middle" fill="#1c1c1c">Wavenumber[cm<tspan font-size="6.4" dy="-3.4">−1</tspan><tspan dy="3.4">]</tspan></text>
<text x="5.8" y="19.2" font-size="12.2" font-weight="bold" fill="#111">(a)</text>
<rect x="497.1" y="32.5" width="43.6" height="85.3" rx="1.5" fill="#fff" stroke="#d4d4d4" stroke-width="0.8"/>
<path d="M499.4 37.6H515" stroke="#3a3abf" stroke-width="1.6"/>
<text x="521.3" y="40.1" font-size="7.1" fill="#1c1c1c">500</text>
<path d="M499.4 48.2H515" stroke="#2a9c54" stroke-width="1.6"/>
<text x="521.3" y="50.7" font-size="7.1" fill="#1c1c1c">1000</text>
<path d="M499.4 58.8H515" stroke="#dc4848" stroke-width="1.6"/>
<text x="521.3" y="61.3" font-size="7.1" fill="#1c1c1c">1400</text>
<path d="M499.4 69.3H515" stroke="#10c8d0" stroke-width="1.6"/>
<text x="521.3" y="71.8" font-size="7.1" fill="#1c1c1c">1800</text>
<path d="M499.4 79.9H515" stroke="#c838c8" stroke-width="1.6"/>
<text x="521.3" y="82.4" font-size="7.1" fill="#1c1c1c">2000</text>
<path d="M499.4 90.5H515" stroke="#bcbc38" stroke-width="1.6"/>
<text x="521.3" y="93" font-size="7.1" fill="#1c1c1c">2500</text>
<path d="M499.4 101.1H515" stroke="#222222" stroke-width="1.6"/>
<text x="521.3" y="103.6" font-size="7.1" fill="#1c1c1c">3750</text>
<path d="M499.4 111.7H515" stroke="#ff9438" stroke-width="1.6"/>
<text x="521.3" y="114.2" font-size="7.1" fill="#1c1c1c">4000</text>
<path d="M82.7 245.4V409M147.6 245.4V409M212.6 245.4V409M277.5 245.4V409M342.4 245.4V409M407.4 245.4V409M472.3 245.4V409M41 397.7H494M41 363.2H494M41 328.7H494M41 294.2H494M41 259.7H494" stroke="#ececec" stroke-width="0.7" fill="none"/>
<g clip-path="url(#cb)" fill="none" stroke-linejoin="round" stroke-linecap="butt">
<polyline points="61.3,369.8 64.3,372.9 67.3,375.8 70.3,378.4 73.3,380.8 76.3,382.9 79.8,385.1 82.8,386.8 86.3,388.4 89.3,389.6 92.8,390.7 96.3,391.5 99.8,392.2 103.3,392.5 106.8,392.7 110.3,392.6 114.3,392.3 118.3,391.7 122.8,390.8 127.3,389.6 131.8,388.2 135.3,386.9 138.8,385.3 142.3,383.4 145.3,381.5 146.3,380.7 147.3,379.7 148.3,378.5 149.3,377.1 150.8,374.4 155.3,364.9 156.8,362.3 157.8,360.8 158.8,359.6 159.8,358.8 160.3,358.5 160.8,358.4 161.3,358.4 161.8,358.4 162.3,358.6 162.8,358.9 163.8,359.7 164.8,360.9 166.3,362.9 167.3,364.5 168.8,367.2 172.8,374.8 174.8,378.4 176.3,380.8 178.3,383.5 180.3,385.9 181.3,386.9 182.8,388.2 183.8,389.1 185.3,390.1 186.8,391.1 188.3,391.9 190.3,392.8 193.3,394.1 196.3,395.2 199.8,396.3 202.8,397.1 206.3,398 209.8,398.8 213.3,399.4 217.3,400.1 221.3,400.6 225.8,401.1 229.8,401.4 233.8,401.6 237.3,401.7 241.3,401.8 244.8,401.7 248.8,401.5 252.3,401.2 255.8,400.7 259.3,400.2 264.8,399.1 276.8,396.2 279.8,395.7 282.3,395.3 284.8,395 286.8,394.9 293.8,394.8 296.3,394.8 298.8,394.5 301.3,394.1 302.8,393.8 304.8,393.1 306.8,392.4 308.8,391.5 310.8,390.5 313.3,389.2 315.3,388 317.8,386.3 319.8,384.9 321.3,383.8 322.8,382.5 324.3,381 325.8,379.2 326.8,377.9 328.3,375.6 329.3,374 330.3,372.1 331.3,370 333.3,365.4 335.3,360.2 340.8,345.1 342.3,341.3 343.3,339.1 344.8,336.1 345.8,334.5 346.3,333.8 347.3,332.7 347.8,332.3 348.3,332 348.8,331.8 349.3,331.7 349.8,331.8 350.3,331.9 350.8,332.1 351.3,332.5 351.8,333 352.3,333.6 352.8,334.4 353.8,336.2 354.8,338.4 356.3,342.3 361.8,358.6 363.3,362.7 364.8,366.5 366.3,370 368.3,374.1 369.8,376.8 371.8,380 373.8,382.6 375.8,384.9 377.8,386.7 379.8,388.2 381.8,389.4 382.8,389.9 384.3,390.5 386.8,391.3 389.8,391.9 393.3,392.5 398.3,393.2 402.3,393.6 406.3,394 410.3,394.2 413.8,394.4 417.3,394.4 420.8,394.4 423.8,394.2 426.8,394 429.3,393.6 431.8,393.2 434.3,392.6 436.3,392 438.8,391.2 440.8,390.3 443.3,389.1 445.3,388 447.3,386.7 449.3,385.3 451.3,383.7 453.3,381.9 455.3,379.9 457.3,377.8 459.3,375.4 461.3,372.9 463.3,370.1 464.8,367.8 466.8,364.6 468.8,361.2 470.8,357.5 472.3,354.5" stroke="#0808f4" stroke-width="1.9" />
<polyline points="61.3,349.5 64.3,352.2 67.3,354.6 70.3,356.7 71.8,357.6 73.8,358.8 75.3,359.5 77.3,360.4 80.8,361.7 84.3,362.7 86.3,363.2 88.3,363.5 91.3,363.9 94.3,364.1 97.8,364.2 101.3,364.1 104.3,363.9 107.8,363.6 119.3,362.4 123.8,362 128.8,361.8 136.3,361.6 138.3,361.5 139.8,361.2 141.3,360.9 142.8,360.4 144.3,359.8 145.3,359.3 146.3,358.7 147.3,358 148.3,357 148.8,356.4 149.8,354.9 150.3,354 151.3,352 152.8,348.3 155.8,340.5 156.8,338.1 157.8,336 158.8,334.3 159.8,332.9 160.3,332.5 160.8,332.1 161.3,331.9 161.8,331.8 162.3,331.9 162.8,332.2 163.3,332.5 163.8,333 164.8,334.3 166.3,336.8 170.3,344.6 172.8,349 174.3,351.4 175.8,353.6 177.3,355.6 178.8,357.5 180.3,359.1 181.8,360.7 183.3,362 184.8,363.2 186.3,364.3 188.3,365.5 189.8,366.3 191.8,367.2 195.3,368.6 201.8,370.7 204.3,371.6 214.8,375.7 218.8,377.1 221.3,377.9 223.3,378.5 225.8,379 228.3,379.4 232.3,379.9 237.3,380.2 243.8,380.4 250.8,380.3 256.3,380.2 261.3,379.9 266.3,379.4 270.8,378.8 274.8,378 278.8,377.1 281.8,376.3 288.8,374.3 292.3,373.4 295.8,372.8 300.8,372.4 302.3,372.1 304.3,371.4 305.8,370.8 307.3,370 308.8,369.1 310.8,367.7 313.8,365.4 319.3,360.9 322.3,358.2 323.8,356.7 324.8,355.6 326.8,352.9 327.8,351.4 328.8,349.7 329.8,347.8 330.8,345.7 331.8,343.5 332.8,341 334.8,335.5 336.8,329.5 341.8,314 343.8,308.3 344.8,306 345.3,305 345.8,304.2 346.3,303.6 346.8,303.2 347.3,303 347.8,303.1 348.3,303.2 349.3,303.7 350.3,304.4 350.8,304.8 351.3,305.4 351.8,306.2 352.8,308.3 353.8,310.9 355.3,315.5 358.8,327.9 360.8,334.5 362.3,339 364.3,344.4 366.3,349.2 367.3,351.3 368.8,354.3 369.8,356.1 371.3,358.5 372.3,360 373.8,361.9 375.8,364.2 376.8,365.1 378.3,366.4 379.3,367.1 380.8,368.1 382.3,368.9 383.8,369.5 385.3,370.1 387.3,370.6 392.8,372 400.3,374 403.3,374.6 404.8,374.7 406.3,374.7 407.8,374.6 409.8,374.2 411.8,373.6 415.3,372.3 417.3,371.7 418.8,371.3 420.3,371.1 421.8,371 423.3,371.1 425.3,371.4 429.3,372 431.3,372.2 433.8,372.2 436.3,371.9 438.8,371.3 441.3,370.5 443.8,369.3 446.3,367.7 448.3,366.3 449.8,365 451.8,363.2 453.3,361.7 455.3,359.4 456.8,357.6 458.3,355.6 459.8,353.5 461.8,350.5 463.3,348 466.3,342.7 469.3,336.8 472.3,330.3" stroke="#0a8410" stroke-width="1.9" />
<polyline points="61.3,345.8 65.3,349.3 68.8,352.2 72.8,355.3 76.3,357.8 79.8,360.1 83.3,362.2 86.8,364 90.3,365.7 93.8,367 96.8,368 99.8,368.8 103.3,369.5 106.3,369.9 109.8,370.2 113.3,370.2 116.8,370 120.3,369.5 124.3,368.8 128.3,367.7 131.8,366.5 135.3,365.1 138.3,363.6 141.3,361.9 144.3,359.9 146.3,358.2 147.8,356.7 149.3,355 150.8,352.9 151.8,351.3 152.8,349.5 156.3,342.4 157.3,340.4 158.3,338.8 158.8,338.1 159.8,336.9 160.3,336.6 160.8,336.3 161.3,336.2 161.8,336.3 162.3,336.5 162.8,336.9 163.3,337.3 164.3,338.6 165.8,341 168.3,345.7 169.3,347.4 170.8,349.6 172.3,351.4 175.8,355.2 180.3,360.3 182.3,362.3 183.8,363.7 185.3,364.9 186.8,366 188.8,367.2 190.8,368.3 193.8,369.8 196.8,371.1 199.8,372.4 202.3,373.3 205.3,374.3 207.8,375.1 210.8,375.8 213.3,376.4 216.3,377 218.8,377.4 221.8,377.7 224.3,378 227.3,378.1 232.8,378.1 235.8,378 239.3,377.8 242.8,377.4 246.8,377 253.8,376 270.3,373.4 274.8,372.8 278.8,372.3 282.3,372 285.8,371.7 295.8,371.3 299.3,371 301.3,370.6 302.8,370.2 304.3,369.8 305.8,369.3 307.3,368.6 309.3,367.7 312.8,365.8 315.3,364.2 318.3,362.2 320.3,360.7 322.3,359 323.8,357.5 325.3,355.8 326.8,353.9 328.3,351.6 329.8,349.1 330.8,347.2 331.8,345.1 333.3,341.6 335.8,335.1 340.8,321.1 342.3,317.4 343.3,315.2 344.8,312.5 345.8,311.1 346.3,310.5 347.3,309.6 347.8,309.3 348.3,309 348.8,308.9 349.3,308.9 349.8,308.9 350.3,309.1 350.8,309.4 351.3,309.8 351.8,310.3 352.8,311.8 353.3,312.7 354.3,314.8 355.3,317.3 356.8,321.6 362.3,339.2 363.8,343.7 364.8,346.4 366.3,350.1 367.8,353.3 369.3,356.1 370.8,358.4 371.8,359.8 372.8,361 374.8,363 375.8,363.9 377.3,365.1 379.8,366.8 381.3,367.7 382.8,368.4 385.8,369.7 388.8,370.7 392.3,371.6 395.3,372.1 398.3,372.5 401.3,372.8 404.8,373 408.3,373 412.3,372.9 416.3,372.7 421.3,372.4 424.8,372.1 427.8,371.8 430.8,371.4 433.3,370.9 435.8,370.3 438.3,369.6 440.8,368.7 442.8,367.8 444.8,366.9 446.8,365.7 448.8,364.5 450.8,363 452.8,361.4 454.8,359.7 456.8,357.7 458.3,356.1 460.3,353.7 461.8,351.8 463.8,349.1 465.3,346.9 467.3,343.7 468.8,341.2 470.8,337.5 472.3,334.6" stroke="#f41414" stroke-width="1.9" />
<polyline points="61.3,320.9 63.3,323.5 65.3,325.7 67.3,327.6 69.3,329.1 71.3,330.4 72.3,330.9 73.8,331.6 76.3,332.5 78.8,333.1 81.8,333.5 85.3,333.7 91.3,333.8 106.3,333.8 113.3,333.9 117.8,334 122.3,334.3 132.3,335.2 134.8,335.2 136.8,335 138.3,334.6 139.3,334.3 140.8,333.6 141.8,333 143.3,331.9 144.3,331 145.3,329.9 146.3,328.8 147.8,326.8 148.8,325.3 150.8,321.9 152.8,318 156.3,310.4 157.3,308.4 158.3,306.7 159.3,305.4 159.8,304.9 160.3,304.5 160.8,304.3 161.3,304.2 161.8,304.3 162.3,304.5 162.8,304.9 163.3,305.3 164.3,306.6 165.3,308.3 166.8,311.3 170.3,319.2 171.8,322.4 173.8,326.2 175.8,329.5 176.8,331 177.8,332.3 179.3,334 180.8,335.3 181.8,336 182.8,336.6 184.3,337.3 185.8,337.8 187.3,338.1 192.3,339.2 193.8,339.6 195.8,340.3 197.8,341.2 200.3,342.5 208.3,346.9 211.8,348.7 213.8,349.6 215.8,350.3 217.8,351 219.8,351.6 223.3,352.4 227.3,353.1 232.3,353.9 238.8,354.8 248.3,356 251.8,356.3 255.3,356.5 258.8,356.5 260.8,356.4 262.8,356.1 264.8,355.7 267.3,355.1 269.3,354.5 271.8,353.7 274.3,352.8 277.3,351.6 289.3,346.5 300.3,342.1 304.3,340.3 307.3,338.7 309.8,337.2 312.3,335.4 314.3,333.7 315.8,332.3 317.3,330.6 318.8,328.7 319.8,327.3 321.3,325 322.3,323.3 324.3,319.5 326.3,315.1 327.8,311.3 332.8,297.2 334.8,291.9 336.8,287.1 338.8,283 339.8,281.3 340.8,279.7 342.3,277.8 343.3,276.9 343.8,276.5 344.8,276 345.3,275.8 346.3,275.8 346.8,275.8 347.3,276 348.3,276.6 348.8,277 349.3,277.6 350.3,278.9 351.3,280.5 352.3,282.5 353.8,285.9 355.8,291.1 357.8,296.8 362.8,311.7 364.8,317.3 366.3,321.3 368.3,326 369.8,329.1 371.3,331.7 372.8,333.8 373.8,335 374.8,335.9 375.8,336.8 376.8,337.5 378.3,338.5 379.8,339.3 382.8,340.8 385.8,341.9 389.3,343 395.3,344.6 399.3,345.4 401.8,345.7 403.8,345.9 405.8,345.9 407.8,345.7 409.3,345.4 411.3,345 417.8,343 420.3,342.4 422.8,342 424.8,341.9 426.8,342 427.8,342.2 428.8,342.5 430.3,343.1 432.8,344.5 434.3,345.1 435.8,345.4 437.3,345.5 438.8,345.2 440.8,344.6 442.8,343.7 444.8,342.6 446.8,341.2 448.3,339.9 450.3,338 451.8,336.4 453.3,334.6 454.8,332.6 456.3,330.5 458.3,327.4 459.8,324.9 461.8,321.3 463.3,318.4 465.3,314.3 468.8,306.6 472.3,298.1" stroke="#08c4c8" stroke-width="1.9" />
<polyline points="61.3,321 63.8,323.8 66.3,326.4 68.8,328.9 71.3,331.1 73.8,333.2 76.3,335.1 78.8,336.8 81.8,338.7 84.8,340.4 88.3,342.2 91.8,343.8 95.8,345.5 99.3,346.7 102.3,347.7 105.3,348.4 107.8,348.8 110.8,349.1 112.3,349.1 113.8,349 115.3,348.9 116.8,348.6 118.3,348.3 120.3,347.7 124.3,346.4 136.8,341.9 138.8,341.1 140.3,340.3 141.8,339.5 143.3,338.6 145.3,337.2 146.3,336.4 147.3,335.5 148.8,333.8 149.8,332.4 150.8,330.7 151.8,328.7 154.8,322.2 155.8,320.2 157.3,317.6 158.3,316.1 159.3,315 160.3,314.1 161.3,313.5 161.8,313.4 162.3,313.3 162.8,313.3 163.3,313.5 163.8,313.7 164.3,314.1 165.3,315 166.3,316.4 167.3,318.1 168.3,320.1 172.8,329.9 174.3,332.9 175.8,335.3 176.8,336.5 177.8,337.6 178.8,338.4 180.3,339.4 184.3,341.7 190.8,345.5 193.3,346.8 195.8,348.1 198.8,349.4 201.3,350.3 204.3,351.3 206.8,352.1 209.3,352.7 211.8,353.2 214.8,353.7 217.3,354 220.3,354.2 223.3,354.4 226.3,354.4 230.8,354.4 235.8,354.1 240.8,353.8 252.8,352.8 259.3,352.3 264.8,352.2 274.3,352.2 278.3,352.2 282.3,352 286.3,351.6 288.8,351.2 291.3,350.7 293.3,350.2 295.8,349.5 297.8,348.8 300.3,347.8 302.8,346.7 305.3,345.5 308.3,344 311.3,342.3 314.3,340.4 317.3,338.4 319.3,337 321.3,335.5 322.8,334.2 324.3,332.7 326.3,330.4 328.3,327.5 329.3,325.9 330.3,324.1 331.8,321 333.3,317.6 335.3,312.5 340.3,298.8 341.8,294.8 343.3,291.2 344.8,288 345.8,286.3 346.3,285.5 347.3,284.3 348.3,283.4 348.8,283.2 349.3,283 349.8,283 350.3,283.1 350.8,283.3 351.3,283.7 351.8,284.2 352.3,284.8 352.8,285.6 353.3,286.6 354.3,288.8 355.3,291.4 356.3,294.4 360.3,307.3 362.3,313.2 363.3,316 364.8,319.8 365.8,322.2 367.3,325.5 368.3,327.5 369.8,330.3 370.8,332 372.3,334.3 373.3,335.8 374.8,337.7 375.8,338.9 377.3,340.5 378.8,341.9 380.3,343.1 381.8,344.1 383.8,345.3 385.3,346 387.3,346.9 389.3,347.5 391.3,348.1 394.3,348.8 397.8,349.5 401.3,350.1 404.8,350.5 408.3,350.8 411.8,351 415.3,351.1 418.8,351.1 423.8,350.9 427.8,350.5 431.8,349.9 435.3,349.1 438.8,348 440.8,347.2 442.3,346.5 444.3,345.5 445.8,344.7 448.8,342.7 451.8,340.5 454.8,337.8 457.8,334.7 460.8,331.2 463.8,327.3 466.8,322.8 469.8,317.8 472.3,313.2" stroke="#cc10cc" stroke-width="1.9" />
<polyline points="61.3,309.8 64.3,313 67.3,316 70.3,318.9 73.8,321.9 76.8,324.2 80.3,326.7 83.8,329 87.3,331 90.8,332.8 94.8,334.5 98.3,335.8 102.3,337 105.8,337.9 109.3,338.5 112.3,338.7 115.3,338.7 117.3,338.5 119.3,338.1 121.3,337.6 123.8,336.7 127.3,335.2 134.8,331.7 141.3,329 142.8,328.2 144.3,327.2 145.8,326 146.8,325 148.3,323.2 149.3,321.8 150.3,320.2 151.3,318.4 155.8,309.6 156.8,307.8 157.8,306.4 158.8,305.2 159.3,304.8 159.8,304.5 160.3,304.3 160.8,304.1 161.3,304.1 161.8,304.2 162.8,304.5 163.3,304.8 164.3,305.7 165.3,306.8 166.8,308.9 167.8,310.6 169.3,313.4 173.8,322.7 175.3,325.3 176.3,326.7 177.8,328.5 179.3,330 180.8,331.1 182.8,332.4 185.3,334 187.8,335.4 190.3,336.7 192.8,337.8 195.3,338.9 197.8,339.9 200.3,340.7 203.3,341.6 205.8,342.3 208.8,342.9 211.3,343.4 214.3,343.8 216.8,344 219.8,344.2 222.8,344.3 225.8,344.3 229.8,344.2 234.3,343.9 238.8,343.4 250.8,341.9 254.8,341.5 258.3,341.3 261.8,341.3 264.8,341.3 272.8,342 275.8,342.2 278.3,342.2 280.3,342 281.8,341.8 283.8,341.4 290.3,339.8 295.8,338.6 298.3,338 300.3,337.3 302.3,336.6 304.3,335.6 306.3,334.6 309.3,332.8 312.8,330.4 316.8,327.4 320.3,324.6 322.8,322.3 324.8,320.3 326.8,318 328.3,316 330.3,313.1 331.8,310.6 333.8,306.8 335.3,303.6 336.8,300 337.8,297.4 342.3,285.1 343.3,282.6 344.3,280.5 345.3,278.7 346.3,277.3 346.8,276.8 347.3,276.5 347.8,276.2 348.3,276.1 348.8,276.1 349.3,276.3 349.8,276.5 350.3,276.9 350.8,277.3 351.3,277.9 352.3,279.2 353.8,282 355.3,285.3 356.8,289.1 358.3,293.3 363.3,307.8 364.8,311.7 365.8,314.1 367.3,317.3 368.3,319.2 369.3,321 370.8,323.3 371.8,324.6 372.8,325.9 374.8,328 375.8,328.9 377.3,330.1 378.8,331.1 380.3,332 381.8,332.8 383.3,333.5 386.3,334.7 389.3,335.6 395.8,337.3 401.3,338.6 404.8,339.4 407.8,339.9 410.8,340.4 413.3,340.7 415.8,340.9 418.3,341 420.8,341 423.3,340.9 425.8,340.7 428.3,340.4 430.8,339.9 432.8,339.4 435.3,338.7 437.3,337.9 439.3,337.1 441.3,336.2 443.3,335.1 445.3,333.9 447.3,332.6 449.3,331.2 451.3,329.6 453.3,327.9 455.3,326 457.3,324 459.3,321.9 461.3,319.5 464.8,315.1 466.8,312.3 468.8,309.3 472.3,303.7" stroke="#c0c020" stroke-width="1.9" />
<polyline points="61.3,298.5 63.8,301.7 66.8,305.1 69.8,308.2 72.8,311 75.8,313.5 78.8,315.8 81.8,317.8 85.3,319.8 88.8,321.6 92.3,323.1 96.3,324.5 100.3,325.7 104.8,326.7 108.3,327.3 110.3,327.5 111.8,327.6 114.8,327.6 116.8,327.4 118.3,327.2 119.8,326.8 121.8,326.2 124.8,325 130.8,322.1 133.3,321.1 134.8,320.5 136.3,320 140.3,319 141.8,318.6 143.3,317.9 144.8,317 146.3,315.6 147.3,314.5 148.3,313.2 149.3,311.5 150.3,309.7 151.3,307.6 155.3,299 156.3,297.1 157.3,295.4 158.3,294.1 159.3,293.2 159.8,292.9 160.3,292.7 160.8,292.6 161.3,292.6 161.8,292.6 162.3,292.8 163.3,293.4 164.3,294.4 165.3,295.7 166.3,297.3 169.8,303.9 171.8,307.4 174.3,311.1 176.8,314.4 179.3,317.1 181.8,319.5 184.3,321.5 185.8,322.6 187.3,323.5 189.3,324.7 191.3,325.7 193.3,326.5 195.3,327.3 197.8,328.1 200.3,328.9 207.8,330.9 213.8,332.2 216.8,332.8 219.3,333.1 221.8,333.4 224.3,333.7 226.8,333.8 229.3,333.8 232.3,333.7 235.8,333.3 239.8,332.7 250.3,330.9 253.8,330.4 256.8,330.2 259.8,330.2 262.3,330.4 264.8,330.7 269.3,331.8 270.8,332 272.8,332.2 274.3,332.1 276.3,331.7 280.3,330.6 282.8,330.1 285.8,329.6 292.3,328.7 295.3,328.1 297.3,327.6 298.8,327.1 300.3,326.4 302.3,325.3 304.3,324.1 306.3,322.7 313.3,317.3 315.8,315.5 317.8,314.2 321.8,311.9 323.8,310.5 325.3,309.3 326.3,308.3 327.3,307.3 328.3,306 329.8,303.9 330.8,302.2 331.8,300.3 333.3,297 335.8,290.8 341.3,276.1 342.8,272.5 343.8,270.3 345.3,267.5 346.3,265.9 346.8,265.3 347.8,264.3 348.3,263.9 348.8,263.6 349.3,263.5 349.8,263.4 350.3,263.5 350.8,263.7 351.3,264 351.8,264.5 352.3,265.1 352.8,265.8 353.8,267.7 354.8,270 356.3,274.1 357.8,278.7 360.8,288.5 362.3,293.2 363.8,297.6 365.3,301.5 366.8,305 367.8,307 368.8,308.8 370.3,311.3 371.3,312.7 372.3,313.9 373.3,315.1 374.8,316.6 375.8,317.5 377.3,318.7 378.8,319.7 380.3,320.7 381.8,321.6 383.8,322.6 387.3,324.2 391.3,325.6 396.8,327.3 402.3,328.7 405.3,329.4 407.8,329.8 410.8,330.2 413.3,330.5 416.3,330.7 418.8,330.8 421.3,330.7 423.8,330.5 426.3,330.3 428.8,329.8 431.3,329.3 433.3,328.8 435.8,327.9 437.8,327.2 440.3,326.1 442.3,325.1 444.8,323.7 446.8,322.4 448.8,321.1 450.8,319.6 453.3,317.5 455.3,315.7 457.3,313.8 459.3,311.7 461.3,309.4 462.8,307.5 464.8,304.9 466.3,302.7 467.8,300.3 469.3,297.8 470.8,295 472.3,292.1" stroke="#0a0a0a" stroke-width="1.9" />
<polyline points="61.3,281.4 64.3,284.9 67.3,288.2 70.3,291.3 73.8,294.6 76.8,297.2 80.3,300 83.8,302.6 87.3,304.9 90.8,307 94.8,309.2 98.8,311 102.8,312.6 106.3,313.8 108.3,314.4 109.8,314.7 112.8,315.2 115.3,315.3 117.3,315.3 119.3,315 120.8,314.6 122.8,313.9 125.8,312.6 131.8,309.6 134.3,308.4 136.3,307.6 140.3,306.4 142.3,305.6 143.8,304.8 144.8,304.1 146.3,302.8 147.3,301.7 148.3,300.4 149.3,298.9 150.8,296.3 155.3,287.4 156.3,285.7 157.3,284.2 158.3,283 158.8,282.5 159.8,281.8 160.8,281.4 161.3,281.4 161.8,281.4 162.3,281.5 163.3,282 164.3,282.8 165.3,283.9 166.3,285.4 167.3,287.1 168.3,288.9 172.3,297.1 173.8,299.9 175.3,302.5 176.3,303.9 177.8,305.8 179.3,307.3 181.3,309 183.3,310.3 184.8,311.3 186.8,312.3 188.3,313.1 190.3,313.9 193.8,315.1 198.3,316.4 207.3,318.5 213.3,319.6 216.3,320.1 218.8,320.4 221.3,320.5 223.8,320.6 226.3,320.5 228.3,320.4 230.3,320.1 232.3,319.8 235.8,318.9 242.3,316.8 245.3,316 247.8,315.4 250.3,315.1 252.8,315 255.3,315.2 258.3,315.6 265.3,316.6 267.8,316.9 270.3,317 273.3,317.1 276.3,317.1 279.3,316.9 282.8,316.5 285.8,316.1 289.3,315.6 292.3,315 294.8,314.4 296.8,313.8 298.8,313.1 300.3,312.5 302.3,311.4 304.3,310.3 306.3,309 315.8,302.3 317.8,301 321.3,298.9 323.3,297.6 324.8,296.4 325.8,295.5 327.3,293.8 328.3,292.6 329.8,290.4 331.3,287.7 332.3,285.7 333.8,282.3 336.3,275.9 341.3,261.9 342.3,259.4 343.3,257.1 344.3,255.2 344.8,254.4 345.8,253.1 346.3,252.6 346.8,252.3 347.3,252 347.8,251.9 348.3,252 348.8,252.1 349.3,252.4 349.8,252.8 350.3,253.3 350.8,254 351.3,254.7 352.3,256.6 353.3,258.8 354.8,262.7 356.3,267 359.3,275.9 361.3,281.6 363.3,286.8 364.8,290.3 366.8,294.4 367.8,296.2 369.3,298.8 371.3,301.7 372.3,303 373.8,304.8 375.8,306.7 376.8,307.6 378.3,308.7 379.3,309.4 380.8,310.3 383.3,311.5 384.8,312 386.8,312.7 394.3,314.7 403.8,317.6 408.3,318.8 410.8,319.4 412.8,319.8 414.8,320 416.8,320.1 418.8,320.2 420.3,320.1 421.8,319.9 423.8,319.5 426.3,318.9 428.8,318.2 431.8,317.1 436.3,315.4 439.8,314 442.3,313 444.8,311.8 447.3,310.5 449.3,309.3 450.8,308.3 452.8,306.9 454.3,305.8 456.3,304.1 457.8,302.7 460.8,299.5 463.8,295.9 466.8,291.8 469.8,287.1 472.3,282.7" stroke="#ff8a24" stroke-width="1.9" />
</g>
<rect x="41" y="245.4" width="453" height="163.6" fill="none" stroke="#484848" stroke-width="1"/>
<path d="M82.7 409v2.6M147.6 409v2.6M212.6 409v2.6M277.5 409v2.6M342.4 409v2.6M407.4 409v2.6M472.3 409v2.6M41 397.7h-2.6M41 363.2h-2.6M41 328.7h-2.6M41 294.2h-2.6M41 259.7h-2.6" stroke="#484848" stroke-width="0.8" fill="none"/>
<text x="82.7" y="421.1" font-size="8.8" text-anchor="middle" fill="#1c1c1c">1020</text>
<text x="147.6" y="421.1" font-size="8.8" text-anchor="middle" fill="#1c1c1c">1040</text>
<text x="212.6" y="421.1" font-size="8.8" text-anchor="middle" fill="#1c1c1c">1060</text>
<text x="277.5" y="421.1" font-size="8.8" text-anchor="middle" fill="#1c1c1c">1080</text>
<text x="342.4" y="421.1" font-size="8.8" text-anchor="middle" fill="#1c1c1c">1100</text>
<text x="407.4" y="421.1" font-size="8.8" text-anchor="middle" fill="#1c1c1c">1120</text>
<text x="472.3" y="421.1" font-size="8.8" text-anchor="middle" fill="#1c1c1c">1140</text>
<text x="36.2" y="400.9" font-size="9" text-anchor="end" fill="#1c1c1c">1</text>
<text x="36.2" y="366.4" font-size="9" text-anchor="end" fill="#1c1c1c">2</text>
<text x="36.2" y="331.9" font-size="9" text-anchor="end" fill="#1c1c1c">3</text>
<text x="36.2" y="297.4" font-size="9" text-anchor="end" fill="#1c1c1c">4</text>
<text x="36.2" y="262.9" font-size="9" text-anchor="end" fill="#1c1c1c">5</text>
<text transform="translate(24 327) rotate(-90)" font-size="8.5" text-anchor="middle" fill="#1c1c1c">Absorbance</text>
<text x="268" y="434.4" font-size="9.25" text-anchor="middle" fill="#1c1c1c">Wavenumber[cm<tspan font-size="6.4" dy="-3.4">−1</tspan><tspan dy="3.4">]</tspan></text>
<text x="10.4" y="223.6" font-size="12.2" font-weight="bold" fill="#111">(b)</text>
<rect x="499.7" y="244.2" width="42.6" height="86.4" rx="1.5" fill="#fff" stroke="#d4d4d4" stroke-width="0.8"/>
<path d="M502 249.7H517.4" stroke="#3a3abf" stroke-width="1.6"/>
<text x="523.3" y="252.2" font-size="7.1" fill="#1c1c1c">500</text>
<path d="M502 260.3H517.4" stroke="#2a9c54" stroke-width="1.6"/>
<text x="523.3" y="262.8" font-size="7.1" fill="#1c1c1c">1000</text>
<path d="M502 270.9H517.4" stroke="#dc4848" stroke-width="1.6"/>
<text x="523.3" y="273.4" font-size="7.1" fill="#1c1c1c">1400</text>
<path d="M502 281.4H517.4" stroke="#10c8d0" stroke-width="1.6"/>
<text x="523.3" y="283.9" font-size="7.1" fill="#1c1c1c">1800</text>
<path d="M502 292H517.4" stroke="#c838c8" stroke-width="1.6"/>
<text x="523.3" y="294.5" font-size="7.1" fill="#1c1c1c">2000</text>
<path d="M502 302.6H517.4" stroke="#bcbc38" stroke-width="1.6"/>
<text x="523.3" y="305.1" font-size="7.1" fill="#1c1c1c">2500</text>
<path d="M502 313.2H517.4" stroke="#222222" stroke-width="1.6"/>
<text x="523.3" y="315.7" font-size="7.1" fill="#1c1c1c">3750</text>
<path d="M502 323.8H517.4" stroke="#ff9438" stroke-width="1.6"/>
<text x="523.3" y="326.3" font-size="7.1" fill="#1c1c1c">4000</text>
</svg>
</body></html>
